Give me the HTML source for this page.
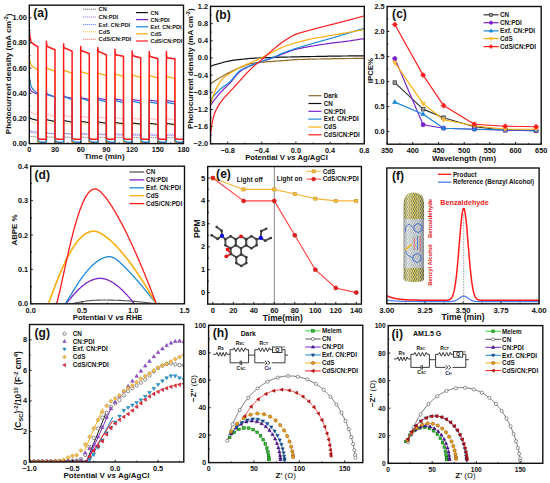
<!DOCTYPE html>
<html><head><meta charset="utf-8"><style>
html,body{margin:0;padding:0;background:#fff;}
svg{display:block;}
text{font-family:"Liberation Sans", sans-serif;}
</style></head><body>
<svg width="550" height="483" viewBox="0 0 550 483">
<rect width="550" height="483" fill="#fff"/>
<clipPath id="cd"><rect x="30.7" y="166.2" width="153.8" height="137.6"/></clipPath>
<g clip-path="url(#cd)">
<polyline points="71.7,303.8 72.2,303.7 72.8,303.5 73.3,303.4 73.8,303.3 74.4,303.2 74.9,303.1 75.4,302.9 75.9,302.8 76.5,302.7 77,302.6 77.5,302.5 78.1,302.4 78.6,302.3 79.1,302.2 79.6,302.1 80.2,302 80.7,301.9 81.2,301.8 81.8,301.7 82.3,301.6 82.8,301.6 83.3,301.5 83.9,301.4 84.4,301.3 84.9,301.2 85.5,301.2 86,301.1 86.5,301 87,301 87.6,300.9 88.1,300.8 88.6,300.8 89.2,300.7 89.7,300.7 90.2,300.6 90.7,300.6 91.3,300.5 91.8,300.5 92.3,300.4 92.9,300.4 93.4,300.3 93.9,300.3 94.5,300.3 95,300.2 95.5,300.2 96,300.2 96.6,300.2 97.1,300.1 97.6,300.1 98.2,300.1 98.7,300.1 99.2,300.1 99.7,300.1 100.3,300 100.8,300 101.3,300 101.9,300 102.4,300 102.9,300 103.4,300 104,300 104.5,300 105,300 105.6,300 106.1,300 106.6,300 107.1,300 107.7,300 108.2,300 108.7,300.1 109.3,300.1 109.8,300.1 110.3,300.1 110.8,300.1 111.4,300.1 111.9,300.1 112.4,300.1 113,300.1 113.5,300.2 114,300.2 114.5,300.2 115.1,300.2 115.6,300.2 116.1,300.2 116.7,300.3 117.2,300.3 117.7,300.3 118.2,300.3 118.8,300.4 119.3,300.4 119.8,300.4 120.4,300.4 120.9,300.5 121.4,300.5 121.9,300.5 122.5,300.5 123,300.6 123.5,300.6 124.1,300.6 124.6,300.7 125.1,300.7 125.6,300.7 126.2,300.7 126.7,300.8 127.2,300.8 127.8,300.9 128.3,300.9 128.8,300.9 129.4,301 129.9,301 130.4,301 130.9,301.1 131.5,301.1 132,301.2 132.5,301.2 133.1,301.2 133.6,301.3 134.1,301.3 134.6,301.4 135.2,301.4 135.7,301.5 136.2,301.5 136.8,301.6 137.3,301.6 137.8,301.7 138.3,301.7 138.9,301.8 139.4,301.8 139.9,301.9 140.5,301.9 141,302 141.5,302 142,302.1 142.6,302.1 143.1,302.2 143.6,302.3 144.2,302.3 144.7,302.4 145.2,302.4 145.7,302.5 146.3,302.6 146.8,302.6 147.3,302.7 147.9,302.8 148.4,302.8 148.9,302.9 149.4,302.9 150,303 150.5,303.1 151,303.2 151.6,303.2 152.1,303.3 152.6,303.4 153.1,303.4 153.7,303.5 154.2,303.6 154.7,303.7 155.3,303.7 155.8,303.8" fill="none" stroke="#555555" stroke-width="1.1" stroke-linejoin="round"/>
<polyline points="65.6,303.8 66,303.4 66.4,303 66.9,302.6 67.3,302.1 67.7,301.6 68.2,301.1 68.6,300.6 69,300.1 69.4,299.6 69.9,299.1 70.3,298.6 70.7,298 71.2,297.5 71.6,297 72,296.5 72.5,296 72.9,295.5 73.3,295 73.8,294.6 74.2,294.1 74.6,293.6 75.1,293.1 75.5,292.7 75.9,292.2 76.4,291.7 76.8,291.3 77.2,290.8 77.7,290.4 78.1,290 78.5,289.5 79,289.1 79.4,288.7 79.8,288.3 80.3,287.9 80.7,287.5 81.1,287.1 81.5,286.7 82,286.4 82.4,286 82.8,285.6 83.3,285.3 83.7,285 84.1,284.6 84.6,284.3 85,284 85.4,283.7 85.9,283.4 86.3,283.1 86.7,282.8 87.2,282.5 87.6,282.3 88,282 88.5,281.8 88.9,281.5 89.3,281.3 89.8,281.1 90.2,280.9 90.6,280.7 91.1,280.5 91.5,280.3 91.9,280.1 92.3,279.9 92.8,279.8 93.2,279.6 93.6,279.5 94.1,279.3 94.5,279.2 94.9,279.1 95.4,279 95.8,278.9 96.2,278.8 96.7,278.7 97.1,278.6 97.5,278.5 98,278.5 98.4,278.4 98.8,278.4 99.3,278.4 99.7,278.4 100.1,278.3 100.6,278.3 101,278.4 101.4,278.4 101.9,278.4 102.3,278.5 102.7,278.5 103.2,278.6 103.6,278.7 104,278.8 104.4,278.9 104.9,279 105.3,279.1 105.7,279.2 106.2,279.4 106.6,279.5 107,279.7 107.5,279.8 107.9,280 108.3,280.2 108.8,280.4 109.2,280.6 109.6,280.8 110.1,281 110.5,281.2 110.9,281.5 111.4,281.7 111.8,282 112.2,282.2 112.7,282.5 113.1,282.7 113.5,283 114,283.3 114.4,283.6 114.8,283.9 115.2,284.2 115.7,284.5 116.1,284.8 116.5,285.2 117,285.5 117.4,285.8 117.8,286.2 118.3,286.5 118.7,286.9 119.1,287.3 119.6,287.6 120,288 120.4,288.4 120.9,288.8 121.3,289.2 121.7,289.6 122.2,290 122.6,290.4 123,290.9 123.5,291.3 123.9,291.7 124.3,292.2 124.8,292.6 125.2,293.1 125.6,293.5 126,294 126.5,294.4 126.9,294.9 127.3,295.4 127.8,295.9 128.2,296.4 128.6,296.9 129.1,297.4 129.5,297.9 129.9,298.4 130.4,298.9 130.8,299.4 131.2,300 131.7,300.5 132.1,301 132.5,301.6 133,302.1 133.4,302.7 133.8,303.2 134.3,303.8" fill="none" stroke="#7a22c8" stroke-width="1.3" stroke-linejoin="round"/>
<polyline points="65,303.8 65.6,303.1 66.2,302.3 66.8,301.5 67.3,300.6 67.9,299.7 68.5,298.7 69.1,297.8 69.6,296.9 70.2,295.9 70.8,295 71.4,294 71.9,293.1 72.5,292.1 73.1,291.2 73.7,290.2 74.2,289.3 74.8,288.4 75.4,287.5 76,286.6 76.5,285.7 77.1,284.8 77.7,283.9 78.2,283 78.8,282.1 79.4,281.3 80,280.4 80.5,279.6 81.1,278.8 81.7,278 82.3,277.2 82.8,276.4 83.4,275.6 84,274.9 84.6,274.1 85.1,273.4 85.7,272.7 86.3,272 86.9,271.3 87.4,270.6 88,270 88.6,269.3 89.2,268.7 89.7,268.1 90.3,267.5 90.9,266.9 91.4,266.3 92,265.7 92.6,265.2 93.2,264.7 93.7,264.2 94.3,263.7 94.9,263.2 95.5,262.7 96,262.3 96.6,261.8 97.2,261.4 97.8,261 98.3,260.6 98.9,260.3 99.5,259.9 100.1,259.6 100.6,259.3 101.2,259 101.8,258.7 102.4,258.4 102.9,258.2 103.5,257.9 104.1,257.7 104.6,257.5 105.2,257.3 105.8,257.2 106.4,257 106.9,256.9 107.5,256.8 108.1,256.7 108.7,256.7 109.2,256.7 109.8,256.7 110.4,256.7 111,256.8 111.5,257 112.1,257.1 112.7,257.3 113.3,257.6 113.8,257.9 114.4,258.2 115,258.5 115.6,258.9 116.1,259.3 116.7,259.7 117.3,260.2 117.9,260.7 118.4,261.1 119,261.6 119.6,262.1 120.1,262.6 120.7,263.2 121.3,263.7 121.9,264.2 122.4,264.8 123,265.3 123.6,265.9 124.2,266.5 124.7,267 125.3,267.6 125.9,268.2 126.5,268.8 127,269.4 127.6,270 128.2,270.6 128.8,271.2 129.3,271.8 129.9,272.4 130.5,273 131.1,273.6 131.6,274.2 132.2,274.9 132.8,275.5 133.3,276.1 133.9,276.8 134.5,277.4 135.1,278.1 135.6,278.7 136.2,279.4 136.8,280 137.4,280.7 137.9,281.3 138.5,282 139.1,282.7 139.7,283.3 140.2,284 140.8,284.7 141.4,285.4 142,286 142.5,286.7 143.1,287.4 143.7,288.1 144.3,288.8 144.8,289.5 145.4,290.2 146,290.9 146.5,291.6 147.1,292.3 147.7,293 148.3,293.7 148.8,294.4 149.4,295.1 150,295.8 150.6,296.5 151.1,297.3 151.7,298 152.3,298.7 152.9,299.4 153.4,300.1 154,300.9 154.6,301.6 155.2,302.3 155.7,303.1 156.3,303.8" fill="none" stroke="#1a86d8" stroke-width="1.3" stroke-linejoin="round"/>
<polyline points="48.1,303.8 48.8,302.3 49.5,300.6 50.2,298.8 50.9,297.1 51.5,295.3 52.2,293.5 52.9,291.6 53.6,289.8 54.3,288 54.9,286.3 55.6,284.5 56.3,282.7 57,281 57.7,279.3 58.3,277.6 59,275.9 59.7,274.3 60.4,272.7 61.1,271.1 61.7,269.5 62.4,267.9 63.1,266.4 63.8,264.9 64.5,263.5 65.1,262 65.8,260.6 66.5,259.2 67.2,257.9 67.9,256.6 68.5,255.3 69.2,254 69.9,252.8 70.6,251.6 71.3,250.4 71.9,249.3 72.6,248.2 73.3,247.2 74,246.1 74.7,245.1 75.3,244.2 76,243.2 76.7,242.3 77.4,241.5 78.1,240.6 78.7,239.8 79.4,239.1 80.1,238.3 80.8,237.7 81.5,237 82.1,236.4 82.8,235.8 83.5,235.2 84.2,234.7 84.9,234.2 85.5,233.8 86.2,233.4 86.9,233 87.6,232.7 88.3,232.4 89,232.1 89.6,231.8 90.3,231.6 91,231.5 91.7,231.4 92.4,231.3 93,231.2 93.7,231.2 94.4,231.3 95.1,231.3 95.8,231.4 96.4,231.6 97.1,231.8 97.8,232 98.5,232.3 99.2,232.6 99.8,232.9 100.5,233.2 101.2,233.6 101.9,234 102.6,234.4 103.2,234.8 103.9,235.3 104.6,235.8 105.3,236.3 106,236.8 106.6,237.3 107.3,237.8 108,238.4 108.7,238.9 109.4,239.5 110,240.1 110.7,240.7 111.4,241.3 112.1,242 112.8,242.6 113.4,243.3 114.1,244 114.8,244.6 115.5,245.3 116.2,246 116.8,246.8 117.5,247.5 118.2,248.2 118.9,249 119.6,249.7 120.2,250.5 120.9,251.3 121.6,252.1 122.3,252.9 123,253.7 123.6,254.5 124.3,255.4 125,256.2 125.7,257.1 126.4,257.9 127,258.8 127.7,259.7 128.4,260.6 129.1,261.5 129.8,262.4 130.5,263.3 131.1,264.2 131.8,265.1 132.5,266.1 133.2,267 133.9,268 134.5,268.9 135.2,269.9 135.9,270.9 136.6,271.9 137.3,272.9 137.9,273.9 138.6,274.9 139.3,275.9 140,276.9 140.7,278 141.3,279 142,280.1 142.7,281.1 143.4,282.2 144.1,283.3 144.7,284.3 145.4,285.4 146.1,286.5 146.8,287.6 147.5,288.7 148.1,289.9 148.8,291 149.5,292.1 150.2,293.3 150.9,294.4 151.5,295.5 152.2,296.7 152.9,297.9 153.6,299 154.3,300.2 154.9,301.4 155.6,302.6 156.3,303.8" fill="none" stroke="#f9ad0d" stroke-width="1.6" stroke-linejoin="round"/>
<polyline points="56.3,303.8 57,302.2 57.6,300.1 58.2,297.7 58.8,295.2 59.5,292.5 60.1,289.8 60.7,287 61.4,284.1 62,281.3 62.6,278.4 63.2,275.5 63.9,272.6 64.5,269.7 65.1,266.8 65.8,263.9 66.4,261.1 67,258.2 67.7,255.4 68.3,252.7 68.9,249.9 69.5,247.2 70.2,244.6 70.8,241.9 71.4,239.4 72.1,236.8 72.7,234.4 73.3,232 73.9,229.6 74.6,227.3 75.2,225 75.8,222.8 76.5,220.7 77.1,218.6 77.7,216.6 78.3,214.6 79,212.8 79.6,210.9 80.2,209.2 80.9,207.5 81.5,205.9 82.1,204.4 82.7,202.9 83.4,201.5 84,200.2 84.6,198.9 85.3,197.7 85.9,196.6 86.5,195.6 87.1,194.6 87.8,193.7 88.4,192.9 89,192.2 89.7,191.5 90.3,190.9 90.9,190.4 91.5,189.9 92.2,189.6 92.8,189.3 93.4,189.1 94.1,189 94.7,188.9 95.3,188.9 95.9,189 96.6,189.2 97.2,189.5 97.8,189.8 98.5,190.2 99.1,190.6 99.7,191.1 100.3,191.6 101,192.2 101.6,192.9 102.2,193.5 102.9,194.2 103.5,194.9 104.1,195.6 104.7,196.4 105.4,197.2 106,198 106.6,198.8 107.3,199.7 107.9,200.6 108.5,201.4 109.1,202.4 109.8,203.3 110.4,204.2 111,205.2 111.7,206.2 112.3,207.2 112.9,208.2 113.5,209.2 114.2,210.2 114.8,211.3 115.4,212.3 116.1,213.4 116.7,214.5 117.3,215.6 118,216.7 118.6,217.9 119.2,219 119.8,220.2 120.5,221.3 121.1,222.5 121.7,223.7 122.4,224.9 123,226.1 123.6,227.4 124.2,228.6 124.9,229.8 125.5,231.1 126.1,232.4 126.8,233.7 127.4,234.9 128,236.2 128.6,237.6 129.3,238.9 129.9,240.2 130.5,241.5 131.2,242.9 131.8,244.2 132.4,245.6 133,247 133.7,248.4 134.3,249.8 134.9,251.2 135.6,252.6 136.2,254 136.8,255.4 137.4,256.9 138.1,258.3 138.7,259.8 139.3,261.3 140,262.7 140.6,264.2 141.2,265.7 141.8,267.2 142.5,268.7 143.1,270.2 143.7,271.8 144.4,273.3 145,274.8 145.6,276.4 146.2,277.9 146.9,279.5 147.5,281.1 148.1,282.6 148.8,284.2 149.4,285.8 150,287.4 150.6,289 151.3,290.6 151.9,292.2 152.5,293.9 153.2,295.5 153.8,297.2 154.4,298.8 155,300.5 155.7,302.1 156.3,303.8" fill="none" stroke="#ff1b1b" stroke-width="1.3" stroke-linejoin="round"/>
</g>
<rect x="30.7" y="166.2" width="153.8" height="137.6" fill="none" stroke="#111111" stroke-width="1.4"/>
<line x1="30.7" y1="303.8" x2="30.7" y2="301.6" stroke="#111111" stroke-width="0.9"/>
<text x="30.7" y="312.6" font-size="7.3" text-anchor="middle" font-weight="bold" fill="#111111">0.0</text>
<line x1="82" y1="303.8" x2="82" y2="301.6" stroke="#111111" stroke-width="0.9"/>
<text x="82" y="312.6" font-size="7.3" text-anchor="middle" font-weight="bold" fill="#111111">0.5</text>
<line x1="133.2" y1="303.8" x2="133.2" y2="301.6" stroke="#111111" stroke-width="0.9"/>
<text x="133.2" y="312.6" font-size="7.3" text-anchor="middle" font-weight="bold" fill="#111111">1.0</text>
<line x1="184.5" y1="303.8" x2="184.5" y2="301.6" stroke="#111111" stroke-width="0.9"/>
<text x="184.5" y="312.6" font-size="7.3" text-anchor="middle" font-weight="bold" fill="#111111">1.5</text>
<line x1="56.3" y1="303.8" x2="56.3" y2="302.5" stroke="#111111" stroke-width="0.8"/>
<line x1="107.6" y1="303.8" x2="107.6" y2="302.5" stroke="#111111" stroke-width="0.8"/>
<line x1="158.9" y1="303.8" x2="158.9" y2="302.5" stroke="#111111" stroke-width="0.8"/>
<line x1="30.7" y1="303.8" x2="32.9" y2="303.8" stroke="#111111" stroke-width="0.9"/>
<text x="28.2" y="306.3" font-size="7.3" text-anchor="end" font-weight="bold" fill="#111111">0.0</text>
<line x1="30.7" y1="269.4" x2="32.9" y2="269.4" stroke="#111111" stroke-width="0.9"/>
<text x="28.2" y="271.9" font-size="7.3" text-anchor="end" font-weight="bold" fill="#111111">0.1</text>
<line x1="30.7" y1="235" x2="32.9" y2="235" stroke="#111111" stroke-width="0.9"/>
<text x="28.2" y="237.5" font-size="7.3" text-anchor="end" font-weight="bold" fill="#111111">0.2</text>
<line x1="30.7" y1="200.6" x2="32.9" y2="200.6" stroke="#111111" stroke-width="0.9"/>
<text x="28.2" y="203.1" font-size="7.3" text-anchor="end" font-weight="bold" fill="#111111">0.3</text>
<line x1="30.7" y1="166.2" x2="32.9" y2="166.2" stroke="#111111" stroke-width="0.9"/>
<text x="28.2" y="168.7" font-size="7.3" text-anchor="end" font-weight="bold" fill="#111111">0.4</text>
<line x1="30.7" y1="286.6" x2="32" y2="286.6" stroke="#111111" stroke-width="0.8"/>
<line x1="30.7" y1="252.2" x2="32" y2="252.2" stroke="#111111" stroke-width="0.8"/>
<line x1="30.7" y1="217.8" x2="32" y2="217.8" stroke="#111111" stroke-width="0.8"/>
<line x1="30.7" y1="183.4" x2="32" y2="183.4" stroke="#111111" stroke-width="0.8"/>
<text x="107.6" y="320" font-size="7.8" text-anchor="middle" font-weight="bold" fill="#111111">Potential V <tspan font-style="italic">vs</tspan> RHE</text>
<text x="17.4" y="230" font-size="7.9" text-anchor="middle" font-weight="bold" fill="#111111" transform="rotate(-90 17.4 230)">ABPE %</text>
<text x="42.3" y="178.7" font-size="12.1" text-anchor="middle" font-weight="bold" fill="#111111">(d)</text>
<line x1="129.5" y1="172" x2="144.2" y2="172" stroke="#555555" stroke-width="1.3"/>
<text x="146.1" y="174.2" font-size="6.3" text-anchor="start" font-weight="bold" fill="#111111">CN</text>
<line x1="129.5" y1="179.9" x2="144.2" y2="179.9" stroke="#7a22c8" stroke-width="1.3"/>
<text x="146.1" y="182.1" font-size="6.3" text-anchor="start" font-weight="bold" fill="#111111">CN:PDI</text>
<line x1="129.5" y1="187.8" x2="144.2" y2="187.8" stroke="#1a86d8" stroke-width="1.3"/>
<text x="146.1" y="190" font-size="6.3" text-anchor="start" font-weight="bold" fill="#111111">Exf. CN:PDI</text>
<line x1="129.5" y1="195.7" x2="144.2" y2="195.7" stroke="#f9ad0d" stroke-width="1.3"/>
<text x="146.1" y="197.9" font-size="6.3" text-anchor="start" font-weight="bold" fill="#111111">CdS</text>
<line x1="129.5" y1="203.6" x2="144.2" y2="203.6" stroke="#ff1b1b" stroke-width="1.3"/>
<text x="146.1" y="205.8" font-size="6.3" text-anchor="start" font-weight="bold" fill="#111111">CdS/CN:PDI</text>
<line x1="274.3" y1="166.5" x2="274.3" y2="304.1" stroke="#333" stroke-width="0.6"/>
<polyline points="212.8,178 243.6,189.4 274.3,189.4 294.8,194 315.3,198.6 335.8,200.9 356.3,200.9" fill="none" stroke="#f7b53a" stroke-width="1.1" stroke-linejoin="round"/>
<polyline points="212.8,178 243.6,200.9 274.3,200.9 294.8,235.3 315.3,269.7 335.8,288 356.3,292.6" fill="none" stroke="#ff4040" stroke-width="1.1" stroke-linejoin="round"/>
<rect x="211.2" y="176.4" width="3.2" height="3.2" fill="#f2c040" stroke="#c89020" stroke-width="0.6"/>
<rect x="241.9" y="187.8" width="3.2" height="3.2" fill="#f2c040" stroke="#c89020" stroke-width="0.6"/>
<rect x="272.7" y="187.8" width="3.2" height="3.2" fill="#f2c040" stroke="#c89020" stroke-width="0.6"/>
<rect x="293.2" y="192.4" width="3.2" height="3.2" fill="#f2c040" stroke="#c89020" stroke-width="0.6"/>
<rect x="313.7" y="197" width="3.2" height="3.2" fill="#f2c040" stroke="#c89020" stroke-width="0.6"/>
<rect x="334.2" y="199.3" width="3.2" height="3.2" fill="#f2c040" stroke="#c89020" stroke-width="0.6"/>
<rect x="354.7" y="199.3" width="3.2" height="3.2" fill="#f2c040" stroke="#c89020" stroke-width="0.6"/>
<circle cx="212.8" cy="178" r="2" fill="#e82020" stroke="#c01010" stroke-width="0.6"/>
<circle cx="243.6" cy="200.9" r="2" fill="#e82020" stroke="#c01010" stroke-width="0.6"/>
<circle cx="274.3" cy="200.9" r="2" fill="#e82020" stroke="#c01010" stroke-width="0.6"/>
<circle cx="294.8" cy="235.3" r="2" fill="#e82020" stroke="#c01010" stroke-width="0.6"/>
<circle cx="315.3" cy="269.7" r="2" fill="#e82020" stroke="#c01010" stroke-width="0.6"/>
<circle cx="335.8" cy="288" r="2" fill="#e82020" stroke="#c01010" stroke-width="0.6"/>
<circle cx="356.3" cy="292.6" r="2" fill="#e82020" stroke="#c01010" stroke-width="0.6"/>
<g><line x1="235.8" y1="245.3" x2="230.6" y2="248.3" stroke="#4f4f4f" stroke-width="1.9" stroke-linecap="round"/><line x1="230.6" y1="248.3" x2="225.4" y2="245.3" stroke="#4f4f4f" stroke-width="1.9" stroke-linecap="round"/><line x1="225.4" y1="245.3" x2="225.4" y2="239.3" stroke="#4f4f4f" stroke-width="1.9" stroke-linecap="round"/><line x1="225.4" y1="239.3" x2="230.6" y2="236.3" stroke="#4f4f4f" stroke-width="1.9" stroke-linecap="round"/><line x1="230.6" y1="236.3" x2="235.8" y2="239.3" stroke="#4f4f4f" stroke-width="1.9" stroke-linecap="round"/><line x1="235.8" y1="239.3" x2="235.8" y2="245.3" stroke="#4f4f4f" stroke-width="1.9" stroke-linecap="round"/><line x1="246.2" y1="245.3" x2="241" y2="248.3" stroke="#4f4f4f" stroke-width="1.9" stroke-linecap="round"/><line x1="241" y1="248.3" x2="235.8" y2="245.3" stroke="#4f4f4f" stroke-width="1.9" stroke-linecap="round"/><line x1="235.8" y1="245.3" x2="235.8" y2="239.3" stroke="#4f4f4f" stroke-width="1.9" stroke-linecap="round"/><line x1="235.8" y1="239.3" x2="241" y2="236.3" stroke="#4f4f4f" stroke-width="1.9" stroke-linecap="round"/><line x1="241" y1="236.3" x2="246.2" y2="239.3" stroke="#4f4f4f" stroke-width="1.9" stroke-linecap="round"/><line x1="246.2" y1="239.3" x2="246.2" y2="245.3" stroke="#4f4f4f" stroke-width="1.9" stroke-linecap="round"/><line x1="256.6" y1="245.3" x2="251.4" y2="248.3" stroke="#4f4f4f" stroke-width="1.9" stroke-linecap="round"/><line x1="251.4" y1="248.3" x2="246.2" y2="245.3" stroke="#4f4f4f" stroke-width="1.9" stroke-linecap="round"/><line x1="246.2" y1="245.3" x2="246.2" y2="239.3" stroke="#4f4f4f" stroke-width="1.9" stroke-linecap="round"/><line x1="246.2" y1="239.3" x2="251.4" y2="236.3" stroke="#4f4f4f" stroke-width="1.9" stroke-linecap="round"/><line x1="251.4" y1="236.3" x2="256.6" y2="239.3" stroke="#4f4f4f" stroke-width="1.9" stroke-linecap="round"/><line x1="256.6" y1="239.3" x2="256.6" y2="245.3" stroke="#4f4f4f" stroke-width="1.9" stroke-linecap="round"/><line x1="246.3" y1="263.1" x2="241.3" y2="266" stroke="#4f4f4f" stroke-width="1.9" stroke-linecap="round"/><line x1="241.3" y1="266" x2="236.3" y2="263.1" stroke="#4f4f4f" stroke-width="1.9" stroke-linecap="round"/><line x1="236.3" y1="263.1" x2="236.3" y2="257.3" stroke="#4f4f4f" stroke-width="1.9" stroke-linecap="round"/><line x1="236.3" y1="257.3" x2="241.3" y2="254.4" stroke="#4f4f4f" stroke-width="1.9" stroke-linecap="round"/><line x1="241.3" y1="254.4" x2="246.3" y2="257.3" stroke="#4f4f4f" stroke-width="1.9" stroke-linecap="round"/><line x1="246.3" y1="257.3" x2="246.3" y2="263.1" stroke="#4f4f4f" stroke-width="1.9" stroke-linecap="round"/><line x1="241" y1="248.3" x2="241.3" y2="254.4" stroke="#4f4f4f" stroke-width="1.9" stroke-linecap="round"/><line x1="230.6" y1="248.3" x2="231" y2="254" stroke="#4f4f4f" stroke-width="1.9" stroke-linecap="round"/><line x1="231" y1="254" x2="236.3" y2="257.3" stroke="#4f4f4f" stroke-width="1.9" stroke-linecap="round"/><line x1="231" y1="254" x2="227.6" y2="249.4" stroke="#c03030" stroke-width="1.9" stroke-linecap="round"/><line x1="231" y1="254" x2="226.3" y2="256.3" stroke="#c03030" stroke-width="1.9" stroke-linecap="round"/><line x1="225.4" y1="239.3" x2="222" y2="235.8" stroke="#4f4f4f" stroke-width="1.9" stroke-linecap="round"/><line x1="256.6" y1="239.3" x2="260.8" y2="237.9" stroke="#4f4f4f" stroke-width="1.9" stroke-linecap="round"/><line x1="222" y1="235.8" x2="221.7" y2="230.7" stroke="#4f4f4f" stroke-width="1.9" stroke-linecap="round"/><line x1="221.7" y1="230.7" x2="216.7" y2="227" stroke="#4f4f4f" stroke-width="1.9" stroke-linecap="round"/><line x1="222" y1="235.8" x2="217.6" y2="238.9" stroke="#4f4f4f" stroke-width="1.9" stroke-linecap="round"/><line x1="217.6" y1="238.9" x2="211.6" y2="235.2" stroke="#4f4f4f" stroke-width="1.9" stroke-linecap="round"/><line x1="260.8" y1="237.9" x2="261.2" y2="231.1" stroke="#4f4f4f" stroke-width="1.9" stroke-linecap="round"/><line x1="261.2" y1="231.1" x2="266.2" y2="228.8" stroke="#4f4f4f" stroke-width="1.9" stroke-linecap="round"/><line x1="260.8" y1="237.9" x2="265.3" y2="240.7" stroke="#4f4f4f" stroke-width="1.9" stroke-linecap="round"/><line x1="265.3" y1="240.7" x2="270.8" y2="237.9" stroke="#4f4f4f" stroke-width="1.9" stroke-linecap="round"/></g>
<circle cx="235.8" cy="245.3" r="1.25" fill="#3a3a3a"/>
<circle cx="230.6" cy="248.3" r="1.25" fill="#3a3a3a"/>
<circle cx="225.4" cy="245.3" r="1.25" fill="#3a3a3a"/>
<circle cx="225.4" cy="239.3" r="1.25" fill="#3a3a3a"/>
<circle cx="230.6" cy="236.3" r="1.25" fill="#3a3a3a"/>
<circle cx="235.8" cy="239.3" r="1.25" fill="#3a3a3a"/>
<circle cx="246.2" cy="245.3" r="1.25" fill="#3a3a3a"/>
<circle cx="241" cy="248.3" r="1.25" fill="#3a3a3a"/>
<circle cx="235.8" cy="245.3" r="1.25" fill="#3a3a3a"/>
<circle cx="235.8" cy="239.3" r="1.25" fill="#3a3a3a"/>
<circle cx="241" cy="236.3" r="1.25" fill="#3a3a3a"/>
<circle cx="246.2" cy="239.3" r="1.25" fill="#3a3a3a"/>
<circle cx="256.6" cy="245.3" r="1.25" fill="#3a3a3a"/>
<circle cx="251.4" cy="248.3" r="1.25" fill="#3a3a3a"/>
<circle cx="246.2" cy="245.3" r="1.25" fill="#3a3a3a"/>
<circle cx="246.2" cy="239.3" r="1.25" fill="#3a3a3a"/>
<circle cx="251.4" cy="236.3" r="1.25" fill="#3a3a3a"/>
<circle cx="256.6" cy="239.3" r="1.25" fill="#3a3a3a"/>
<circle cx="246.3" cy="263.1" r="1.25" fill="#3a3a3a"/>
<circle cx="241.3" cy="266" r="1.25" fill="#3a3a3a"/>
<circle cx="236.3" cy="263.1" r="1.25" fill="#3a3a3a"/>
<circle cx="236.3" cy="257.3" r="1.25" fill="#3a3a3a"/>
<circle cx="241.3" cy="254.4" r="1.25" fill="#3a3a3a"/>
<circle cx="246.3" cy="257.3" r="1.25" fill="#3a3a3a"/>
<circle cx="231" cy="254" r="1.25" fill="#3a3a3a"/>
<circle cx="221.7" cy="230.7" r="1.25" fill="#3a3a3a"/>
<circle cx="216.7" cy="227" r="1.25" fill="#3a3a3a"/>
<circle cx="217.6" cy="238.9" r="1.25" fill="#3a3a3a"/>
<circle cx="211.6" cy="235.2" r="1.25" fill="#3a3a3a"/>
<circle cx="261.2" cy="231.1" r="1.25" fill="#3a3a3a"/>
<circle cx="266.2" cy="228.8" r="1.25" fill="#3a3a3a"/>
<circle cx="265.3" cy="240.7" r="1.25" fill="#3a3a3a"/>
<circle cx="270.8" cy="237.9" r="1.25" fill="#3a3a3a"/>
<circle cx="222" cy="235.8" r="2.1" fill="#0a0ae0"/>
<circle cx="260.8" cy="237.9" r="2.1" fill="#0a0ae0"/>
<circle cx="241" cy="236.3" r="1.9" fill="#f01010"/>
<circle cx="227.6" cy="249.4" r="1.9" fill="#f01010"/>
<circle cx="226.3" cy="256.3" r="1.9" fill="#f01010"/>
<rect x="207.7" y="166.5" width="153.7" height="137.6" fill="none" stroke="#111111" stroke-width="1.4"/>
<line x1="212.8" y1="304.1" x2="212.8" y2="301.9" stroke="#111111" stroke-width="0.9"/>
<text x="212.8" y="312.5" font-size="7.5" text-anchor="middle" font-weight="bold" fill="#111111">0</text>
<line x1="233.3" y1="304.1" x2="233.3" y2="301.9" stroke="#111111" stroke-width="0.9"/>
<text x="233.3" y="312.5" font-size="7.5" text-anchor="middle" font-weight="bold" fill="#111111">20</text>
<line x1="253.8" y1="304.1" x2="253.8" y2="301.9" stroke="#111111" stroke-width="0.9"/>
<text x="253.8" y="312.5" font-size="7.5" text-anchor="middle" font-weight="bold" fill="#111111">40</text>
<line x1="274.3" y1="304.1" x2="274.3" y2="301.9" stroke="#111111" stroke-width="0.9"/>
<text x="274.3" y="312.5" font-size="7.5" text-anchor="middle" font-weight="bold" fill="#111111">60</text>
<line x1="294.8" y1="304.1" x2="294.8" y2="301.9" stroke="#111111" stroke-width="0.9"/>
<text x="294.8" y="312.5" font-size="7.5" text-anchor="middle" font-weight="bold" fill="#111111">80</text>
<line x1="315.3" y1="304.1" x2="315.3" y2="301.9" stroke="#111111" stroke-width="0.9"/>
<text x="315.3" y="312.5" font-size="7.5" text-anchor="middle" font-weight="bold" fill="#111111">100</text>
<line x1="335.8" y1="304.1" x2="335.8" y2="301.9" stroke="#111111" stroke-width="0.9"/>
<text x="335.8" y="312.5" font-size="7.5" text-anchor="middle" font-weight="bold" fill="#111111">120</text>
<line x1="356.3" y1="304.1" x2="356.3" y2="301.9" stroke="#111111" stroke-width="0.9"/>
<text x="356.3" y="312.5" font-size="7.5" text-anchor="middle" font-weight="bold" fill="#111111">140</text>
<line x1="223.1" y1="304.1" x2="223.1" y2="302.8" stroke="#111111" stroke-width="0.8"/>
<line x1="243.6" y1="304.1" x2="243.6" y2="302.8" stroke="#111111" stroke-width="0.8"/>
<line x1="264.1" y1="304.1" x2="264.1" y2="302.8" stroke="#111111" stroke-width="0.8"/>
<line x1="284.5" y1="304.1" x2="284.5" y2="302.8" stroke="#111111" stroke-width="0.8"/>
<line x1="305" y1="304.1" x2="305" y2="302.8" stroke="#111111" stroke-width="0.8"/>
<line x1="325.5" y1="304.1" x2="325.5" y2="302.8" stroke="#111111" stroke-width="0.8"/>
<line x1="346" y1="304.1" x2="346" y2="302.8" stroke="#111111" stroke-width="0.8"/>
<line x1="207.7" y1="292.6" x2="209.9" y2="292.6" stroke="#111111" stroke-width="0.9"/>
<text x="205.2" y="295.1" font-size="7.5" text-anchor="end" font-weight="bold" fill="#111111">0</text>
<line x1="207.7" y1="269.7" x2="209.9" y2="269.7" stroke="#111111" stroke-width="0.9"/>
<text x="205.2" y="272.2" font-size="7.5" text-anchor="end" font-weight="bold" fill="#111111">1</text>
<line x1="207.7" y1="246.8" x2="209.9" y2="246.8" stroke="#111111" stroke-width="0.9"/>
<text x="205.2" y="249.3" font-size="7.5" text-anchor="end" font-weight="bold" fill="#111111">2</text>
<line x1="207.7" y1="223.8" x2="209.9" y2="223.8" stroke="#111111" stroke-width="0.9"/>
<text x="205.2" y="226.3" font-size="7.5" text-anchor="end" font-weight="bold" fill="#111111">3</text>
<line x1="207.7" y1="200.9" x2="209.9" y2="200.9" stroke="#111111" stroke-width="0.9"/>
<text x="205.2" y="203.4" font-size="7.5" text-anchor="end" font-weight="bold" fill="#111111">4</text>
<line x1="207.7" y1="178" x2="209.9" y2="178" stroke="#111111" stroke-width="0.9"/>
<text x="205.2" y="180.5" font-size="7.5" text-anchor="end" font-weight="bold" fill="#111111">5</text>
<line x1="207.7" y1="281.2" x2="209" y2="281.2" stroke="#111111" stroke-width="0.8"/>
<line x1="207.7" y1="258.2" x2="209" y2="258.2" stroke="#111111" stroke-width="0.8"/>
<line x1="207.7" y1="235.3" x2="209" y2="235.3" stroke="#111111" stroke-width="0.8"/>
<line x1="207.7" y1="212.4" x2="209" y2="212.4" stroke="#111111" stroke-width="0.8"/>
<line x1="207.7" y1="189.4" x2="209" y2="189.4" stroke="#111111" stroke-width="0.8"/>
<text x="282.8" y="321.1" font-size="8.4" text-anchor="middle" font-weight="bold" fill="#111111">Time(min)</text>
<text x="199.9" y="228.6" font-size="8.6" text-anchor="middle" font-weight="bold" fill="#111111" transform="rotate(-90 199.9 228.6)">PPM</text>
<text x="223.5" y="178.2" font-size="12.1" text-anchor="middle" font-weight="bold" fill="#111111">(e)</text>
<text x="236.8" y="181.5" font-size="6.5" text-anchor="start" font-weight="bold" fill="#111111">Light off</text>
<text x="276.8" y="181" font-size="6.5" text-anchor="start" font-weight="bold" fill="#111111">Light on</text>
<line x1="306.4" y1="171.3" x2="320.9" y2="171.3" stroke="#f7b53a" stroke-width="1.0"/>
<rect x="312.1" y="169.8" width="3.1" height="3.1" fill="#f2c040" stroke="#c89020" stroke-width="0.6"/>
<text x="322.7" y="173.5" font-size="6.3" text-anchor="start" font-weight="bold" fill="#111111">CdS</text>
<line x1="306.4" y1="179.1" x2="320.9" y2="179.1" stroke="#ff4040" stroke-width="1.0"/>
<circle cx="313.6" cy="179.1" r="1.9" fill="#e82020" stroke="#c01010" stroke-width="0.6"/>
<text x="322.7" y="181.3" font-size="6.3" text-anchor="start" font-weight="bold" fill="#111111">CdS/CN:PDI</text>
<clipPath id="cf"><rect x="386.8" y="168" width="152.3" height="135.8"/></clipPath>
<g clip-path="url(#cf)">
<polyline points="386.8,300.1 387.2,300.2 387.6,300.2 387.9,300.3 388.3,300.3 388.7,300.4 389.1,300.4 389.5,300.5 389.9,300.5 390.2,300.6 390.6,300.6 391,300.7 391.4,300.7 391.8,300.7 392.1,300.8 392.5,300.8 392.9,300.8 393.3,300.9 393.7,300.9 394.1,300.9 394.4,300.9 394.8,301 395.2,301 395.6,301 396,301 396.3,301.1 396.7,301.1 397.1,301.1 397.5,301.1 397.9,301.2 398.3,301.2 398.6,301.2 399,301.2 399.4,301.2 399.8,301.2 400.2,301.3 400.5,301.3 400.9,301.3 401.3,301.3 401.7,301.3 402.1,301.3 402.4,301.3 402.8,301.3 403.2,301.4 403.6,301.4 404,301.4 404.4,301.4 404.7,301.4 405.1,301.4 405.5,301.4 405.9,301.4 406.3,301.4 406.6,301.4 407,301.4 407.4,301.4 407.8,301.4 408.2,301.5 408.6,301.5 408.9,301.5 409.3,301.5 409.7,301.5 410.1,301.5 410.5,301.5 410.8,301.5 411.2,301.5 411.6,301.5 412,301.5 412.4,301.5 412.8,301.5 413.1,301.5 413.5,301.5 413.9,301.5 414.3,301.5 414.7,301.5 415,301.5 415.4,301.5 415.8,301.5 416.2,301.5 416.6,301.5 417,301.5 417.3,301.5 417.7,301.5 418.1,301.6 418.5,301.6 418.9,301.6 419.2,301.6 419.6,301.6 420,301.6 420.4,301.6 420.8,301.6 421.2,301.6 421.5,301.6 421.9,301.6 422.3,301.6 422.7,301.6 423.1,301.6 423.4,301.6 423.8,301.6 424.2,301.6 424.6,301.6 425,301.6 425.4,301.6 425.7,301.6 426.1,301.6 426.5,301.6 426.9,301.6 427.3,301.6 427.6,301.6 428,301.6 428.4,301.6 428.8,301.6 429.2,301.6 429.6,301.6 429.9,301.6 430.3,301.6 430.7,301.6 431.1,301.6 431.5,301.6 431.8,301.6 432.2,301.6 432.6,301.6 433,301.6 433.4,301.6 433.7,301.6 434.1,301.6 434.5,301.6 434.9,301.6 435.3,301.6 435.7,301.6 436,301.6 436.4,301.6 436.8,301.6 437.2,301.6 437.6,301.6 437.9,301.6 438.3,301.6 438.7,301.6 439.1,301.6 439.5,301.6 439.9,301.6 440.2,301.6 440.6,301.6 441,301.6 441.4,301.6 441.8,301.6 442.1,301.6 442.5,301.6 442.9,301.6 443.3,301.6 443.7,301.6 444.1,301.6 444.4,301.6 444.8,301.6 445.2,301.6 445.6,301.6 446,301.6 446.3,301.6 446.7,301.6 447.1,301.6 447.5,301.6 447.9,301.6 448.3,301.6 448.6,301.6 449,301.6 449.4,301.6 449.8,301.6 450.2,301.5 450.5,301.5 450.9,301.5 451.3,301.5 451.7,301.4 452.1,301.4 452.5,301.4 452.8,301.3 453.2,301.2 453.6,301.2 454,301.1 454.4,301 454.7,300.8 455.1,300.7 455.5,300.6 455.9,300.4 456.3,300.2 456.7,300 457,299.8 457.4,299.5 457.8,299.3 458.2,299 458.6,298.7 458.9,298.5 459.3,298.2 459.7,297.9 460.1,297.6 460.5,297.4 460.9,297.1 461.2,296.9 461.6,296.7 462,296.5 462.4,296.3 462.8,296.2 463.1,296.1 463.5,296.1 463.9,296.1 464.3,296.1 464.7,296.2 465,296.3 465.4,296.5 465.8,296.7 466.2,296.9 466.6,297.1 467,297.4 467.3,297.6 467.7,297.9 468.1,298.2 468.5,298.5 468.9,298.7 469.2,299 469.6,299.3 470,299.5 470.4,299.8 470.8,300 471.2,300.2 471.5,300.4 471.9,300.6 472.3,300.7 472.7,300.8 473.1,301 473.4,301.1 473.8,301.2 474.2,301.2 474.6,301.3 475,301.4 475.4,301.4 475.7,301.4 476.1,301.5 476.5,301.5 476.9,301.5 477.3,301.5 477.6,301.6 478,301.6 478.4,301.6 478.8,301.6 479.2,301.6 479.6,301.6 479.9,301.6 480.3,301.6 480.7,301.6 481.1,301.6 481.5,301.6 481.8,301.6 482.2,301.6 482.6,301.6 483,301.6 483.4,301.6 483.8,301.6 484.1,301.6 484.5,301.6 484.9,301.6 485.3,301.6 485.7,301.6 486,301.6 486.4,301.6 486.8,301.6 487.2,301.6 487.6,301.6 488,301.6 488.3,301.6 488.7,301.6 489.1,301.6 489.5,301.6 489.9,301.6 490.2,301.6 490.6,301.6 491,301.6 491.4,301.6 491.8,301.6 492.2,301.6 492.5,301.6 492.9,301.6 493.3,301.6 493.7,301.6 494.1,301.6 494.4,301.6 494.8,301.6 495.2,301.6 495.6,301.6 496,301.6 496.3,301.6 496.7,301.6 497.1,301.6 497.5,301.6 497.9,301.6 498.3,301.6 498.6,301.6 499,301.6 499.4,301.6 499.8,301.6 500.2,301.6 500.5,301.6 500.9,301.6 501.3,301.6 501.7,301.6 502.1,301.6 502.5,301.6 502.8,301.6 503.2,301.6 503.6,301.6 504,301.6 504.4,301.6 504.7,301.6 505.1,301.6 505.5,301.6 505.9,301.6 506.3,301.6 506.7,301.6 507,301.6 507.4,301.6 507.8,301.6 508.2,301.6 508.6,301.6 508.9,301.6 509.3,301.6 509.7,301.6 510.1,301.6 510.5,301.6 510.9,301.6 511.2,301.6 511.6,301.6 512,301.6 512.4,301.6 512.8,301.6 513.1,301.6 513.5,301.6 513.9,301.6 514.3,301.6 514.7,301.6 515.1,301.6 515.4,301.6 515.8,301.6 516.2,301.6 516.6,301.6 517,301.6 517.3,301.6 517.7,301.6 518.1,301.6 518.5,301.6 518.9,301.6 519.3,301.6 519.6,301.6 520,301.6 520.4,301.6 520.8,301.6 521.2,301.6 521.5,301.6 521.9,301.6 522.3,301.6 522.7,301.6 523.1,301.6 523.5,301.6 523.8,301.6 524.2,301.6 524.6,301.6 525,301.6 525.4,301.6 525.7,301.6 526.1,301.6 526.5,301.6 526.9,301.6 527.3,301.6 527.6,301.6 528,301.6 528.4,301.6 528.8,301.6 529.2,301.6 529.6,301.6 529.9,301.6 530.3,301.6 530.7,301.6 531.1,301.6 531.5,301.6 531.8,301.6 532.2,301.6 532.6,301.6 533,301.6 533.4,301.6 533.8,301.6 534.1,301.6 534.5,301.6 534.9,301.6 535.3,301.6 535.7,301.6 536,301.6 536.4,301.6 536.8,301.6 537.2,301.6 537.6,301.6 538,301.6 538.3,301.6 538.7,301.6 539.1,301.6" fill="none" stroke="#4a7cf0" stroke-width="1.2" stroke-linejoin="round"/>
<polyline points="386.8,295.7 387.2,295.9 387.6,296.1 387.9,296.2 388.3,296.4 388.7,296.6 389.1,296.7 389.5,296.9 389.9,297 390.2,297.1 390.6,297.3 391,297.4 391.4,297.5 391.8,297.6 392.1,297.7 392.5,297.8 392.9,297.9 393.3,298 393.7,298.1 394.1,298.2 394.4,298.3 394.8,298.4 395.2,298.5 395.6,298.5 396,298.6 396.3,298.7 396.7,298.7 397.1,298.8 397.5,298.9 397.9,298.9 398.3,299 398.6,299 399,299.1 399.4,299.1 399.8,299.2 400.2,299.2 400.5,299.3 400.9,299.3 401.3,299.4 401.7,299.4 402.1,299.4 402.4,299.5 402.8,299.5 403.2,299.5 403.6,299.6 404,299.6 404.4,299.6 404.7,299.7 405.1,299.7 405.5,299.7 405.9,299.7 406.3,299.8 406.6,299.8 407,299.8 407.4,299.8 407.8,299.8 408.2,299.9 408.6,299.9 408.9,299.9 409.3,299.9 409.7,299.9 410.1,299.9 410.5,300 410.8,300 411.2,300 411.6,300 412,300 412.4,300 412.8,300 413.1,300 413.5,300.1 413.9,300.1 414.3,300.1 414.7,300.1 415,300.1 415.4,300.1 415.8,300.1 416.2,300.1 416.6,300.1 417,300.1 417.3,300.1 417.7,300.1 418.1,300.2 418.5,300.2 418.9,300.2 419.2,300.2 419.6,300.2 420,300.2 420.4,300.2 420.8,300.2 421.2,300.2 421.5,300.2 421.9,300.2 422.3,300.2 422.7,300.2 423.1,300.2 423.4,300.2 423.8,300.2 424.2,300.2 424.6,300.2 425,300.2 425.4,300.2 425.7,300.2 426.1,300.2 426.5,300.2 426.9,300.2 427.3,300.2 427.6,300.2 428,300.2 428.4,300.3 428.8,300.3 429.2,300.3 429.6,300.3 429.9,300.3 430.3,300.3 430.7,300.3 431.1,300.3 431.5,300.3 431.8,300.3 432.2,300.3 432.6,300.3 433,300.3 433.4,300.3 433.7,300.3 434.1,300.3 434.5,300.3 434.9,300.3 435.3,300.3 435.7,300.3 436,300.3 436.4,300.3 436.8,300.3 437.2,300.3 437.6,300.3 437.9,300.3 438.3,300.3 438.7,300.3 439.1,300.3 439.5,300.3 439.9,300.3 440.2,300.3 440.6,300.3 441,300.3 441.4,300.3 441.8,300.3 442.1,300.3 442.5,300.3 442.9,300.3 443.3,300.3 443.7,300.3 444.1,300.3 444.4,300.3 444.8,300.3 445.2,300.3 445.6,300.3 446,300.3 446.3,300.2 446.7,300.2 447.1,300.2 447.5,300.2 447.9,300.1 448.3,300 448.6,300 449,299.8 449.4,299.7 449.8,299.5 450.2,299.3 450.5,299 450.9,298.7 451.3,298.2 451.7,297.7 452.1,297.1 452.5,296.3 452.8,295.3 453.2,294.2 453.6,292.9 454,291.4 454.4,289.7 454.7,287.7 455.1,285.4 455.5,282.8 455.9,280 456.3,276.9 456.7,273.4 457,269.7 457.4,265.7 457.8,261.5 458.2,257.1 458.6,252.5 458.9,247.8 459.3,243.1 459.7,238.4 460.1,233.8 460.5,229.3 460.9,225.1 461.2,221.3 461.6,217.8 462,214.7 462.4,212.3 462.8,210.3 463.1,209 463.5,208.4 463.9,208.4 464.3,209 464.7,210.4 465,212.3 465.4,214.8 465.8,217.8 466.2,221.3 466.6,225.2 467,229.4 467.3,233.8 467.7,238.4 468.1,243.2 468.5,247.9 468.9,252.6 469.2,257.1 469.6,261.6 470,265.8 470.4,269.7 470.8,273.5 471.2,276.9 471.5,280 471.9,282.9 472.3,285.4 472.7,287.7 473.1,289.7 473.4,291.4 473.8,293 474.2,294.2 474.6,295.4 475,296.3 475.4,297.1 475.7,297.7 476.1,298.2 476.5,298.7 476.9,299 477.3,299.3 477.6,299.5 478,299.7 478.4,299.9 478.8,300 479.2,300 479.6,300.1 479.9,300.2 480.3,300.2 480.7,300.2 481.1,300.2 481.5,300.3 481.8,300.3 482.2,300.3 482.6,300.3 483,300.3 483.4,300.3 483.8,300.3 484.1,300.3 484.5,300.3 484.9,300.3 485.3,300.3 485.7,300.3 486,300.3 486.4,300.3 486.8,300.3 487.2,300.3 487.6,300.3 488,300.3 488.3,300.3 488.7,300.3 489.1,300.3 489.5,300.3 489.9,300.3 490.2,300.3 490.6,300.3 491,300.3 491.4,300.3 491.8,300.3 492.2,300.3 492.5,300.3 492.9,300.3 493.3,300.3 493.7,300.3 494.1,300.3 494.4,300.3 494.8,300.3 495.2,300.3 495.6,300.3 496,300.3 496.3,300.3 496.7,300.3 497.1,300.3 497.5,300.3 497.9,300.3 498.3,300.3 498.6,300.3 499,300.3 499.4,300.3 499.8,300.3 500.2,300.3 500.5,300.3 500.9,300.3 501.3,300.3 501.7,300.3 502.1,300.3 502.5,300.3 502.8,300.3 503.2,300.3 503.6,300.3 504,300.3 504.4,300.3 504.7,300.3 505.1,300.3 505.5,300.3 505.9,300.3 506.3,300.3 506.7,300.3 507,300.3 507.4,300.3 507.8,300.3 508.2,300.3 508.6,300.3 508.9,300.3 509.3,300.3 509.7,300.3 510.1,300.3 510.5,300.3 510.9,300.3 511.2,300.3 511.6,300.3 512,300.3 512.4,300.3 512.8,300.3 513.1,300.3 513.5,300.3 513.9,300.3 514.3,300.3 514.7,300.3 515.1,300.3 515.4,300.3 515.8,300.3 516.2,300.3 516.6,300.3 517,300.3 517.3,300.3 517.7,300.3 518.1,300.3 518.5,300.3 518.9,300.3 519.3,300.3 519.6,300.3 520,300.3 520.4,300.3 520.8,300.3 521.2,300.3 521.5,300.3 521.9,300.3 522.3,300.3 522.7,300.3 523.1,300.3 523.5,300.3 523.8,300.3 524.2,300.3 524.6,300.3 525,300.3 525.4,300.3 525.7,300.3 526.1,300.3 526.5,300.3 526.9,300.3 527.3,300.3 527.6,300.3 528,300.3 528.4,300.3 528.8,300.3 529.2,300.3 529.6,300.3 529.9,300.3 530.3,300.3 530.7,300.3 531.1,300.3 531.5,300.3 531.8,300.3 532.2,300.3 532.6,300.3 533,300.3 533.4,300.3 533.8,300.3 534.1,300.3 534.5,300.3 534.9,300.3 535.3,300.3 535.7,300.3 536,300.3 536.4,300.3 536.8,300.3 537.2,300.3 537.6,300.3 538,300.3 538.3,300.3 538.7,300.3 539.1,300.3" fill="none" stroke="#ff1b1b" stroke-width="1.5" stroke-linejoin="round"/>
</g>
<line x1="463.7" y1="214" x2="463.7" y2="303.8" stroke="#555" stroke-width="0.6" stroke-dasharray="1.5,1.2"/>
<defs><pattern id="hexp" width="2.3" height="4.0" patternUnits="userSpaceOnUse"><rect width="2.3" height="4.0" fill="#666a52"/><circle cx="0.575" cy="1.0" r="0.9" fill="#f0e058"/><circle cx="1.725" cy="3.0" r="0.9" fill="#f0e058"/></pattern><pattern id="hexq" width="2.3" height="4.0" patternUnits="userSpaceOnUse"><rect width="2.3" height="4.0" fill="#a3acb5"/><circle cx="0.575" cy="1.0" r="0.82" fill="#eceee6"/><circle cx="1.725" cy="3.0" r="0.82" fill="#eceee6"/></pattern><linearGradient id="tg" x1="0" x2="1" y1="0" y2="0"><stop offset="0" stop-color="#223" stop-opacity="0.35"/><stop offset="0.22" stop-color="#fff" stop-opacity="0.35"/><stop offset="0.55" stop-color="#fff" stop-opacity="0.0"/><stop offset="1" stop-color="#112" stop-opacity="0.55"/></linearGradient><clipPath id="tubec"><path d="M403.6 203 Q403.6 192.4 413.8 192.4 Q424 192.4 424 203 L424 279 Q424 282 414 282 Q403.6 282 403.6 279 Z"/></clipPath></defs>
<g clip-path="url(#tubec)">
<rect x="402" y="190" width="24" height="95" fill="url(#hexp)"/>
<rect x="402" y="219" width="24" height="49" fill="url(#hexq)"/>
<rect x="402" y="190" width="24" height="95" fill="url(#tg)"/>
</g>
<polygon points="422,230.3 418,232.6 414,230.3 414,225.7 418,223.4 422,225.7" fill="none" stroke="#3a64c8" stroke-width="0.9"/>
<polygon points="421,260.3 417,262.6 413,260.3 413,255.7 417,253.4 421,255.7" fill="none" stroke="#3a64c8" stroke-width="0.9"/>
<polyline points="413.4,228 409,224 405.5,227 405.5,232" fill="none" stroke="#3a64c8" stroke-width="0.8"/>
<polyline points="412.4,258 407.5,255 405.5,251" fill="none" stroke="#3a64c8" stroke-width="0.8"/>
<line x1="417.5" y1="236" x2="417.5" y2="250" stroke="#3a64c8" stroke-width="0.7"/>
<path d="M405 250 L411.5 244.5" stroke="#f2b800" stroke-width="1.5"/>
<line x1="414.2" y1="238" x2="414.2" y2="250" stroke="#e04040" stroke-width="1.0" stroke-dasharray="1,0.6"/>
<line x1="420.2" y1="236" x2="420.2" y2="252" stroke="#e04040" stroke-width="1.0" stroke-dasharray="1,0.6"/>
<text x="431.6" y="218.5" font-size="5.8" text-anchor="middle" font-weight="bold" fill="#e02020" transform="rotate(-90 431.6 218.5)">Benzaldehyde</text>
<text x="431.6" y="265" font-size="5.8" text-anchor="middle" font-weight="bold" fill="#e02020" transform="rotate(-90 431.6 265)">Benzyl Alcohol</text>
<rect x="386.8" y="168" width="152.3" height="135.8" fill="none" stroke="#111111" stroke-width="1.4"/>
<line x1="386.8" y1="303.8" x2="386.8" y2="301.6" stroke="#111111" stroke-width="0.9"/>
<text x="386.8" y="312.5" font-size="7.8" text-anchor="middle" font-weight="bold" fill="#111111">3.00</text>
<line x1="424.9" y1="303.8" x2="424.9" y2="301.6" stroke="#111111" stroke-width="0.9"/>
<text x="424.9" y="312.5" font-size="7.8" text-anchor="middle" font-weight="bold" fill="#111111">3.25</text>
<line x1="463" y1="303.8" x2="463" y2="301.6" stroke="#111111" stroke-width="0.9"/>
<text x="463" y="312.5" font-size="7.8" text-anchor="middle" font-weight="bold" fill="#111111">3.50</text>
<line x1="501" y1="303.8" x2="501" y2="301.6" stroke="#111111" stroke-width="0.9"/>
<text x="501" y="312.5" font-size="7.8" text-anchor="middle" font-weight="bold" fill="#111111">3.75</text>
<line x1="539.1" y1="303.8" x2="539.1" y2="301.6" stroke="#111111" stroke-width="0.9"/>
<text x="539.1" y="312.5" font-size="7.8" text-anchor="middle" font-weight="bold" fill="#111111">4.00</text>
<line x1="405.8" y1="303.8" x2="405.8" y2="302.5" stroke="#111111" stroke-width="0.8"/>
<line x1="443.9" y1="303.8" x2="443.9" y2="302.5" stroke="#111111" stroke-width="0.8"/>
<line x1="482" y1="303.8" x2="482" y2="302.5" stroke="#111111" stroke-width="0.8"/>
<line x1="520.1" y1="303.8" x2="520.1" y2="302.5" stroke="#111111" stroke-width="0.8"/>
<text x="463.1" y="320" font-size="8.6" text-anchor="middle" font-weight="bold" fill="#111111">Time (min)</text>
<text x="398" y="180.3" font-size="12.1" text-anchor="middle" font-weight="bold" fill="#111111">(f)</text>
<text x="464.5" y="205" font-size="7.2" text-anchor="middle" font-weight="bold" fill="#e82020">Benzaldehyde</text>
<line x1="438" y1="174.3" x2="451.2" y2="174.3" stroke="#ff1b1b" stroke-width="1.3"/>
<text x="452.9" y="176.5" font-size="6.3" text-anchor="start" font-weight="bold" fill="#111111">Product</text>
<line x1="438" y1="182.2" x2="451.2" y2="182.2" stroke="#4a7cf0" stroke-width="1.3"/>
<text x="452.9" y="184.4" font-size="6.3" text-anchor="start" font-weight="bold" fill="#111111">Reference (Benzyl Alcohol)</text>
<clipPath id="cg"><rect x="29.5" y="324.5" width="154.3" height="137.5"/></clipPath>
<g clip-path="url(#cg)">
<line x1="84.5" y1="450.4" x2="103" y2="408.4" stroke="#f9ad0d" stroke-width="1.0"/>
<line x1="86.3" y1="462" x2="106.7" y2="411.1" stroke="#222" stroke-width="1.0"/>
<line x1="86.9" y1="462" x2="111.8" y2="406.7" stroke="#7a22c8" stroke-width="1.0"/>
<line x1="88.9" y1="462" x2="112.7" y2="417.1" stroke="#1a86d8" stroke-width="1.0"/>
<line x1="86.3" y1="461.2" x2="112.7" y2="420.8" stroke="#ff1b1b" stroke-width="1.0"/>
<circle cx="29.5" cy="461.2" r="1.7" fill="#fff" stroke="#222" stroke-width="0.5"/>
<circle cx="33.8" cy="461.2" r="1.7" fill="#fff" stroke="#222" stroke-width="0.5"/>
<circle cx="38.1" cy="461.2" r="1.7" fill="#fff" stroke="#222" stroke-width="0.5"/>
<circle cx="42.4" cy="461.2" r="1.7" fill="#fff" stroke="#222" stroke-width="0.5"/>
<circle cx="46.6" cy="461.2" r="1.7" fill="#fff" stroke="#222" stroke-width="0.5"/>
<circle cx="50.9" cy="461.2" r="1.7" fill="#fff" stroke="#222" stroke-width="0.5"/>
<circle cx="55.2" cy="461.2" r="1.7" fill="#fff" stroke="#222" stroke-width="0.5"/>
<circle cx="59.5" cy="461.1" r="1.7" fill="#fff" stroke="#222" stroke-width="0.5"/>
<circle cx="63.8" cy="461.1" r="1.7" fill="#fff" stroke="#222" stroke-width="0.5"/>
<circle cx="68.1" cy="461" r="1.7" fill="#fff" stroke="#222" stroke-width="0.5"/>
<circle cx="72.4" cy="460.8" r="1.7" fill="#fff" stroke="#222" stroke-width="0.5"/>
<circle cx="76.6" cy="460.5" r="1.7" fill="#fff" stroke="#222" stroke-width="0.5"/>
<circle cx="80.9" cy="459.2" r="1.7" fill="#fff" stroke="#222" stroke-width="0.5"/>
<circle cx="85.2" cy="454.9" r="1.7" fill="#fff" stroke="#222" stroke-width="0.5"/>
<circle cx="89.5" cy="446.9" r="1.7" fill="#fff" stroke="#222" stroke-width="0.5"/>
<circle cx="93.8" cy="438" r="1.7" fill="#fff" stroke="#222" stroke-width="0.5"/>
<circle cx="98.1" cy="428.4" r="1.7" fill="#fff" stroke="#222" stroke-width="0.5"/>
<circle cx="102.4" cy="417.6" r="1.7" fill="#fff" stroke="#222" stroke-width="0.5"/>
<circle cx="106.7" cy="412.7" r="1.7" fill="#fff" stroke="#222" stroke-width="0.5"/>
<circle cx="110.9" cy="406.7" r="1.7" fill="#fff" stroke="#222" stroke-width="0.5"/>
<circle cx="115.2" cy="403.3" r="1.7" fill="#fff" stroke="#222" stroke-width="0.5"/>
<circle cx="119.5" cy="400.1" r="1.7" fill="#fff" stroke="#222" stroke-width="0.5"/>
<circle cx="123.8" cy="395.4" r="1.7" fill="#fff" stroke="#222" stroke-width="0.5"/>
<circle cx="128.1" cy="391" r="1.7" fill="#fff" stroke="#222" stroke-width="0.5"/>
<circle cx="132.4" cy="388.2" r="1.7" fill="#fff" stroke="#222" stroke-width="0.5"/>
<circle cx="136.7" cy="385.4" r="1.7" fill="#fff" stroke="#222" stroke-width="0.5"/>
<circle cx="140.9" cy="382.6" r="1.7" fill="#fff" stroke="#222" stroke-width="0.5"/>
<circle cx="145.2" cy="379.5" r="1.7" fill="#fff" stroke="#222" stroke-width="0.5"/>
<circle cx="149.5" cy="375.6" r="1.7" fill="#fff" stroke="#222" stroke-width="0.5"/>
<circle cx="153.8" cy="371.4" r="1.7" fill="#fff" stroke="#222" stroke-width="0.5"/>
<circle cx="158.1" cy="368" r="1.7" fill="#fff" stroke="#222" stroke-width="0.5"/>
<circle cx="162.4" cy="365.5" r="1.7" fill="#fff" stroke="#222" stroke-width="0.5"/>
<circle cx="166.7" cy="363.9" r="1.7" fill="#fff" stroke="#222" stroke-width="0.5"/>
<circle cx="170.9" cy="363.5" r="1.7" fill="#fff" stroke="#222" stroke-width="0.5"/>
<circle cx="175.2" cy="364.5" r="1.7" fill="#fff" stroke="#222" stroke-width="0.5"/>
<circle cx="179.5" cy="365.1" r="1.7" fill="#fff" stroke="#222" stroke-width="0.5"/>
<circle cx="183.8" cy="365.3" r="1.7" fill="#fff" stroke="#222" stroke-width="0.5"/>
<polygon points="29.5,459.7 31.3,462.9 27.7,462.9" fill="#9b59d0" stroke="#6a2aa0" stroke-width="0.5"/>
<polygon points="33.8,459.7 35.6,462.9 32,462.9" fill="#9b59d0" stroke="#6a2aa0" stroke-width="0.5"/>
<polygon points="38.1,459.7 39.9,462.9 36.3,462.9" fill="#9b59d0" stroke="#6a2aa0" stroke-width="0.5"/>
<polygon points="42.4,459.7 44.1,462.9 40.6,462.9" fill="#9b59d0" stroke="#6a2aa0" stroke-width="0.5"/>
<polygon points="46.6,459.7 48.4,462.9 44.9,462.9" fill="#9b59d0" stroke="#6a2aa0" stroke-width="0.5"/>
<polygon points="50.9,459.7 52.7,462.8 49.1,462.8" fill="#9b59d0" stroke="#6a2aa0" stroke-width="0.5"/>
<polygon points="55.2,459.7 57,462.8 53.4,462.8" fill="#9b59d0" stroke="#6a2aa0" stroke-width="0.5"/>
<polygon points="59.5,459.6 61.3,462.8 57.7,462.8" fill="#9b59d0" stroke="#6a2aa0" stroke-width="0.5"/>
<polygon points="63.8,459.6 65.6,462.7 62,462.7" fill="#9b59d0" stroke="#6a2aa0" stroke-width="0.5"/>
<polygon points="68.1,459.6 69.9,462.7 66.3,462.7" fill="#9b59d0" stroke="#6a2aa0" stroke-width="0.5"/>
<polygon points="72.4,459.5 74.1,462.6 70.6,462.6" fill="#9b59d0" stroke="#6a2aa0" stroke-width="0.5"/>
<polygon points="76.6,459.4 78.4,462.6 74.9,462.6" fill="#9b59d0" stroke="#6a2aa0" stroke-width="0.5"/>
<polygon points="80.9,458.6 82.7,461.7 79.1,461.7" fill="#9b59d0" stroke="#6a2aa0" stroke-width="0.5"/>
<polygon points="85.2,450.9 87,454 83.4,454" fill="#9b59d0" stroke="#6a2aa0" stroke-width="0.5"/>
<polygon points="89.5,446.7 91.3,449.8 87.7,449.8" fill="#9b59d0" stroke="#6a2aa0" stroke-width="0.5"/>
<polygon points="93.8,442.7 95.6,445.8 92,445.8" fill="#9b59d0" stroke="#6a2aa0" stroke-width="0.5"/>
<polygon points="98.1,434.7 99.9,437.8 96.3,437.8" fill="#9b59d0" stroke="#6a2aa0" stroke-width="0.5"/>
<polygon points="102.4,425.3 104.1,428.4 100.6,428.4" fill="#9b59d0" stroke="#6a2aa0" stroke-width="0.5"/>
<polygon points="106.7,415.3 108.4,418.4 104.9,418.4" fill="#9b59d0" stroke="#6a2aa0" stroke-width="0.5"/>
<polygon points="110.9,406.6 112.7,409.7 109.2,409.7" fill="#9b59d0" stroke="#6a2aa0" stroke-width="0.5"/>
<polygon points="115.2,400.2 117,403.3 113.4,403.3" fill="#9b59d0" stroke="#6a2aa0" stroke-width="0.5"/>
<polygon points="119.5,394.2 121.3,397.3 117.7,397.3" fill="#9b59d0" stroke="#6a2aa0" stroke-width="0.5"/>
<polygon points="123.8,389.2 125.6,392.3 122,392.3" fill="#9b59d0" stroke="#6a2aa0" stroke-width="0.5"/>
<polygon points="128.1,384.3 129.9,387.5 126.3,387.5" fill="#9b59d0" stroke="#6a2aa0" stroke-width="0.5"/>
<polygon points="132.4,379.1 134.2,382.2 130.6,382.2" fill="#9b59d0" stroke="#6a2aa0" stroke-width="0.5"/>
<polygon points="136.7,374.2 138.4,377.3 134.9,377.3" fill="#9b59d0" stroke="#6a2aa0" stroke-width="0.5"/>
<polygon points="140.9,369.1 142.7,372.3 139.2,372.3" fill="#9b59d0" stroke="#6a2aa0" stroke-width="0.5"/>
<polygon points="145.2,363.9 147,367.1 143.4,367.1" fill="#9b59d0" stroke="#6a2aa0" stroke-width="0.5"/>
<polygon points="149.5,359.2 151.3,362.4 147.7,362.4" fill="#9b59d0" stroke="#6a2aa0" stroke-width="0.5"/>
<polygon points="153.8,354.7 155.6,357.8 152,357.8" fill="#9b59d0" stroke="#6a2aa0" stroke-width="0.5"/>
<polygon points="158.1,350.5 159.9,353.6 156.3,353.6" fill="#9b59d0" stroke="#6a2aa0" stroke-width="0.5"/>
<polygon points="162.4,346.7 164.2,349.9 160.6,349.9" fill="#9b59d0" stroke="#6a2aa0" stroke-width="0.5"/>
<polygon points="166.7,343.5 168.4,346.6 164.9,346.6" fill="#9b59d0" stroke="#6a2aa0" stroke-width="0.5"/>
<polygon points="170.9,341 172.7,344.2 169.2,344.2" fill="#9b59d0" stroke="#6a2aa0" stroke-width="0.5"/>
<polygon points="175.2,339.4 177,342.5 173.4,342.5" fill="#9b59d0" stroke="#6a2aa0" stroke-width="0.5"/>
<polygon points="179.5,339 181.3,342.2 177.7,342.2" fill="#9b59d0" stroke="#6a2aa0" stroke-width="0.5"/>
<polygon points="183.8,339.7 185.6,342.8 182,342.8" fill="#9b59d0" stroke="#6a2aa0" stroke-width="0.5"/>
<polygon points="29.5,464 31.3,460.8 27.7,460.8" fill="#2aa0d8" stroke="#1a70a0" stroke-width="0.5"/>
<polygon points="33.8,464 35.6,460.8 32,460.8" fill="#2aa0d8" stroke="#1a70a0" stroke-width="0.5"/>
<polygon points="38.1,464 39.9,460.8 36.3,460.8" fill="#2aa0d8" stroke="#1a70a0" stroke-width="0.5"/>
<polygon points="42.4,464 44.1,460.8 40.6,460.8" fill="#2aa0d8" stroke="#1a70a0" stroke-width="0.5"/>
<polygon points="46.6,464 48.4,460.8 44.9,460.8" fill="#2aa0d8" stroke="#1a70a0" stroke-width="0.5"/>
<polygon points="50.9,464 52.7,460.8 49.1,460.8" fill="#2aa0d8" stroke="#1a70a0" stroke-width="0.5"/>
<polygon points="55.2,464 57,460.8 53.4,460.8" fill="#2aa0d8" stroke="#1a70a0" stroke-width="0.5"/>
<polygon points="59.5,464 61.3,460.8 57.7,460.8" fill="#2aa0d8" stroke="#1a70a0" stroke-width="0.5"/>
<polygon points="63.8,464 65.6,460.8 62,460.8" fill="#2aa0d8" stroke="#1a70a0" stroke-width="0.5"/>
<polygon points="68.1,464 69.9,460.8 66.3,460.8" fill="#2aa0d8" stroke="#1a70a0" stroke-width="0.5"/>
<polygon points="72.4,464 74.1,460.8 70.6,460.8" fill="#2aa0d8" stroke="#1a70a0" stroke-width="0.5"/>
<polygon points="76.6,464 78.4,460.8 74.9,460.8" fill="#2aa0d8" stroke="#1a70a0" stroke-width="0.5"/>
<polygon points="80.9,464 82.7,460.8 79.1,460.8" fill="#2aa0d8" stroke="#1a70a0" stroke-width="0.5"/>
<polygon points="85.2,463.9 87,460.7 83.4,460.7" fill="#2aa0d8" stroke="#1a70a0" stroke-width="0.5"/>
<polygon points="89.5,461.7 91.3,458.5 87.7,458.5" fill="#2aa0d8" stroke="#1a70a0" stroke-width="0.5"/>
<polygon points="93.8,456.5 95.6,453.4 92,453.4" fill="#2aa0d8" stroke="#1a70a0" stroke-width="0.5"/>
<polygon points="98.1,449.4 99.9,446.3 96.3,446.3" fill="#2aa0d8" stroke="#1a70a0" stroke-width="0.5"/>
<polygon points="102.4,442 104.1,438.9 100.6,438.9" fill="#2aa0d8" stroke="#1a70a0" stroke-width="0.5"/>
<polygon points="106.7,434.9 108.4,431.8 104.9,431.8" fill="#2aa0d8" stroke="#1a70a0" stroke-width="0.5"/>
<polygon points="110.9,429.6 112.7,426.4 109.2,426.4" fill="#2aa0d8" stroke="#1a70a0" stroke-width="0.5"/>
<polygon points="115.2,424.2 117,421.1 113.4,421.1" fill="#2aa0d8" stroke="#1a70a0" stroke-width="0.5"/>
<polygon points="119.5,418.1 121.3,415 117.7,415" fill="#2aa0d8" stroke="#1a70a0" stroke-width="0.5"/>
<polygon points="123.8,412.5 125.6,409.3 122,409.3" fill="#2aa0d8" stroke="#1a70a0" stroke-width="0.5"/>
<polygon points="128.1,409.5 129.9,406.4 126.3,406.4" fill="#2aa0d8" stroke="#1a70a0" stroke-width="0.5"/>
<polygon points="132.4,407.1 134.2,404 130.6,404" fill="#2aa0d8" stroke="#1a70a0" stroke-width="0.5"/>
<polygon points="136.7,404.6 138.4,401.5 134.9,401.5" fill="#2aa0d8" stroke="#1a70a0" stroke-width="0.5"/>
<polygon points="140.9,401.9 142.7,398.8 139.2,398.8" fill="#2aa0d8" stroke="#1a70a0" stroke-width="0.5"/>
<polygon points="145.2,398.4 147,395.3 143.4,395.3" fill="#2aa0d8" stroke="#1a70a0" stroke-width="0.5"/>
<polygon points="149.5,394.5 151.3,391.4 147.7,391.4" fill="#2aa0d8" stroke="#1a70a0" stroke-width="0.5"/>
<polygon points="153.8,390.5 155.6,387.3 152,387.3" fill="#2aa0d8" stroke="#1a70a0" stroke-width="0.5"/>
<polygon points="158.1,386.5 159.9,383.4 156.3,383.4" fill="#2aa0d8" stroke="#1a70a0" stroke-width="0.5"/>
<polygon points="162.4,382.9 164.2,379.8 160.6,379.8" fill="#2aa0d8" stroke="#1a70a0" stroke-width="0.5"/>
<polygon points="166.7,379.9 168.4,376.8 164.9,376.8" fill="#2aa0d8" stroke="#1a70a0" stroke-width="0.5"/>
<polygon points="170.9,377.9 172.7,374.8 169.2,374.8" fill="#2aa0d8" stroke="#1a70a0" stroke-width="0.5"/>
<polygon points="175.2,377.9 177,374.8 173.4,374.8" fill="#2aa0d8" stroke="#1a70a0" stroke-width="0.5"/>
<polygon points="179.5,379.9 181.3,376.8 177.7,376.8" fill="#2aa0d8" stroke="#1a70a0" stroke-width="0.5"/>
<polygon points="183.8,381.5 185.6,378.3 182,378.3" fill="#2aa0d8" stroke="#1a70a0" stroke-width="0.5"/>
<polygon points="29.5,459.7 31.5,461.7 29.5,463.7 27.5,461.7" fill="#f0c050" stroke="#c08020" stroke-width="0.5"/>
<polygon points="33.8,459.6 35.8,461.7 33.8,463.7 31.7,461.7" fill="#f0c050" stroke="#c08020" stroke-width="0.5"/>
<polygon points="38.1,459.6 40.1,461.7 38.1,463.7 36,461.7" fill="#f0c050" stroke="#c08020" stroke-width="0.5"/>
<polygon points="42.4,459.6 44.4,461.6 42.4,463.7 40.3,461.6" fill="#f0c050" stroke="#c08020" stroke-width="0.5"/>
<polygon points="46.6,459.5 48.7,461.6 46.6,463.6 44.6,461.6" fill="#f0c050" stroke="#c08020" stroke-width="0.5"/>
<polygon points="50.9,459.4 53,461.5 50.9,463.5 48.9,461.5" fill="#f0c050" stroke="#c08020" stroke-width="0.5"/>
<polygon points="55.2,459.3 57.3,461.4 55.2,463.4 53.2,461.4" fill="#f0c050" stroke="#c08020" stroke-width="0.5"/>
<polygon points="59.5,458.9 61.5,460.9 59.5,462.9 57.5,460.9" fill="#f0c050" stroke="#c08020" stroke-width="0.5"/>
<polygon points="63.8,457.8 65.8,459.9 63.8,461.9 61.7,459.9" fill="#f0c050" stroke="#c08020" stroke-width="0.5"/>
<polygon points="68.1,455.4 70.1,457.4 68.1,459.5 66,457.4" fill="#f0c050" stroke="#c08020" stroke-width="0.5"/>
<polygon points="72.4,453.8 74.4,455.9 72.4,457.9 70.3,455.9" fill="#f0c050" stroke="#c08020" stroke-width="0.5"/>
<polygon points="76.6,453.1 78.7,455.1 76.6,457.2 74.6,455.1" fill="#f0c050" stroke="#c08020" stroke-width="0.5"/>
<polygon points="80.9,448.5 83,450.5 80.9,452.6 78.9,450.5" fill="#f0c050" stroke="#c08020" stroke-width="0.5"/>
<polygon points="85.2,442.4 87.3,444.4 85.2,446.5 83.2,444.4" fill="#f0c050" stroke="#c08020" stroke-width="0.5"/>
<polygon points="89.5,434.8 91.5,436.8 89.5,438.8 87.5,436.8" fill="#f0c050" stroke="#c08020" stroke-width="0.5"/>
<polygon points="93.8,426.3 95.8,428.4 93.8,430.4 91.8,428.4" fill="#f0c050" stroke="#c08020" stroke-width="0.5"/>
<polygon points="98.1,417.8 100.1,419.8 98.1,421.9 96,419.8" fill="#f0c050" stroke="#c08020" stroke-width="0.5"/>
<polygon points="102.4,409.8 104.4,411.9 102.4,413.9 100.3,411.9" fill="#f0c050" stroke="#c08020" stroke-width="0.5"/>
<polygon points="106.7,403.7 108.7,405.8 106.7,407.8 104.6,405.8" fill="#f0c050" stroke="#c08020" stroke-width="0.5"/>
<polygon points="110.9,399.2 113,401.2 110.9,403.2 108.9,401.2" fill="#f0c050" stroke="#c08020" stroke-width="0.5"/>
<polygon points="115.2,396.4 117.3,398.4 115.2,400.5 113.2,398.4" fill="#f0c050" stroke="#c08020" stroke-width="0.5"/>
<polygon points="119.5,393.2 121.5,395.2 119.5,397.3 117.5,395.2" fill="#f0c050" stroke="#c08020" stroke-width="0.5"/>
<polygon points="123.8,388.9 125.8,391 123.8,393 121.8,391" fill="#f0c050" stroke="#c08020" stroke-width="0.5"/>
<polygon points="128.1,386.2 130.1,388.2 128.1,390.2 126,388.2" fill="#f0c050" stroke="#c08020" stroke-width="0.5"/>
<polygon points="132.4,383.6 134.4,385.6 132.4,387.7 130.3,385.6" fill="#f0c050" stroke="#c08020" stroke-width="0.5"/>
<polygon points="136.7,380.2 138.7,382.2 136.7,384.2 134.6,382.2" fill="#f0c050" stroke="#c08020" stroke-width="0.5"/>
<polygon points="140.9,376.7 143,378.7 140.9,380.8 138.9,378.7" fill="#f0c050" stroke="#c08020" stroke-width="0.5"/>
<polygon points="145.2,374 147.3,376 145.2,378 143.2,376" fill="#f0c050" stroke="#c08020" stroke-width="0.5"/>
<polygon points="149.5,371.3 151.6,373.4 149.5,375.4 147.5,373.4" fill="#f0c050" stroke="#c08020" stroke-width="0.5"/>
<polygon points="153.8,368.3 155.8,370.4 153.8,372.4 151.8,370.4" fill="#f0c050" stroke="#c08020" stroke-width="0.5"/>
<polygon points="158.1,365.5 160.1,367.6 158.1,369.6 156,367.6" fill="#f0c050" stroke="#c08020" stroke-width="0.5"/>
<polygon points="162.4,363.7 164.4,365.7 162.4,367.7 160.3,365.7" fill="#f0c050" stroke="#c08020" stroke-width="0.5"/>
<polygon points="166.7,361.9 168.7,363.9 166.7,366 164.6,363.9" fill="#f0c050" stroke="#c08020" stroke-width="0.5"/>
<polygon points="170.9,359.5 173,361.6 170.9,363.6 168.9,361.6" fill="#f0c050" stroke="#c08020" stroke-width="0.5"/>
<polygon points="175.2,357.1 177.3,359.2 175.2,361.2 173.2,359.2" fill="#f0c050" stroke="#c08020" stroke-width="0.5"/>
<polygon points="179.5,355 181.6,357 179.5,359.1 177.5,357" fill="#f0c050" stroke="#c08020" stroke-width="0.5"/>
<polygon points="183.8,353 185.8,355.1 183.8,357.1 181.8,355.1" fill="#f0c050" stroke="#c08020" stroke-width="0.5"/>
<polygon points="27.5,462 30.7,460.2 30.7,463.8" fill="#e83040" stroke="#b01020" stroke-width="0.5"/>
<polygon points="31.8,462 35,460.2 35,463.8" fill="#e83040" stroke="#b01020" stroke-width="0.5"/>
<polygon points="36.1,462 39.3,460.2 39.3,463.8" fill="#e83040" stroke="#b01020" stroke-width="0.5"/>
<polygon points="40.4,462 43.5,460.2 43.5,463.8" fill="#e83040" stroke="#b01020" stroke-width="0.5"/>
<polygon points="44.7,462 47.8,460.2 47.8,463.8" fill="#e83040" stroke="#b01020" stroke-width="0.5"/>
<polygon points="49,462 52.1,460.2 52.1,463.8" fill="#e83040" stroke="#b01020" stroke-width="0.5"/>
<polygon points="53.3,462 56.4,460.2 56.4,463.8" fill="#e83040" stroke="#b01020" stroke-width="0.5"/>
<polygon points="57.5,462 60.7,460.2 60.7,463.8" fill="#e83040" stroke="#b01020" stroke-width="0.5"/>
<polygon points="61.8,462 65,460.2 65,463.8" fill="#e83040" stroke="#b01020" stroke-width="0.5"/>
<polygon points="66.1,462 69.3,460.2 69.3,463.8" fill="#e83040" stroke="#b01020" stroke-width="0.5"/>
<polygon points="70.4,462 73.6,460.2 73.6,463.8" fill="#e83040" stroke="#b01020" stroke-width="0.5"/>
<polygon points="74.7,462 77.8,460.2 77.8,463.8" fill="#e83040" stroke="#b01020" stroke-width="0.5"/>
<polygon points="79,462 82.1,460.2 82.1,463.8" fill="#e83040" stroke="#b01020" stroke-width="0.5"/>
<polygon points="83.3,461.7 86.4,459.9 86.4,463.5" fill="#e83040" stroke="#b01020" stroke-width="0.5"/>
<polygon points="87.6,456.4 90.7,454.6 90.7,458.2" fill="#e83040" stroke="#b01020" stroke-width="0.5"/>
<polygon points="91.8,450.8 95,449 95,452.6" fill="#e83040" stroke="#b01020" stroke-width="0.5"/>
<polygon points="96.1,446.1 99.3,444.4 99.3,447.9" fill="#e83040" stroke="#b01020" stroke-width="0.5"/>
<polygon points="100.4,441.2 103.6,439.4 103.6,443" fill="#e83040" stroke="#b01020" stroke-width="0.5"/>
<polygon points="104.7,434.4 107.8,432.6 107.8,436.2" fill="#e83040" stroke="#b01020" stroke-width="0.5"/>
<polygon points="109,427.9 112.1,426.1 112.1,429.7" fill="#e83040" stroke="#b01020" stroke-width="0.5"/>
<polygon points="113.3,423.4 116.4,421.7 116.4,425.2" fill="#e83040" stroke="#b01020" stroke-width="0.5"/>
<polygon points="117.6,419.8 120.7,418 120.7,421.6" fill="#e83040" stroke="#b01020" stroke-width="0.5"/>
<polygon points="121.8,416.8 125,415 125,418.6" fill="#e83040" stroke="#b01020" stroke-width="0.5"/>
<polygon points="126.1,414 129.3,412.2 129.3,415.8" fill="#e83040" stroke="#b01020" stroke-width="0.5"/>
<polygon points="130.4,410.5 133.6,408.7 133.6,412.3" fill="#e83040" stroke="#b01020" stroke-width="0.5"/>
<polygon points="134.7,406.8 137.8,405.1 137.8,408.6" fill="#e83040" stroke="#b01020" stroke-width="0.5"/>
<polygon points="139,403.2 142.1,401.4 142.1,405" fill="#e83040" stroke="#b01020" stroke-width="0.5"/>
<polygon points="143.3,399.6 146.4,397.9 146.4,401.4" fill="#e83040" stroke="#b01020" stroke-width="0.5"/>
<polygon points="147.6,396.5 150.7,394.7 150.7,398.2" fill="#e83040" stroke="#b01020" stroke-width="0.5"/>
<polygon points="151.8,393.9 155,392.1 155,395.7" fill="#e83040" stroke="#b01020" stroke-width="0.5"/>
<polygon points="156.1,391.7 159.3,389.9 159.3,393.5" fill="#e83040" stroke="#b01020" stroke-width="0.5"/>
<polygon points="160.4,389.8 163.6,388 163.6,391.6" fill="#e83040" stroke="#b01020" stroke-width="0.5"/>
<polygon points="164.7,388.2 167.8,386.4 167.8,390" fill="#e83040" stroke="#b01020" stroke-width="0.5"/>
<polygon points="169,386.8 172.1,385 172.1,388.6" fill="#e83040" stroke="#b01020" stroke-width="0.5"/>
<polygon points="173.3,385.6 176.4,383.8 176.4,387.4" fill="#e83040" stroke="#b01020" stroke-width="0.5"/>
<polygon points="177.6,384.6 180.7,382.8 180.7,386.4" fill="#e83040" stroke="#b01020" stroke-width="0.5"/>
<polygon points="181.8,383.8 185,382 185,385.6" fill="#e83040" stroke="#b01020" stroke-width="0.5"/>
</g>
<rect x="29.5" y="324.5" width="154.3" height="137.5" fill="none" stroke="#111111" stroke-width="1.4"/>
<line x1="29.5" y1="462" x2="29.5" y2="459.8" stroke="#111111" stroke-width="0.9"/>
<text x="29.5" y="470.8" font-size="7.3" text-anchor="middle" font-weight="bold" fill="#111111">−1.0</text>
<line x1="72.4" y1="462" x2="72.4" y2="459.8" stroke="#111111" stroke-width="0.9"/>
<text x="72.4" y="470.8" font-size="7.3" text-anchor="middle" font-weight="bold" fill="#111111">−0.5</text>
<line x1="115.2" y1="462" x2="115.2" y2="459.8" stroke="#111111" stroke-width="0.9"/>
<text x="115.2" y="470.8" font-size="7.3" text-anchor="middle" font-weight="bold" fill="#111111">0.0</text>
<line x1="158.1" y1="462" x2="158.1" y2="459.8" stroke="#111111" stroke-width="0.9"/>
<text x="158.1" y="470.8" font-size="7.3" text-anchor="middle" font-weight="bold" fill="#111111">0.5</text>
<line x1="50.9" y1="462" x2="50.9" y2="460.7" stroke="#111111" stroke-width="0.8"/>
<line x1="93.8" y1="462" x2="93.8" y2="460.7" stroke="#111111" stroke-width="0.8"/>
<line x1="136.7" y1="462" x2="136.7" y2="460.7" stroke="#111111" stroke-width="0.8"/>
<line x1="179.5" y1="462" x2="179.5" y2="460.7" stroke="#111111" stroke-width="0.8"/>
<line x1="29.5" y1="462" x2="31.7" y2="462" stroke="#111111" stroke-width="0.9"/>
<text x="27" y="464.5" font-size="7.3" text-anchor="end" font-weight="bold" fill="#111111">0</text>
<line x1="29.5" y1="431.4" x2="31.7" y2="431.4" stroke="#111111" stroke-width="0.9"/>
<text x="27" y="433.9" font-size="7.3" text-anchor="end" font-weight="bold" fill="#111111">2</text>
<line x1="29.5" y1="400.9" x2="31.7" y2="400.9" stroke="#111111" stroke-width="0.9"/>
<text x="27" y="403.4" font-size="7.3" text-anchor="end" font-weight="bold" fill="#111111">4</text>
<line x1="29.5" y1="370.3" x2="31.7" y2="370.3" stroke="#111111" stroke-width="0.9"/>
<text x="27" y="372.8" font-size="7.3" text-anchor="end" font-weight="bold" fill="#111111">6</text>
<line x1="29.5" y1="339.8" x2="31.7" y2="339.8" stroke="#111111" stroke-width="0.9"/>
<text x="27" y="342.3" font-size="7.3" text-anchor="end" font-weight="bold" fill="#111111">8</text>
<line x1="29.5" y1="446.7" x2="30.8" y2="446.7" stroke="#111111" stroke-width="0.8"/>
<line x1="29.5" y1="416.2" x2="30.8" y2="416.2" stroke="#111111" stroke-width="0.8"/>
<line x1="29.5" y1="385.6" x2="30.8" y2="385.6" stroke="#111111" stroke-width="0.8"/>
<line x1="29.5" y1="355.1" x2="30.8" y2="355.1" stroke="#111111" stroke-width="0.8"/>
<text x="106.5" y="478" font-size="8" text-anchor="middle" font-weight="bold" fill="#111111">Potential V <tspan font-style="italic">vs</tspan> Ag/AgCl</text>
<text x="21" y="390.9" font-size="8.3" text-anchor="middle" font-weight="bold" fill="#111111" transform="rotate(-90 21 390.9)">(C<tspan font-size="6" dy="1.6">SC</tspan><tspan dy="-1.6">)</tspan><tspan font-size="6" dy="-2.8">-2</tspan><tspan dy="2.8">/10</tspan><tspan font-size="6" dy="-2.8">10</tspan><tspan dy="2.8"> (F</tspan><tspan font-size="6" dy="-2.8">-2</tspan><tspan dy="2.8"> cm</tspan><tspan font-size="6" dy="-2.8">4</tspan><tspan dy="2.8">)</tspan></text>
<text x="42.3" y="336.8" font-size="12.1" text-anchor="middle" font-weight="bold" fill="#111111">(g)</text>
<circle cx="64.5" cy="333.7" r="1.6" fill="#fff" stroke="#222" stroke-width="0.5"/>
<text x="72.8" y="335.9" font-size="6.3" text-anchor="start" font-weight="bold" fill="#111111">CN</text>
<polygon points="64.5,339.6 66.2,342.5 62.8,342.5" fill="#9b59d0" stroke="#6a2aa0" stroke-width="0.5"/>
<text x="72.8" y="343.6" font-size="6.3" text-anchor="start" font-weight="bold" fill="#111111">CN:PDI</text>
<polygon points="64.5,351 66.2,348.1 62.8,348.1" fill="#2aa0d8" stroke="#1a70a0" stroke-width="0.5"/>
<text x="72.8" y="351.4" font-size="6.3" text-anchor="start" font-weight="bold" fill="#111111">Exf. CN:PDI</text>
<polygon points="64.5,355.2 66.4,357.1 64.5,359 62.6,357.1" fill="#f0c050" stroke="#c08020" stroke-width="0.5"/>
<text x="72.8" y="359.3" font-size="6.3" text-anchor="start" font-weight="bold" fill="#111111">CdS</text>
<polygon points="62.7,365.1 65.6,363.4 65.6,366.8" fill="#e83040" stroke="#b01020" stroke-width="0.5"/>
<text x="72.8" y="367.3" font-size="6.3" text-anchor="start" font-weight="bold" fill="#111111">CdS/CN:PDI</text>
<clipPath id="ch"><rect x="208.6" y="325.3" width="154.2" height="137.3"/></clipPath>
<g clip-path="url(#ch)">
<polyline points="229.7,437.5 230,437.1 230.2,436.8 230.5,436.4 230.8,436.1 231,435.7 231.3,435.4 231.6,435.1 231.9,434.8 232.2,434.5 232.4,434.2 232.7,433.9 233,433.6 233.3,433.3 233.6,433 233.9,432.7 234.2,432.5 234.5,432.2 234.8,432 235.1,431.7 235.4,431.5 235.8,431.3 236.1,431 236.4,430.8 236.7,430.6 237,430.4 237.4,430.2 237.7,430 238,429.9 238.3,429.7 238.7,429.5 239,429.4 239.3,429.2 239.7,429.1 240,429 240.4,428.8 240.7,428.7 241,428.6 241.4,428.5 241.7,428.4 242.1,428.3 242.4,428.2 242.8,428.2 243.1,428.1 243.4,428 243.8,428 244.1,428 244.5,427.9 244.8,427.9 245.2,427.9 245.5,427.9 245.9,427.9 246.2,427.9 246.6,427.9 246.9,427.9 247.3,428 247.6,428 248,428 248.3,428.1 248.7,428.2 249,428.2 249.4,428.3 249.7,428.4 250,428.5 250.4,428.6 250.7,428.7 251.1,428.8 251.4,428.9 251.7,429.1 252.1,429.2 252.4,429.3 252.7,429.5 253.1,429.7 253.4,429.8 253.7,430 254.1,430.2 254.4,430.4 254.7,430.6 255,430.8 255.3,431 255.7,431.2 256,431.4 256.3,431.7 256.6,431.9 256.9,432.2 257.2,432.4 257.5,432.7 257.8,433 258.1,433.2 258.4,433.5 258.7,433.8 259,434.1 259.3,434.4 259.6,434.7 259.8,435 260.1,435.3 260.4,435.7 260.7,436 260.9,436.3 261.2,436.7 261.4,437 261.7,437.4 262,437.8 262.2,438.1 262.5,438.5 262.7,438.9 262.9,439.3 263.2,439.7 263.4,440.1 263.6,440.5 263.8,440.9 264.1,441.3 264.3,441.7 264.5,442.1 264.7,442.5 264.9,443 265.1,443.4 265.3,443.8 265.5,444.3 265.7,444.7 265.8,445.2 266,445.6 266.2,446.1 266.4,446.6 266.5,447 266.7,447.5 266.8,448 267,448.4 267.1,448.9 267.3,449.4 267.4,449.9 267.5,450.4 267.7,450.9 267.8,451.4 267.9,451.9 268,452.4 268.1,452.9 268.2,453.4 268.3,453.9 268.4,454.4 268.5,454.9 268.6,455.4 268.6,455.9 268.7,456.5 268.8,457 268.8,457.5 268.9,458 268.9,458.5 269,459.1 269,459.6" fill="none" stroke="#33dd33" stroke-width="0.8" stroke-linejoin="round"/>
<rect x="228.4" y="436.2" width="2.6" height="2.6" fill="#2ec02e" stroke="#0a600a" stroke-width="0.5"/>
<rect x="232.8" y="431.2" width="2.6" height="2.6" fill="#2ec02e" stroke="#0a600a" stroke-width="0.5"/>
<rect x="237.6" y="428.1" width="2.6" height="2.6" fill="#2ec02e" stroke="#0a600a" stroke-width="0.5"/>
<rect x="242.6" y="426.7" width="2.6" height="2.6" fill="#2ec02e" stroke="#0a600a" stroke-width="0.5"/>
<rect x="247.4" y="426.8" width="2.6" height="2.6" fill="#2ec02e" stroke="#0a600a" stroke-width="0.5"/>
<rect x="251.8" y="428.4" width="2.6" height="2.6" fill="#2ec02e" stroke="#0a600a" stroke-width="0.5"/>
<rect x="255.8" y="431" width="2.6" height="2.6" fill="#2ec02e" stroke="#0a600a" stroke-width="0.5"/>
<rect x="259.2" y="434.5" width="2.6" height="2.6" fill="#2ec02e" stroke="#0a600a" stroke-width="0.5"/>
<rect x="261.9" y="438.4" width="2.6" height="2.6" fill="#2ec02e" stroke="#0a600a" stroke-width="0.5"/>
<rect x="264" y="442.6" width="2.6" height="2.6" fill="#2ec02e" stroke="#0a600a" stroke-width="0.5"/>
<rect x="265.6" y="446.8" width="2.6" height="2.6" fill="#2ec02e" stroke="#0a600a" stroke-width="0.5"/>
<rect x="266.6" y="450.7" width="2.6" height="2.6" fill="#2ec02e" stroke="#0a600a" stroke-width="0.5"/>
<rect x="267.2" y="454.1" width="2.6" height="2.6" fill="#2ec02e" stroke="#0a600a" stroke-width="0.5"/>
<rect x="267.6" y="456.8" width="2.6" height="2.6" fill="#2ec02e" stroke="#0a600a" stroke-width="0.5"/>
<rect x="267.7" y="458.3" width="2.6" height="2.6" fill="#2ec02e" stroke="#0a600a" stroke-width="0.5"/>
<polyline points="227.3,440.8 227.7,439.1 228.2,437.5 228.6,435.9 229.1,434.3 229.6,432.7 230.1,431.2 230.7,429.6 231.2,428.1 231.8,426.6 232.4,425 233,423.5 233.6,422.1 234.3,420.6 234.9,419.2 235.6,417.7 236.3,416.3 237,414.9 237.7,413.6 238.4,412.2 239.2,410.9 240,409.6 240.7,408.3 241.5,407 242.4,405.7 243.2,404.5 244,403.3 244.9,402.1 245.7,401 246.6,399.8 247.5,398.7 248.4,397.6 249.3,396.5 250.3,395.5 251.2,394.5 252.2,393.5 253.1,392.5 254.1,391.5 255.1,390.6 256.1,389.7 257.1,388.9 258.1,388 259.1,387.2 260.2,386.4 261.2,385.6 262.3,384.9 263.3,384.2 264.4,383.5 265.5,382.9 266.6,382.3 267.6,381.7 268.7,381.1 269.8,380.6 271,380.1 272.1,379.6 273.2,379.1 274.3,378.7 275.4,378.3 276.6,378 277.7,377.6 278.9,377.3 280,377 281.1,376.8 282.3,376.6 283.5,376.4 284.6,376.3 285.8,376.1 286.9,376.1 288.1,376 289.2,376 290.4,376 291.6,376 292.7,376.1 293.9,376.1 295,376.3 296.2,376.4 297.3,376.6 298.5,376.8 299.6,377.1 300.8,377.3 301.9,377.6 303.1,378 304.2,378.3 305.3,378.7 306.4,379.1 307.6,379.6 308.7,380.1 309.8,380.6 310.9,381.1 312,381.7 313.1,382.3 314.2,382.9 315.2,383.6 316.3,384.2 317.4,384.9 318.4,385.7 319.5,386.4 320.5,387.2 321.5,388 322.5,388.9 323.5,389.8 324.5,390.7 325.5,391.6 326.5,392.5 327.5,393.5 328.4,394.5 329.4,395.5 330.3,396.6 331.2,397.6 332.1,398.7 333,399.9 333.9,401 334.7,402.2 335.6,403.3 336.4,404.6 337.3,405.8 338.1,407 338.9,408.3 339.7,409.6 340.4,410.9 341.2,412.3 341.9,413.6 342.6,415 343.3,416.4 344,417.8 344.7,419.2 345.4,420.7 346,422.1 346.6,423.6 347.2,425.1 347.8,426.6 348.4,428.1 348.9,429.7 349.5,431.2 350,432.8 350.5,434.4 351,436 351.4,437.6 351.9,439.2 352.3,440.8 352.7,442.5 353.1,444.1 353.5,445.8 353.8,447.5 354.2,449.1 354.5,450.8 354.8,452.5 355.1,454.2 355.3,455.9 355.5,457.7" fill="none" stroke="#555555" stroke-width="0.8" stroke-linejoin="round"/>
<circle cx="227.3" cy="440.8" r="1.6" fill="#ffffff" stroke="#333333" stroke-width="0.5"/>
<circle cx="232.7" cy="424.3" r="1.6" fill="#ffffff" stroke="#333333" stroke-width="0.5"/>
<circle cx="239.8" cy="409.9" r="1.6" fill="#ffffff" stroke="#333333" stroke-width="0.5"/>
<circle cx="248.2" cy="397.9" r="1.6" fill="#ffffff" stroke="#333333" stroke-width="0.5"/>
<circle cx="257.6" cy="388.5" r="1.6" fill="#ffffff" stroke="#333333" stroke-width="0.5"/>
<circle cx="267.5" cy="381.7" r="1.6" fill="#ffffff" stroke="#333333" stroke-width="0.5"/>
<circle cx="277.8" cy="377.6" r="1.6" fill="#ffffff" stroke="#333333" stroke-width="0.5"/>
<circle cx="288" cy="376" r="1.6" fill="#ffffff" stroke="#333333" stroke-width="0.5"/>
<circle cx="297.8" cy="376.7" r="1.6" fill="#ffffff" stroke="#333333" stroke-width="0.5"/>
<circle cx="307.2" cy="379.4" r="1.6" fill="#ffffff" stroke="#333333" stroke-width="0.5"/>
<circle cx="315.8" cy="383.9" r="1.6" fill="#ffffff" stroke="#333333" stroke-width="0.5"/>
<circle cx="323.6" cy="389.8" r="1.6" fill="#ffffff" stroke="#333333" stroke-width="0.5"/>
<circle cx="330.5" cy="396.8" r="1.6" fill="#ffffff" stroke="#333333" stroke-width="0.5"/>
<circle cx="336.4" cy="404.5" r="1.6" fill="#ffffff" stroke="#333333" stroke-width="0.5"/>
<circle cx="341.4" cy="412.7" r="1.6" fill="#ffffff" stroke="#333333" stroke-width="0.5"/>
<circle cx="345.5" cy="421" r="1.6" fill="#ffffff" stroke="#333333" stroke-width="0.5"/>
<circle cx="348.8" cy="429.2" r="1.6" fill="#ffffff" stroke="#333333" stroke-width="0.5"/>
<circle cx="351.3" cy="437" r="1.6" fill="#ffffff" stroke="#333333" stroke-width="0.5"/>
<circle cx="353.1" cy="444.1" r="1.6" fill="#ffffff" stroke="#333333" stroke-width="0.5"/>
<circle cx="354.4" cy="450.2" r="1.6" fill="#ffffff" stroke="#333333" stroke-width="0.5"/>
<circle cx="355.2" cy="455" r="1.6" fill="#ffffff" stroke="#333333" stroke-width="0.5"/>
<circle cx="355.5" cy="457.7" r="1.6" fill="#ffffff" stroke="#333333" stroke-width="0.5"/>
<polyline points="231.3,433.8 231.6,433.3 231.9,432.9 232.2,432.4 232.5,432 232.9,431.5 233.2,431.1 233.5,430.7 233.9,430.3 234.2,429.9 234.6,429.5 234.9,429.1 235.3,428.8 235.6,428.4 236,428 236.4,427.7 236.7,427.3 237.1,427 237.5,426.7 237.9,426.4 238.3,426 238.6,425.7 239,425.5 239.4,425.2 239.8,424.9 240.2,424.6 240.6,424.4 241,424.1 241.4,423.9 241.8,423.7 242.2,423.4 242.7,423.2 243.1,423 243.5,422.8 243.9,422.7 244.3,422.5 244.7,422.3 245.2,422.2 245.6,422 246,421.9 246.4,421.8 246.9,421.7 247.3,421.6 247.7,421.5 248.2,421.4 248.6,421.3 249,421.2 249.5,421.2 249.9,421.1 250.3,421.1 250.8,421.1 251.2,421.1 251.6,421.1 252.1,421.1 252.5,421.1 252.9,421.1 253.4,421.1 253.8,421.2 254.2,421.2 254.7,421.3 255.1,421.4 255.5,421.4 255.9,421.5 256.4,421.6 256.8,421.7 257.2,421.9 257.7,422 258.1,422.1 258.5,422.3 258.9,422.4 259.3,422.6 259.8,422.8 260.2,423 260.6,423.2 261,423.4 261.4,423.6 261.8,423.8 262.2,424 262.6,424.3 263,424.5 263.4,424.8 263.8,425.1 264.2,425.3 264.6,425.6 265,425.9 265.4,426.2 265.8,426.5 266.1,426.9 266.5,427.2 266.9,427.5 267.3,427.9 267.6,428.2 268,428.6 268.3,429 268.7,429.4 269,429.7 269.4,430.1 269.7,430.5 270.1,431 270.4,431.4 270.7,431.8 271.1,432.2 271.4,432.7 271.7,433.1 272,433.6 272.3,434 272.6,434.5 272.9,435 273.2,435.5 273.5,436 273.8,436.5 274.1,437 274.3,437.5 274.6,438 274.9,438.5 275.1,439 275.4,439.6 275.6,440.1 275.9,440.7 276.1,441.2 276.4,441.8 276.6,442.3 276.8,442.9 277,443.5 277.2,444 277.4,444.6 277.6,445.2 277.8,445.8 278,446.4 278.2,447 278.4,447.6 278.5,448.2 278.7,448.8 278.9,449.4 279,450 279.2,450.6 279.3,451.3 279.4,451.9 279.6,452.5 279.7,453.1 279.8,453.8 279.9,454.4 280,455.1 280.1,455.7 280.2,456.3 280.3,457 280.3,457.6 280.4,458.3 280.5,458.9 280.5,459.6" fill="none" stroke="#7a22c8" stroke-width="0.8" stroke-linejoin="round"/>
<polygon points="231.3,432 232.9,434.9 229.6,434.9" fill="#5a1a9a" stroke="#2a0a5a" stroke-width="0.5"/>
<polygon points="235.9,426.3 237.5,429.2 234.3,429.2" fill="#5a1a9a" stroke="#2a0a5a" stroke-width="0.5"/>
<polygon points="241,422.3 242.7,425.2 239.4,425.2" fill="#5a1a9a" stroke="#2a0a5a" stroke-width="0.5"/>
<polygon points="246.4,420 248,422.9 244.8,422.9" fill="#5a1a9a" stroke="#2a0a5a" stroke-width="0.5"/>
<polygon points="251.7,419.3 253.3,422.1 250.1,422.1" fill="#5a1a9a" stroke="#2a0a5a" stroke-width="0.5"/>
<polygon points="256.8,420 258.5,422.8 255.2,422.8" fill="#5a1a9a" stroke="#2a0a5a" stroke-width="0.5"/>
<polygon points="261.6,421.9 263.2,424.7 259.9,424.7" fill="#5a1a9a" stroke="#2a0a5a" stroke-width="0.5"/>
<polygon points="265.8,424.8 267.4,427.7 264.2,427.7" fill="#5a1a9a" stroke="#2a0a5a" stroke-width="0.5"/>
<polygon points="269.5,428.5 271.1,431.4 267.9,431.4" fill="#5a1a9a" stroke="#2a0a5a" stroke-width="0.5"/>
<polygon points="272.6,432.7 274.2,435.5 271,435.5" fill="#5a1a9a" stroke="#2a0a5a" stroke-width="0.5"/>
<polygon points="275.1,437.1 276.7,440 273.5,440" fill="#5a1a9a" stroke="#2a0a5a" stroke-width="0.5"/>
<polygon points="277,441.7 278.6,444.5 275.4,444.5" fill="#5a1a9a" stroke="#2a0a5a" stroke-width="0.5"/>
<polygon points="278.4,446 280.1,448.9 276.8,448.9" fill="#5a1a9a" stroke="#2a0a5a" stroke-width="0.5"/>
<polygon points="279.4,450 281,452.9 277.8,452.9" fill="#5a1a9a" stroke="#2a0a5a" stroke-width="0.5"/>
<polygon points="280,453.5 281.7,456.4 278.4,456.4" fill="#5a1a9a" stroke="#2a0a5a" stroke-width="0.5"/>
<polygon points="280.4,456.3 282,459.1 278.8,459.1" fill="#5a1a9a" stroke="#2a0a5a" stroke-width="0.5"/>
<polygon points="280.5,457.8 282.2,460.7 278.9,460.7" fill="#5a1a9a" stroke="#2a0a5a" stroke-width="0.5"/>
<polyline points="232.2,432.4 232.5,431.9 232.9,431.4 233.2,431 233.5,430.5 233.9,430 234.3,429.6 234.6,429.1 235,428.7 235.3,428.3 235.7,427.9 236.1,427.5 236.5,427.1 236.9,426.7 237.3,426.3 237.6,425.9 238,425.6 238.4,425.2 238.8,424.9 239.3,424.5 239.7,424.2 240.1,423.9 240.5,423.6 240.9,423.3 241.3,423 241.8,422.7 242.2,422.4 242.6,422.2 243.1,421.9 243.5,421.7 243.9,421.5 244.4,421.2 244.8,421 245.3,420.8 245.7,420.6 246.1,420.5 246.6,420.3 247,420.1 247.5,420 248,419.8 248.4,419.7 248.9,419.6 249.3,419.5 249.8,419.4 250.2,419.3 250.7,419.2 251.2,419.1 251.6,419.1 252.1,419 252.6,419 253,419 253.5,419 253.9,419 254.4,419 254.9,419 255.3,419 255.8,419.1 256.3,419.1 256.7,419.2 257.2,419.2 257.6,419.3 258.1,419.4 258.6,419.5 259,419.6 259.5,419.7 259.9,419.9 260.4,420 260.8,420.2 261.3,420.3 261.7,420.5 262.2,420.7 262.6,420.9 263.1,421.1 263.5,421.3 264,421.5 264.4,421.8 264.8,422 265.3,422.3 265.7,422.5 266.1,422.8 266.5,423.1 267,423.4 267.4,423.7 267.8,424 268.2,424.3 268.6,424.6 269,425 269.4,425.3 269.8,425.7 270.2,426 270.6,426.4 271,426.8 271.4,427.2 271.8,427.6 272.1,428 272.5,428.4 272.9,428.8 273.2,429.3 273.6,429.7 274,430.2 274.3,430.6 274.7,431.1 275,431.6 275.3,432.1 275.7,432.5 276,433 276.3,433.6 276.6,434.1 276.9,434.6 277.2,435.1 277.5,435.6 277.8,436.2 278.1,436.7 278.4,437.3 278.7,437.8 279,438.4 279.2,439 279.5,439.6 279.8,440.1 280,440.7 280.3,441.3 280.5,441.9 280.7,442.5 281,443.1 281.2,443.8 281.4,444.4 281.6,445 281.8,445.6 282,446.3 282.2,446.9 282.4,447.6 282.5,448.2 282.7,448.9 282.9,449.5 283,450.2 283.2,450.8 283.3,451.5 283.5,452.2 283.6,452.8 283.7,453.5 283.9,454.2 284,454.9 284.1,455.6 284.2,456.2 284.3,456.9 284.3,457.6 284.4,458.3 284.5,459 284.6,459.7 284.6,460.4" fill="none" stroke="#1a86d8" stroke-width="0.8" stroke-linejoin="round"/>
<polygon points="232.2,434.2 233.8,431.3 230.6,431.3" fill="#1a5aa0" stroke="#0a2a60" stroke-width="0.5"/>
<polygon points="236.8,428.5 238.5,425.6 235.2,425.6" fill="#1a5aa0" stroke="#0a2a60" stroke-width="0.5"/>
<polygon points="242,424.3 243.6,421.5 240.3,421.5" fill="#1a5aa0" stroke="#0a2a60" stroke-width="0.5"/>
<polygon points="247.3,421.8 249,418.9 245.7,418.9" fill="#1a5aa0" stroke="#0a2a60" stroke-width="0.5"/>
<polygon points="252.7,420.8 254.3,417.9 251.1,417.9" fill="#1a5aa0" stroke="#0a2a60" stroke-width="0.5"/>
<polygon points="257.9,421.2 259.6,418.3 256.3,418.3" fill="#1a5aa0" stroke="#0a2a60" stroke-width="0.5"/>
<polygon points="262.8,422.8 264.5,419.9 261.2,419.9" fill="#1a5aa0" stroke="#0a2a60" stroke-width="0.5"/>
<polygon points="267.3,425.4 268.9,422.5 265.7,422.5" fill="#1a5aa0" stroke="#0a2a60" stroke-width="0.5"/>
<polygon points="271.2,428.8 272.9,425.9 269.6,425.9" fill="#1a5aa0" stroke="#0a2a60" stroke-width="0.5"/>
<polygon points="274.6,432.8 276.2,430 273,430" fill="#1a5aa0" stroke="#0a2a60" stroke-width="0.5"/>
<polygon points="277.4,437.2 279.1,434.4 275.8,434.4" fill="#1a5aa0" stroke="#0a2a60" stroke-width="0.5"/>
<polygon points="279.7,441.8 281.3,438.9 278.1,438.9" fill="#1a5aa0" stroke="#0a2a60" stroke-width="0.5"/>
<polygon points="281.4,446.3 283.1,443.4 279.8,443.4" fill="#1a5aa0" stroke="#0a2a60" stroke-width="0.5"/>
<polygon points="282.7,450.6 284.3,447.8 281.1,447.8" fill="#1a5aa0" stroke="#0a2a60" stroke-width="0.5"/>
<polygon points="283.6,454.6 285.2,451.7 282,451.7" fill="#1a5aa0" stroke="#0a2a60" stroke-width="0.5"/>
<polygon points="284.2,458 285.8,455.2 282.5,455.2" fill="#1a5aa0" stroke="#0a2a60" stroke-width="0.5"/>
<polygon points="284.5,460.7 286.1,457.8 282.9,457.8" fill="#1a5aa0" stroke="#0a2a60" stroke-width="0.5"/>
<polygon points="284.6,462.2 286.2,459.3 283,459.3" fill="#1a5aa0" stroke="#0a2a60" stroke-width="0.5"/>
<polyline points="231.3,431.7 231.6,431.1 232,430.5 232.4,429.9 232.7,429.4 233.1,428.8 233.5,428.2 233.9,427.7 234.3,427.1 234.7,426.6 235.1,426.1 235.5,425.6 235.9,425.1 236.4,424.6 236.8,424.1 237.2,423.6 237.6,423.1 238.1,422.7 238.5,422.2 239,421.8 239.4,421.4 239.9,421 240.4,420.6 240.8,420.2 241.3,419.8 241.8,419.4 242.2,419.1 242.7,418.7 243.2,418.4 243.7,418 244.2,417.7 244.7,417.4 245.2,417.1 245.7,416.8 246.2,416.5 246.7,416.3 247.2,416 247.7,415.8 248.2,415.6 248.7,415.3 249.2,415.1 249.8,414.9 250.3,414.8 250.8,414.6 251.3,414.4 251.8,414.3 252.4,414.2 252.9,414 253.4,413.9 254,413.8 254.5,413.7 255,413.7 255.6,413.6 256.1,413.5 256.6,413.5 257.2,413.5 257.7,413.5 258.2,413.5 258.8,413.5 259.3,413.5 259.8,413.5 260.4,413.6 260.9,413.6 261.4,413.7 262,413.8 262.5,413.9 263,414 263.5,414.1 264.1,414.2 264.6,414.4 265.1,414.5 265.6,414.7 266.2,414.9 266.7,415 267.2,415.2 267.7,415.5 268.2,415.7 268.7,415.9 269.2,416.2 269.7,416.4 270.3,416.7 270.8,417 271.2,417.3 271.7,417.6 272.2,417.9 272.7,418.2 273.2,418.5 273.7,418.9 274.2,419.2 274.6,419.6 275.1,420 275.6,420.4 276,420.8 276.5,421.2 277,421.6 277.4,422 277.9,422.5 278.3,422.9 278.7,423.4 279.2,423.9 279.6,424.3 280,424.8 280.5,425.3 280.9,425.8 281.3,426.4 281.7,426.9 282.1,427.4 282.5,428 282.9,428.5 283.2,429.1 283.6,429.7 284,430.2 284.4,430.8 284.7,431.4 285.1,432 285.4,432.6 285.8,433.3 286.1,433.9 286.4,434.5 286.8,435.2 287.1,435.8 287.4,436.5 287.7,437.1 288,437.8 288.3,438.5 288.6,439.2 288.8,439.9 289.1,440.6 289.4,441.3 289.6,442 289.9,442.7 290.1,443.4 290.4,444.1 290.6,444.8 290.8,445.6 291,446.3 291.2,447.1 291.4,447.8 291.6,448.6 291.8,449.3 292,450.1 292.1,450.9 292.3,451.6 292.5,452.4 292.6,453.2 292.7,454 292.9,454.7 293,455.5 293.1,456.3 293.2,457.1" fill="none" stroke="#f9ad0d" stroke-width="0.8" stroke-linejoin="round"/>
<circle cx="231.3" cy="431.7" r="1.6" fill="#f0a020" stroke="#704000" stroke-width="0.5"/>
<circle cx="237.1" cy="423.8" r="1.6" fill="#f0a020" stroke="#704000" stroke-width="0.5"/>
<circle cx="243.6" cy="418.1" r="1.6" fill="#f0a020" stroke="#704000" stroke-width="0.5"/>
<circle cx="250.5" cy="414.7" r="1.6" fill="#f0a020" stroke="#704000" stroke-width="0.5"/>
<circle cx="257.4" cy="413.5" r="1.6" fill="#f0a020" stroke="#704000" stroke-width="0.5"/>
<circle cx="264" cy="414.2" r="1.6" fill="#f0a020" stroke="#704000" stroke-width="0.5"/>
<circle cx="270.1" cy="416.6" r="1.6" fill="#f0a020" stroke="#704000" stroke-width="0.5"/>
<circle cx="275.6" cy="420.4" r="1.6" fill="#f0a020" stroke="#704000" stroke-width="0.5"/>
<circle cx="280.2" cy="425.1" r="1.6" fill="#f0a020" stroke="#704000" stroke-width="0.5"/>
<circle cx="284.1" cy="430.4" r="1.6" fill="#f0a020" stroke="#704000" stroke-width="0.5"/>
<circle cx="287.2" cy="436" r="1.6" fill="#f0a020" stroke="#704000" stroke-width="0.5"/>
<circle cx="289.5" cy="441.6" r="1.6" fill="#f0a020" stroke="#704000" stroke-width="0.5"/>
<circle cx="291.2" cy="446.8" r="1.6" fill="#f0a020" stroke="#704000" stroke-width="0.5"/>
<circle cx="292.3" cy="451.4" r="1.6" fill="#f0a020" stroke="#704000" stroke-width="0.5"/>
<circle cx="292.9" cy="455.1" r="1.6" fill="#f0a020" stroke="#704000" stroke-width="0.5"/>
<circle cx="293.2" cy="457.1" r="1.6" fill="#f0a020" stroke="#704000" stroke-width="0.5"/>
<polyline points="244.9,416.2 245.4,415.3 245.9,414.4 246.4,413.6 246.9,412.7 247.5,411.9 248,411.1 248.6,410.2 249.1,409.5 249.7,408.7 250.3,407.9 250.8,407.1 251.4,406.4 252,405.7 252.6,404.9 253.2,404.2 253.9,403.6 254.5,402.9 255.1,402.2 255.8,401.6 256.4,401 257.1,400.4 257.7,399.8 258.4,399.2 259.1,398.6 259.7,398.1 260.4,397.5 261.1,397 261.8,396.5 262.5,396.1 263.2,395.6 263.9,395.1 264.6,394.7 265.3,394.3 266.1,393.9 266.8,393.5 267.5,393.2 268.3,392.8 269,392.5 269.7,392.2 270.5,391.9 271.2,391.6 272,391.3 272.7,391.1 273.5,390.9 274.2,390.7 275,390.5 275.8,390.3 276.5,390.2 277.3,390.1 278,389.9 278.8,389.8 279.6,389.8 280.3,389.7 281.1,389.7 281.9,389.6 282.6,389.6 283.4,389.7 284.2,389.7 284.9,389.7 285.7,389.8 286.5,389.9 287.2,390 288,390.1 288.8,390.3 289.5,390.4 290.3,390.6 291,390.8 291.8,391 292.6,391.3 293.3,391.5 294.1,391.8 294.8,392.1 295.5,392.4 296.3,392.7 297,393 297.7,393.4 298.5,393.7 299.2,394.1 299.9,394.5 300.6,395 301.3,395.4 302,395.9 302.7,396.3 303.4,396.8 304.1,397.3 304.8,397.9 305.5,398.4 306.2,399 306.8,399.5 307.5,400.1 308.2,400.7 308.8,401.4 309.5,402 310.1,402.6 310.7,403.3 311.3,404 312,404.7 312.6,405.4 313.2,406.1 313.8,406.9 314.3,407.6 314.9,408.4 315.5,409.1 316.1,409.9 316.6,410.7 317.2,411.6 317.7,412.4 318.2,413.2 318.7,414.1 319.2,415 319.7,415.9 320.2,416.7 320.7,417.7 321.2,418.6 321.7,419.5 322.1,420.4 322.6,421.4 323,422.3 323.4,423.3 323.8,424.3 324.2,425.3 324.6,426.3 325,427.3 325.4,428.3 325.7,429.3 326.1,430.4 326.4,431.4 326.8,432.5 327.1,433.5 327.4,434.6 327.7,435.6 328,436.7 328.2,437.8 328.5,438.9 328.8,440 329,441.1 329.2,442.2 329.4,443.3 329.6,444.5 329.8,445.6 330,446.7 330.2,447.8 330.4,449 330.5,450.1 330.6,451.3 330.8,452.4 330.9,453.6 331,454.7 331.1,455.9" fill="none" stroke="#ff1b1b" stroke-width="0.8" stroke-linejoin="round"/>
<polygon points="243.1,416.2 246,414.6 246,417.8" fill="#d01010" stroke="#800000" stroke-width="0.5"/>
<polygon points="249.4,406.7 252.3,405.1 252.3,408.3" fill="#d01010" stroke="#800000" stroke-width="0.5"/>
<polygon points="256.5,399.2 259.4,397.6 259.4,400.9" fill="#d01010" stroke="#800000" stroke-width="0.5"/>
<polygon points="264.2,394 267.1,392.3 267.1,395.6" fill="#d01010" stroke="#800000" stroke-width="0.5"/>
<polygon points="272.1,390.8 274.9,389.2 274.9,392.4" fill="#d01010" stroke="#800000" stroke-width="0.5"/>
<polygon points="279.9,389.7 282.8,388 282.8,391.3" fill="#d01010" stroke="#800000" stroke-width="0.5"/>
<polygon points="287.5,390.4 290.4,388.8 290.4,392" fill="#d01010" stroke="#800000" stroke-width="0.5"/>
<polygon points="294.7,392.8 297.5,391.1 297.5,394.4" fill="#d01010" stroke="#800000" stroke-width="0.5"/>
<polygon points="301.2,396.5 304.1,394.9 304.1,398.2" fill="#d01010" stroke="#800000" stroke-width="0.5"/>
<polygon points="307.1,401.4 310,399.8 310,403" fill="#d01010" stroke="#800000" stroke-width="0.5"/>
<polygon points="312.2,407.2 315.1,405.5 315.1,408.8" fill="#d01010" stroke="#800000" stroke-width="0.5"/>
<polygon points="316.6,413.5 319.5,411.9 319.5,415.1" fill="#d01010" stroke="#800000" stroke-width="0.5"/>
<polygon points="320.2,420.1 323.1,418.5 323.1,421.8" fill="#d01010" stroke="#800000" stroke-width="0.5"/>
<polygon points="323.1,426.8 325.9,425.2 325.9,428.5" fill="#d01010" stroke="#800000" stroke-width="0.5"/>
<polygon points="325.3,433.4 328.1,431.8 328.1,435" fill="#d01010" stroke="#800000" stroke-width="0.5"/>
<polygon points="326.9,439.6 329.7,437.9 329.7,441.2" fill="#d01010" stroke="#800000" stroke-width="0.5"/>
<polygon points="328,445.2 330.9,443.6 330.9,446.8" fill="#d01010" stroke="#800000" stroke-width="0.5"/>
<polygon points="328.7,450 331.6,448.4 331.6,451.6" fill="#d01010" stroke="#800000" stroke-width="0.5"/>
<polygon points="329.1,453.8 332,452.2 332,455.4" fill="#d01010" stroke="#800000" stroke-width="0.5"/>
<polygon points="329.3,455.9 332.1,454.2 332.1,457.5" fill="#d01010" stroke="#800000" stroke-width="0.5"/>
</g>
<rect x="208.6" y="325.3" width="154.2" height="137.3" fill="none" stroke="#111111" stroke-width="1.4"/>
<line x1="208.6" y1="462.6" x2="208.6" y2="460.4" stroke="#111111" stroke-width="0.9"/>
<text x="208.6" y="471.4" font-size="6.9" text-anchor="middle" font-weight="bold" fill="#111111">0</text>
<line x1="254" y1="462.6" x2="254" y2="460.4" stroke="#111111" stroke-width="0.9"/>
<text x="254" y="471.4" font-size="6.9" text-anchor="middle" font-weight="bold" fill="#111111">50</text>
<line x1="299.3" y1="462.6" x2="299.3" y2="460.4" stroke="#111111" stroke-width="0.9"/>
<text x="299.3" y="471.4" font-size="6.9" text-anchor="middle" font-weight="bold" fill="#111111">100</text>
<line x1="344.7" y1="462.6" x2="344.7" y2="460.4" stroke="#111111" stroke-width="0.9"/>
<text x="344.7" y="471.4" font-size="6.9" text-anchor="middle" font-weight="bold" fill="#111111">150</text>
<line x1="231.3" y1="462.6" x2="231.3" y2="461.3" stroke="#111111" stroke-width="0.8"/>
<line x1="276.6" y1="462.6" x2="276.6" y2="461.3" stroke="#111111" stroke-width="0.8"/>
<line x1="322" y1="462.6" x2="322" y2="461.3" stroke="#111111" stroke-width="0.8"/>
<line x1="208.6" y1="462.6" x2="210.8" y2="462.6" stroke="#111111" stroke-width="0.9"/>
<text x="206.1" y="465.1" font-size="6.9" text-anchor="end" font-weight="bold" fill="#111111">0</text>
<line x1="208.6" y1="435.1" x2="210.8" y2="435.1" stroke="#111111" stroke-width="0.9"/>
<text x="206.1" y="437.6" font-size="6.9" text-anchor="end" font-weight="bold" fill="#111111">20</text>
<line x1="208.6" y1="407.7" x2="210.8" y2="407.7" stroke="#111111" stroke-width="0.9"/>
<text x="206.1" y="410.2" font-size="6.9" text-anchor="end" font-weight="bold" fill="#111111">40</text>
<line x1="208.6" y1="380.2" x2="210.8" y2="380.2" stroke="#111111" stroke-width="0.9"/>
<text x="206.1" y="382.7" font-size="6.9" text-anchor="end" font-weight="bold" fill="#111111">60</text>
<line x1="208.6" y1="352.8" x2="210.8" y2="352.8" stroke="#111111" stroke-width="0.9"/>
<text x="206.1" y="355.3" font-size="6.9" text-anchor="end" font-weight="bold" fill="#111111">80</text>
<line x1="208.6" y1="325.3" x2="210.8" y2="325.3" stroke="#111111" stroke-width="0.9"/>
<text x="206.1" y="327.8" font-size="6.9" text-anchor="end" font-weight="bold" fill="#111111">100</text>
<line x1="208.6" y1="448.9" x2="209.9" y2="448.9" stroke="#111111" stroke-width="0.8"/>
<line x1="208.6" y1="421.4" x2="209.9" y2="421.4" stroke="#111111" stroke-width="0.8"/>
<line x1="208.6" y1="394" x2="209.9" y2="394" stroke="#111111" stroke-width="0.8"/>
<line x1="208.6" y1="366.5" x2="209.9" y2="366.5" stroke="#111111" stroke-width="0.8"/>
<line x1="208.6" y1="339" x2="209.9" y2="339" stroke="#111111" stroke-width="0.8"/>
<text x="285.7" y="478" font-size="8" text-anchor="middle" font-weight="bold" fill="#111111">Z' <tspan font-weight="normal">(Ω)</tspan></text>
<text x="196.3" y="388.5" font-size="8" text-anchor="middle" font-weight="bold" fill="#111111" transform="rotate(-90 196.3 388.5)">−Z'' <tspan font-weight="normal">(Ω)</tspan></text>
<text x="220.5" y="337" font-size="12.1" text-anchor="middle" font-weight="bold" fill="#111111">(h)</text>
<text x="240.7" y="336.2" font-size="6.8" text-anchor="start" font-weight="bold" fill="#111111">Dark</text>
<g transform="translate(0 0)" stroke="#1a1a1a" stroke-width="0.85" fill="none"><line x1="213.1" y1="354.3" x2="216.2" y2="354.3"/><polyline points="216.2,354.3 217,352.4 218.5,356.2 220.1,352.4 221.6,356.2 223.1,352.4 224.7,356.2 226.2,352.4 227,354.3"/><polyline points="227,354.3 230.1,354.3"/><polyline points="233.2,349.7 230.1,349.7 230.1,362.8 240.2,362.8"/><polyline points="233.2,349.7 234.1,347.8 236,351.6 237.9,347.8 239.8,351.6 241.6,347.8 243.5,351.6 245.4,347.8 246.3,349.7"/><polyline points="246.3,349.7 248.6,349.7 248.6,362.8 241.6,362.8"/><line x1="240.2" y1="360.6" x2="240.2" y2="365"/><line x1="241.6" y1="360.6" x2="241.6" y2="365"/><line x1="248.6" y1="355.1" x2="254.8" y2="355.1"/><polyline points="257.9,349.7 254.8,349.7 254.8,362.8 264.8,362.8"/><polyline points="257.9,349.7 258.8,347.8 260.6,351.6 262.3,347.8 264.1,351.6 265.9,347.8 267.6,351.6 269.4,347.8 270.3,349.7"/><line x1="270.3" y1="349.7" x2="272.6" y2="349.7"/><rect x="272.6" y="347.0" width="9.3" height="5.6"/><polyline points="281.9,349.7 285,349.7 285,362.8 271.8,362.8"/><polyline points="264.8,360.8 267.2,362.8 264.8,364.8"/><polyline points="267.6,360.8 270.0,362.8 267.6,364.8"/><line x1="285" y1="355.1" x2="288" y2="355.1"/></g>
<text x="220.8" y="350" font-size="5.0" text-anchor="middle" font-weight="bold" fill="#111111">R<tspan font-size="3.8">S</tspan></text>
<text x="240.1" y="345" font-size="5.0" text-anchor="middle" font-weight="bold" fill="#111111">R<tspan font-size="3.8">SC</tspan></text>
<text x="241" y="369.6" font-size="5.0" text-anchor="middle" font-weight="bold" fill="#111111">C<tspan font-size="3.8">SC</tspan></text>
<text x="263.8" y="345.4" font-size="5.0" text-anchor="middle" font-weight="bold" fill="#111111">R<tspan font-size="3.8">CT</tspan></text>
<text x="277.3" y="351.8" font-size="5.4" text-anchor="middle" font-weight="bold" fill="#111111">Q</text>
<text x="283.8" y="348" font-size="3.8" text-anchor="middle" font-weight="normal" fill="#111111">n</text>
<text x="267.6" y="370.2" font-size="5.0" text-anchor="middle" font-weight="bold" fill="#222266">C<tspan font-size="3.8">H</tspan></text>
<line x1="305.3" y1="330.9" x2="320.7" y2="330.9" stroke="#33dd33" stroke-width="1.0"/>
<rect x="311.6" y="329.5" width="2.7" height="2.7" fill="#2ec02e" stroke="#0a600a" stroke-width="0.5"/>
<text x="321.9" y="333.1" font-size="6.3" text-anchor="start" font-weight="bold" fill="#111111">Melem</text>
<line x1="305.3" y1="339" x2="320.7" y2="339" stroke="#555555" stroke-width="1.0"/>
<circle cx="313" cy="339" r="1.6" fill="#ffffff" stroke="#333333" stroke-width="0.5"/>
<text x="321.9" y="341.2" font-size="6.3" text-anchor="start" font-weight="bold" fill="#111111">CN</text>
<line x1="305.3" y1="347" x2="320.7" y2="347" stroke="#7a22c8" stroke-width="1.0"/>
<polygon points="313,345.2 314.7,348.1 311.3,348.1" fill="#5a1a9a" stroke="#2a0a5a" stroke-width="0.5"/>
<text x="321.9" y="349.2" font-size="6.3" text-anchor="start" font-weight="bold" fill="#111111">CN:PDI</text>
<line x1="305.3" y1="355" x2="320.7" y2="355" stroke="#1a86d8" stroke-width="1.0"/>
<polygon points="313,356.8 314.7,353.9 311.3,353.9" fill="#1a5aa0" stroke="#0a2a60" stroke-width="0.5"/>
<text x="321.9" y="357.2" font-size="6.3" text-anchor="start" font-weight="bold" fill="#111111">Exf. CN:PDI</text>
<line x1="305.3" y1="363" x2="320.7" y2="363" stroke="#f9ad0d" stroke-width="1.0"/>
<circle cx="313" cy="363" r="1.6" fill="#f0a020" stroke="#704000" stroke-width="0.5"/>
<text x="321.9" y="365.2" font-size="6.3" text-anchor="start" font-weight="bold" fill="#111111">CdS</text>
<line x1="305.3" y1="370.9" x2="320.7" y2="370.9" stroke="#ff1b1b" stroke-width="1.0"/>
<polygon points="311.2,370.9 314.1,369.2 314.1,372.6" fill="#d01010" stroke="#800000" stroke-width="0.5"/>
<text x="321.9" y="373.1" font-size="6.3" text-anchor="start" font-weight="bold" fill="#111111">CdS/CN:PDI</text>
<clipPath id="ci"><rect x="388.2" y="325.6" width="154.6" height="137.7"/></clipPath>
<g clip-path="url(#ci)">
<polyline points="405.9,441.5 406.1,441.1 406.4,440.6 406.6,440.2 406.8,439.8 407.1,439.3 407.3,438.9 407.6,438.5 407.8,438.1 408.1,437.7 408.3,437.3 408.6,436.9 408.9,436.5 409.1,436.1 409.4,435.8 409.7,435.4 410,435 410.3,434.7 410.6,434.3 410.9,434 411.2,433.7 411.5,433.4 411.8,433 412.1,432.7 412.4,432.4 412.7,432.2 413,431.9 413.4,431.6 413.7,431.3 414,431.1 414.3,430.8 414.7,430.6 415,430.4 415.3,430.1 415.7,429.9 416,429.7 416.4,429.5 416.7,429.3 417.1,429.2 417.4,429 417.8,428.8 418.1,428.7 418.5,428.5 418.8,428.4 419.2,428.3 419.5,428.1 419.9,428 420.2,427.9 420.6,427.9 421,427.8 421.3,427.7 421.7,427.6 422.1,427.6 422.4,427.5 422.8,427.5 423.2,427.5 423.5,427.5 423.9,427.4 424.3,427.5 424.6,427.5 425,427.5 425.3,427.5 425.7,427.5 426.1,427.6 426.4,427.7 426.8,427.7 427.2,427.8 427.5,427.9 427.9,428 428.2,428.1 428.6,428.2 429,428.3 429.3,428.4 429.7,428.6 430,428.7 430.4,428.9 430.7,429 431.1,429.2 431.4,429.4 431.8,429.6 432.1,429.8 432.5,430 432.8,430.2 433.1,430.4 433.5,430.7 433.8,430.9 434.1,431.2 434.4,431.4 434.8,431.7 435.1,432 435.4,432.2 435.7,432.5 436,432.8 436.3,433.1 436.6,433.5 436.9,433.8 437.2,434.1 437.5,434.4 437.8,434.8 438.1,435.1 438.4,435.5 438.7,435.9 439,436.2 439.2,436.6 439.5,437 439.8,437.4 440,437.8 440.3,438.2 440.5,438.6 440.8,439 441,439.5 441.3,439.9 441.5,440.3 441.7,440.8 442,441.2 442.2,441.7 442.4,442.1 442.6,442.6 442.8,443.1 443,443.6 443.2,444 443.4,444.5 443.6,445 443.8,445.5 444,446 444.1,446.5 444.3,447 444.5,447.5 444.6,448.1 444.8,448.6 444.9,449.1 445.1,449.6 445.2,450.2 445.3,450.7 445.4,451.2 445.6,451.8 445.7,452.3 445.8,452.9 445.9,453.4 446,454 446.1,454.5 446.1,455.1 446.2,455.6 446.3,456.2 446.4,456.8 446.4,457.3 446.5,457.9 446.5,458.4 446.6,459 446.6,459.6" fill="none" stroke="#33dd33" stroke-width="0.8" stroke-linejoin="round"/>
<rect x="404.6" y="440.2" width="2.6" height="2.6" fill="#2ec02e" stroke="#0a600a" stroke-width="0.5"/>
<rect x="408.6" y="433.8" width="2.6" height="2.6" fill="#2ec02e" stroke="#0a600a" stroke-width="0.5"/>
<rect x="413.3" y="429.3" width="2.6" height="2.6" fill="#2ec02e" stroke="#0a600a" stroke-width="0.5"/>
<rect x="418.3" y="426.8" width="2.6" height="2.6" fill="#2ec02e" stroke="#0a600a" stroke-width="0.5"/>
<rect x="423.3" y="426.1" width="2.6" height="2.6" fill="#2ec02e" stroke="#0a600a" stroke-width="0.5"/>
<rect x="428.1" y="427.1" width="2.6" height="2.6" fill="#2ec02e" stroke="#0a600a" stroke-width="0.5"/>
<rect x="432.4" y="429.5" width="2.6" height="2.6" fill="#2ec02e" stroke="#0a600a" stroke-width="0.5"/>
<rect x="436" y="432.9" width="2.6" height="2.6" fill="#2ec02e" stroke="#0a600a" stroke-width="0.5"/>
<rect x="439" y="437" width="2.6" height="2.6" fill="#2ec02e" stroke="#0a600a" stroke-width="0.5"/>
<rect x="441.3" y="441.4" width="2.6" height="2.6" fill="#2ec02e" stroke="#0a600a" stroke-width="0.5"/>
<rect x="443" y="445.8" width="2.6" height="2.6" fill="#2ec02e" stroke="#0a600a" stroke-width="0.5"/>
<rect x="444.1" y="450" width="2.6" height="2.6" fill="#2ec02e" stroke="#0a600a" stroke-width="0.5"/>
<rect x="444.8" y="453.7" width="2.6" height="2.6" fill="#2ec02e" stroke="#0a600a" stroke-width="0.5"/>
<rect x="445.2" y="456.7" width="2.6" height="2.6" fill="#2ec02e" stroke="#0a600a" stroke-width="0.5"/>
<rect x="445.3" y="458.3" width="2.6" height="2.6" fill="#2ec02e" stroke="#0a600a" stroke-width="0.5"/>
<polyline points="408.1,442.2 408.5,440.8 409,439.4 409.4,438 409.9,436.6 410.4,435.3 410.8,433.9 411.4,432.6 411.9,431.2 412.4,429.9 413,428.6 413.5,427.3 414.1,426 414.7,424.8 415.3,423.6 415.9,422.3 416.6,421.1 417.2,419.9 417.9,418.7 418.5,417.6 419.2,416.5 419.9,415.3 420.6,414.2 421.3,413.1 422.1,412.1 422.8,411 423.6,410 424.3,409 425.1,408 425.9,407 426.7,406.1 427.5,405.2 428.3,404.3 429.1,403.4 430,402.5 430.8,401.7 431.7,400.9 432.5,400.1 433.4,399.3 434.3,398.6 435.1,397.8 436,397.1 436.9,396.5 437.8,395.8 438.8,395.2 439.7,394.6 440.6,394 441.5,393.4 442.5,392.9 443.4,392.4 444.4,391.9 445.3,391.5 446.3,391 447.3,390.6 448.2,390.2 449.2,389.9 450.2,389.6 451.2,389.3 452.1,389 453.1,388.7 454.1,388.5 455.1,388.3 456.1,388.1 457.1,388 458.1,387.8 459.1,387.7 460.1,387.7 461.1,387.6 462.1,387.6 463.1,387.6 464.1,387.7 465.1,387.7 466.1,387.8 467.1,387.9 468.1,388.1 469.1,388.2 470,388.4 471,388.6 472,388.9 473,389.2 474,389.4 475,389.8 475.9,390.1 476.9,390.5 477.9,390.9 478.8,391.3 479.8,391.8 480.7,392.2 481.7,392.7 482.6,393.3 483.6,393.8 484.5,394.4 485.4,395 486.3,395.6 487.2,396.2 488.1,396.9 489,397.6 489.9,398.3 490.8,399.1 491.7,399.8 492.5,400.6 493.4,401.4 494.2,402.2 495.1,403.1 495.9,404 496.7,404.9 497.5,405.8 498.3,406.7 499.1,407.7 499.9,408.6 500.7,409.6 501.4,410.7 502.2,411.7 502.9,412.8 503.6,413.8 504.3,414.9 505,416.1 505.7,417.2 506.4,418.3 507.1,419.5 507.7,420.7 508.4,421.9 509,423.1 509.6,424.4 510.2,425.6 510.8,426.9 511.3,428.2 511.9,429.5 512.4,430.8 513,432.1 513.5,433.4 514,434.8 514.5,436.2 514.9,437.5 515.4,438.9 515.8,440.3 516.2,441.7 516.7,443.2 517,444.6 517.4,446 517.8,447.5 518.1,449 518.5,450.4 518.8,451.9 519.1,453.4 519.4,454.9 519.6,456.4 519.9,457.9 520.1,459.4 520.3,461" fill="none" stroke="#555555" stroke-width="0.8" stroke-linejoin="round"/>
<circle cx="408.1" cy="442.2" r="1.6" fill="#ffffff" stroke="#333333" stroke-width="0.5"/>
<circle cx="413.6" cy="427.3" r="1.6" fill="#ffffff" stroke="#333333" stroke-width="0.5"/>
<circle cx="420.5" cy="414.5" r="1.6" fill="#ffffff" stroke="#333333" stroke-width="0.5"/>
<circle cx="428.5" cy="404.1" r="1.6" fill="#ffffff" stroke="#333333" stroke-width="0.5"/>
<circle cx="437.3" cy="396.2" r="1.6" fill="#ffffff" stroke="#333333" stroke-width="0.5"/>
<circle cx="446.5" cy="390.9" r="1.6" fill="#ffffff" stroke="#333333" stroke-width="0.5"/>
<circle cx="455.8" cy="388.2" r="1.6" fill="#ffffff" stroke="#333333" stroke-width="0.5"/>
<circle cx="465" cy="387.7" r="1.6" fill="#ffffff" stroke="#333333" stroke-width="0.5"/>
<circle cx="473.7" cy="389.4" r="1.6" fill="#ffffff" stroke="#333333" stroke-width="0.5"/>
<circle cx="481.9" cy="392.8" r="1.6" fill="#ffffff" stroke="#333333" stroke-width="0.5"/>
<circle cx="489.3" cy="397.8" r="1.6" fill="#ffffff" stroke="#333333" stroke-width="0.5"/>
<circle cx="495.9" cy="404" r="1.6" fill="#ffffff" stroke="#333333" stroke-width="0.5"/>
<circle cx="501.7" cy="411" r="1.6" fill="#ffffff" stroke="#333333" stroke-width="0.5"/>
<circle cx="506.5" cy="418.5" r="1.6" fill="#ffffff" stroke="#333333" stroke-width="0.5"/>
<circle cx="510.5" cy="426.3" r="1.6" fill="#ffffff" stroke="#333333" stroke-width="0.5"/>
<circle cx="513.7" cy="433.9" r="1.6" fill="#ffffff" stroke="#333333" stroke-width="0.5"/>
<circle cx="516.1" cy="441.3" r="1.6" fill="#ffffff" stroke="#333333" stroke-width="0.5"/>
<circle cx="517.9" cy="448" r="1.6" fill="#ffffff" stroke="#333333" stroke-width="0.5"/>
<circle cx="519.2" cy="453.8" r="1.6" fill="#ffffff" stroke="#333333" stroke-width="0.5"/>
<circle cx="520" cy="458.4" r="1.6" fill="#ffffff" stroke="#333333" stroke-width="0.5"/>
<circle cx="520.3" cy="461" r="1.6" fill="#ffffff" stroke="#333333" stroke-width="0.5"/>
<polyline points="407.1,440.6 407.4,440.1 407.6,439.6 407.9,439.2 408.1,438.7 408.4,438.3 408.6,437.9 408.9,437.4 409.1,437 409.4,436.6 409.7,436.2 410,435.8 410.2,435.4 410.5,435 410.8,434.6 411.1,434.2 411.4,433.8 411.7,433.5 412,433.1 412.3,432.8 412.6,432.4 413,432.1 413.3,431.8 413.6,431.5 413.9,431.2 414.3,430.9 414.6,430.6 414.9,430.3 415.3,430 415.6,429.8 415.9,429.5 416.3,429.3 416.6,429 417,428.8 417.3,428.6 417.7,428.4 418.1,428.2 418.4,428 418.8,427.8 419.1,427.6 419.5,427.4 419.9,427.3 420.2,427.1 420.6,427 421,426.9 421.4,426.7 421.7,426.6 422.1,426.5 422.5,426.4 422.9,426.4 423.2,426.3 423.6,426.2 424,426.2 424.4,426.1 424.8,426.1 425.1,426.1 425.5,426 425.9,426 426.3,426 426.7,426.1 427,426.1 427.4,426.1 427.8,426.1 428.2,426.2 428.6,426.3 428.9,426.3 429.3,426.4 429.7,426.5 430.1,426.6 430.4,426.7 430.8,426.8 431.2,427 431.6,427.1 431.9,427.2 432.3,427.4 432.7,427.6 433,427.7 433.4,427.9 433.7,428.1 434.1,428.3 434.5,428.5 434.8,428.7 435.2,429 435.5,429.2 435.9,429.4 436.2,429.7 436.5,430 436.9,430.2 437.2,430.5 437.6,430.8 437.9,431.1 438.2,431.4 438.5,431.7 438.9,432 439.2,432.4 439.5,432.7 439.8,433 440.1,433.4 440.4,433.7 440.7,434.1 441,434.5 441.3,434.9 441.6,435.3 441.9,435.7 442.1,436.1 442.4,436.5 442.7,436.9 443,437.3 443.2,437.7 443.5,438.2 443.7,438.6 444,439.1 444.2,439.5 444.5,440 444.7,440.5 444.9,440.9 445.2,441.4 445.4,441.9 445.6,442.4 445.8,442.9 446,443.4 446.2,443.9 446.4,444.4 446.6,444.9 446.8,445.4 446.9,446 447.1,446.5 447.3,447 447.5,447.6 447.6,448.1 447.8,448.7 447.9,449.2 448,449.8 448.2,450.3 448.3,450.9 448.4,451.4 448.5,452 448.7,452.6 448.8,453.2 448.9,453.7 448.9,454.3 449,454.9 449.1,455.5 449.2,456 449.3,456.6 449.3,457.2 449.4,457.8 449.4,458.4 449.5,459 449.5,459.6" fill="none" stroke="#7a22c8" stroke-width="0.8" stroke-linejoin="round"/>
<polygon points="407.1,438.8 408.8,441.7 405.5,441.7" fill="#5a1a9a" stroke="#2a0a5a" stroke-width="0.5"/>
<polygon points="411,432.6 412.6,435.4 409.4,435.4" fill="#5a1a9a" stroke="#2a0a5a" stroke-width="0.5"/>
<polygon points="415.5,428 417.2,430.9 413.9,430.9" fill="#5a1a9a" stroke="#2a0a5a" stroke-width="0.5"/>
<polygon points="420.4,425.3 422,428.2 418.8,428.2" fill="#5a1a9a" stroke="#2a0a5a" stroke-width="0.5"/>
<polygon points="425.3,424.3 426.9,427.1 423.7,427.1" fill="#5a1a9a" stroke="#2a0a5a" stroke-width="0.5"/>
<polygon points="430,424.8 431.7,427.7 428.4,427.7" fill="#5a1a9a" stroke="#2a0a5a" stroke-width="0.5"/>
<polygon points="434.4,426.7 436,429.5 432.7,429.5" fill="#5a1a9a" stroke="#2a0a5a" stroke-width="0.5"/>
<polygon points="438.2,429.6 439.8,432.5 436.6,432.5" fill="#5a1a9a" stroke="#2a0a5a" stroke-width="0.5"/>
<polygon points="441.4,433.3 443.1,436.1 439.8,436.1" fill="#5a1a9a" stroke="#2a0a5a" stroke-width="0.5"/>
<polygon points="444.1,437.4 445.7,440.3 442.4,440.3" fill="#5a1a9a" stroke="#2a0a5a" stroke-width="0.5"/>
<polygon points="446.1,441.8 447.7,444.6 444.4,444.6" fill="#5a1a9a" stroke="#2a0a5a" stroke-width="0.5"/>
<polygon points="447.5,446.1 449.2,448.9 445.9,448.9" fill="#5a1a9a" stroke="#2a0a5a" stroke-width="0.5"/>
<polygon points="448.5,450 450.1,452.9 446.9,452.9" fill="#5a1a9a" stroke="#2a0a5a" stroke-width="0.5"/>
<polygon points="449.1,453.5 450.7,456.4 447.5,456.4" fill="#5a1a9a" stroke="#2a0a5a" stroke-width="0.5"/>
<polygon points="449.4,456.3 451,459.2 447.8,459.2" fill="#5a1a9a" stroke="#2a0a5a" stroke-width="0.5"/>
<polygon points="449.5,457.8 451.1,460.7 447.9,460.7" fill="#5a1a9a" stroke="#2a0a5a" stroke-width="0.5"/>
<polyline points="407.6,439.9 407.9,439.2 408.2,438.5 408.4,437.8 408.8,437.1 409.1,436.4 409.4,435.8 409.7,435.1 410,434.5 410.4,433.8 410.7,433.2 411.1,432.6 411.4,432 411.8,431.4 412.2,430.8 412.5,430.2 412.9,429.6 413.3,429.1 413.7,428.5 414.1,428 414.5,427.4 414.9,426.9 415.4,426.4 415.8,425.9 416.2,425.4 416.6,424.9 417.1,424.5 417.5,424 418,423.6 418.4,423.1 418.9,422.7 419.4,422.3 419.8,421.9 420.3,421.5 420.8,421.1 421.2,420.8 421.7,420.4 422.2,420.1 422.7,419.8 423.2,419.5 423.7,419.2 424.2,418.9 424.7,418.6 425.2,418.4 425.7,418.1 426.2,417.9 426.7,417.7 427.3,417.5 427.8,417.3 428.3,417.1 428.8,417 429.3,416.8 429.9,416.7 430.4,416.5 430.9,416.4 431.4,416.3 432,416.3 432.5,416.2 433,416.1 433.6,416.1 434.1,416.1 434.6,416.1 435.1,416.1 435.7,416.1 436.2,416.1 436.7,416.1 437.3,416.2 437.8,416.3 438.3,416.4 438.9,416.5 439.4,416.6 439.9,416.7 440.4,416.8 441,417 441.5,417.1 442,417.3 442.5,417.5 443,417.7 443.5,417.9 444,418.2 444.6,418.4 445.1,418.7 445.6,418.9 446.1,419.2 446.6,419.5 447,419.8 447.5,420.2 448,420.5 448.5,420.9 449,421.2 449.5,421.6 449.9,422 450.4,422.4 450.9,422.8 451.3,423.2 451.8,423.6 452.2,424.1 452.7,424.5 453.1,425 453.5,425.5 454,426 454.4,426.5 454.8,427 455.2,427.5 455.6,428.1 456,428.6 456.4,429.2 456.8,429.7 457.2,430.3 457.6,430.9 457.9,431.5 458.3,432.1 458.7,432.7 459,433.3 459.4,433.9 459.7,434.6 460,435.2 460.3,435.9 460.7,436.6 461,437.2 461.3,437.9 461.6,438.6 461.9,439.3 462.1,440 462.4,440.7 462.7,441.4 462.9,442.2 463.2,442.9 463.4,443.6 463.7,444.4 463.9,445.1 464.1,445.9 464.3,446.7 464.5,447.4 464.7,448.2 464.9,449 465.1,449.8 465.2,450.6 465.4,451.3 465.6,452.1 465.7,452.9 465.8,453.7 466,454.5 466.1,455.4 466.2,456.2 466.3,457 466.4,457.8 466.5,458.6 466.5,459.4 466.6,460.3" fill="none" stroke="#1a86d8" stroke-width="0.8" stroke-linejoin="round"/>
<polygon points="407.6,441.7 409.2,438.8 406,438.8" fill="#1a5aa0" stroke="#0a2a60" stroke-width="0.5"/>
<polygon points="411.3,434 412.9,431.1 409.7,431.1" fill="#1a5aa0" stroke="#0a2a60" stroke-width="0.5"/>
<polygon points="415.7,427.7 417.4,424.9 414.1,424.9" fill="#1a5aa0" stroke="#0a2a60" stroke-width="0.5"/>
<polygon points="420.7,423 422.3,420.1 419.1,420.1" fill="#1a5aa0" stroke="#0a2a60" stroke-width="0.5"/>
<polygon points="426,419.8 427.6,416.9 424.3,416.9" fill="#1a5aa0" stroke="#0a2a60" stroke-width="0.5"/>
<polygon points="431.3,418.1 432.9,415.3 429.7,415.3" fill="#1a5aa0" stroke="#0a2a60" stroke-width="0.5"/>
<polygon points="436.6,417.9 438.2,415 434.9,415" fill="#1a5aa0" stroke="#0a2a60" stroke-width="0.5"/>
<polygon points="441.6,419 443.2,416.1 440,416.1" fill="#1a5aa0" stroke="#0a2a60" stroke-width="0.5"/>
<polygon points="446.2,421.1 447.9,418.3 444.6,418.3" fill="#1a5aa0" stroke="#0a2a60" stroke-width="0.5"/>
<polygon points="450.4,424.2 452.1,421.3 448.8,421.3" fill="#1a5aa0" stroke="#0a2a60" stroke-width="0.5"/>
<polygon points="454.1,428 455.8,425.1 452.5,425.1" fill="#1a5aa0" stroke="#0a2a60" stroke-width="0.5"/>
<polygon points="457.3,432.2 458.9,429.4 455.7,429.4" fill="#1a5aa0" stroke="#0a2a60" stroke-width="0.5"/>
<polygon points="459.9,436.8 461.5,433.9 458.3,433.9" fill="#1a5aa0" stroke="#0a2a60" stroke-width="0.5"/>
<polygon points="462,441.5 463.6,438.6 460.4,438.6" fill="#1a5aa0" stroke="#0a2a60" stroke-width="0.5"/>
<polygon points="463.6,446.1 465.3,443.2 462,443.2" fill="#1a5aa0" stroke="#0a2a60" stroke-width="0.5"/>
<polygon points="464.8,450.5 466.5,447.6 463.2,447.6" fill="#1a5aa0" stroke="#0a2a60" stroke-width="0.5"/>
<polygon points="465.6,454.4 467.3,451.6 464,451.6" fill="#1a5aa0" stroke="#0a2a60" stroke-width="0.5"/>
<polygon points="466.2,457.9 467.8,455 464.5,455" fill="#1a5aa0" stroke="#0a2a60" stroke-width="0.5"/>
<polygon points="466.5,460.6 468.1,457.7 464.8,457.7" fill="#1a5aa0" stroke="#0a2a60" stroke-width="0.5"/>
<polygon points="466.6,462.1 468.2,459.2 465,459.2" fill="#1a5aa0" stroke="#0a2a60" stroke-width="0.5"/>
<polyline points="407.4,440.2 407.7,439.6 407.9,439.1 408.2,438.6 408.5,438.1 408.8,437.6 409,437.1 409.3,436.6 409.6,436.1 409.9,435.7 410.2,435.2 410.5,434.7 410.9,434.3 411.2,433.9 411.5,433.4 411.8,433 412.2,432.6 412.5,432.2 412.8,431.8 413.2,431.4 413.5,431 413.9,430.6 414.2,430.2 414.6,429.9 415,429.5 415.3,429.2 415.7,428.9 416.1,428.5 416.4,428.2 416.8,427.9 417.2,427.6 417.6,427.3 418,427 418.4,426.8 418.8,426.5 419.2,426.3 419.6,426 420,425.8 420.4,425.6 420.8,425.4 421.2,425.2 421.6,425 422,424.8 422.4,424.6 422.8,424.5 423.2,424.3 423.6,424.2 424.1,424.1 424.5,423.9 424.9,423.8 425.3,423.7 425.7,423.6 426.2,423.6 426.6,423.5 427,423.4 427.4,423.4 427.9,423.4 428.3,423.3 428.7,423.3 429.1,423.3 429.6,423.3 430,423.3 430.4,423.4 430.9,423.4 431.3,423.4 431.7,423.5 432.1,423.6 432.5,423.6 433,423.7 433.4,423.8 433.8,423.9 434.2,424.1 434.7,424.2 435.1,424.3 435.5,424.5 435.9,424.6 436.3,424.8 436.7,425 437.1,425.2 437.5,425.4 437.9,425.6 438.3,425.8 438.7,426 439.1,426.3 439.5,426.5 439.9,426.8 440.3,427 440.7,427.3 441.1,427.6 441.5,427.9 441.9,428.2 442.2,428.5 442.6,428.8 443,429.2 443.3,429.5 443.7,429.9 444.1,430.2 444.4,430.6 444.8,431 445.1,431.3 445.5,431.7 445.8,432.1 446.1,432.5 446.5,433 446.8,433.4 447.1,433.8 447.4,434.3 447.8,434.7 448.1,435.2 448.4,435.6 448.7,436.1 449,436.6 449.3,437.1 449.5,437.6 449.8,438.1 450.1,438.6 450.4,439.1 450.6,439.6 450.9,440.1 451.2,440.7 451.4,441.2 451.7,441.8 451.9,442.3 452.1,442.9 452.4,443.4 452.6,444 452.8,444.6 453,445.1 453.2,445.7 453.4,446.3 453.6,446.9 453.8,447.5 454,448.1 454.2,448.7 454.3,449.3 454.5,449.9 454.6,450.6 454.8,451.2 454.9,451.8 455.1,452.4 455.2,453.1 455.3,453.7 455.5,454.3 455.6,455 455.7,455.6 455.8,456.3 455.9,456.9 456,457.6 456,458.2 456.1,458.9" fill="none" stroke="#f9ad0d" stroke-width="0.8" stroke-linejoin="round"/>
<circle cx="407.4" cy="440.2" r="1.6" fill="#f0a020" stroke="#704000" stroke-width="0.5"/>
<circle cx="411.7" cy="433.1" r="1.6" fill="#f0a020" stroke="#704000" stroke-width="0.5"/>
<circle cx="416.7" cy="428" r="1.6" fill="#f0a020" stroke="#704000" stroke-width="0.5"/>
<circle cx="422.1" cy="424.7" r="1.6" fill="#f0a020" stroke="#704000" stroke-width="0.5"/>
<circle cx="427.6" cy="423.4" r="1.6" fill="#f0a020" stroke="#704000" stroke-width="0.5"/>
<circle cx="432.9" cy="423.7" r="1.6" fill="#f0a020" stroke="#704000" stroke-width="0.5"/>
<circle cx="437.8" cy="425.5" r="1.6" fill="#f0a020" stroke="#704000" stroke-width="0.5"/>
<circle cx="442.2" cy="428.5" r="1.6" fill="#f0a020" stroke="#704000" stroke-width="0.5"/>
<circle cx="446" cy="432.3" r="1.6" fill="#f0a020" stroke="#704000" stroke-width="0.5"/>
<circle cx="449.1" cy="436.7" r="1.6" fill="#f0a020" stroke="#704000" stroke-width="0.5"/>
<circle cx="451.5" cy="441.4" r="1.6" fill="#f0a020" stroke="#704000" stroke-width="0.5"/>
<circle cx="453.3" cy="446" r="1.6" fill="#f0a020" stroke="#704000" stroke-width="0.5"/>
<circle cx="454.6" cy="450.4" r="1.6" fill="#f0a020" stroke="#704000" stroke-width="0.5"/>
<circle cx="455.4" cy="454.2" r="1.6" fill="#f0a020" stroke="#704000" stroke-width="0.5"/>
<circle cx="455.9" cy="457.2" r="1.6" fill="#f0a020" stroke="#704000" stroke-width="0.5"/>
<circle cx="456.1" cy="458.9" r="1.6" fill="#f0a020" stroke="#704000" stroke-width="0.5"/>
<polyline points="408,439.2 408.3,438.5 408.6,437.8 408.9,437.2 409.2,436.5 409.5,435.8 409.9,435.2 410.2,434.5 410.5,433.9 410.9,433.3 411.2,432.7 411.6,432.1 411.9,431.5 412.3,430.9 412.7,430.3 413.1,429.7 413.4,429.2 413.8,428.6 414.2,428.1 414.6,427.6 415,427 415.5,426.5 415.9,426 416.3,425.6 416.7,425.1 417.2,424.6 417.6,424.2 418,423.7 418.5,423.3 419,422.9 419.4,422.5 419.9,422.1 420.3,421.7 420.8,421.3 421.3,421 421.8,420.6 422.2,420.3 422.7,419.9 423.2,419.6 423.7,419.3 424.2,419.1 424.7,418.8 425.2,418.5 425.7,418.3 426.2,418 426.7,417.8 427.2,417.6 427.7,417.4 428.2,417.2 428.7,417.1 429.3,416.9 429.8,416.8 430.3,416.6 430.8,416.5 431.3,416.4 431.9,416.3 432.4,416.2 432.9,416.2 433.4,416.1 434,416.1 434.5,416.1 435,416.1 435.5,416.1 436.1,416.1 436.6,416.1 437.1,416.2 437.7,416.2 438.2,416.3 438.7,416.4 439.2,416.5 439.7,416.6 440.3,416.7 440.8,416.8 441.3,417 441.8,417.2 442.3,417.3 442.8,417.5 443.4,417.7 443.9,418 444.4,418.2 444.9,418.4 445.4,418.7 445.9,418.9 446.4,419.2 446.9,419.5 447.3,419.8 447.8,420.1 448.3,420.5 448.8,420.8 449.3,421.2 449.7,421.5 450.2,421.9 450.7,422.3 451.1,422.7 451.6,423.1 452,423.6 452.5,424 452.9,424.4 453.4,424.9 453.8,425.4 454.2,425.9 454.6,426.3 455,426.8 455.5,427.4 455.9,427.9 456.3,428.4 456.7,429 457,429.5 457.4,430.1 457.8,430.7 458.2,431.2 458.5,431.8 458.9,432.4 459.3,433.1 459.6,433.7 459.9,434.3 460.3,434.9 460.6,435.6 460.9,436.2 461.2,436.9 461.5,437.6 461.8,438.3 462.1,438.9 462.4,439.6 462.7,440.3 462.9,441 463.2,441.7 463.5,442.5 463.7,443.2 463.9,443.9 464.2,444.7 464.4,445.4 464.6,446.2 464.8,446.9 465,447.7 465.2,448.4 465.4,449.2 465.6,450 465.7,450.8 465.9,451.6 466.1,452.3 466.2,453.1 466.3,453.9 466.5,454.7 466.6,455.5 466.7,456.3 466.8,457.1 466.9,458 467,458.8 467,459.6" fill="none" stroke="#ff1b1b" stroke-width="0.8" stroke-linejoin="round"/>
<polygon points="406.2,439.2 409.1,437.6 409.1,440.8" fill="#d01010" stroke="#800000" stroke-width="0.5"/>
<polygon points="410,431.7 412.9,430.1 412.9,433.3" fill="#d01010" stroke="#800000" stroke-width="0.5"/>
<polygon points="414.5,425.6 417.3,424 417.3,427.2" fill="#d01010" stroke="#800000" stroke-width="0.5"/>
<polygon points="419.4,421 422.3,419.4 422.3,422.6" fill="#d01010" stroke="#800000" stroke-width="0.5"/>
<polygon points="424.7,417.9 427.5,416.3 427.5,419.6" fill="#d01010" stroke="#800000" stroke-width="0.5"/>
<polygon points="430,416.3 432.8,414.7 432.8,418" fill="#d01010" stroke="#800000" stroke-width="0.5"/>
<polygon points="435.2,416.1 438,414.5 438,417.8" fill="#d01010" stroke="#800000" stroke-width="0.5"/>
<polygon points="440.1,417.2 443,415.6 443,418.8" fill="#d01010" stroke="#800000" stroke-width="0.5"/>
<polygon points="444.8,419.3 447.6,417.7 447.6,421" fill="#d01010" stroke="#800000" stroke-width="0.5"/>
<polygon points="448.9,422.4 451.8,420.7 451.8,424" fill="#d01010" stroke="#800000" stroke-width="0.5"/>
<polygon points="452.6,426.1 455.5,424.4 455.5,427.7" fill="#d01010" stroke="#800000" stroke-width="0.5"/>
<polygon points="455.8,430.3 458.6,428.6 458.6,431.9" fill="#d01010" stroke="#800000" stroke-width="0.5"/>
<polygon points="458.4,434.7 461.2,433.1 461.2,436.4" fill="#d01010" stroke="#800000" stroke-width="0.5"/>
<polygon points="460.5,439.3 463.4,437.7 463.4,440.9" fill="#d01010" stroke="#800000" stroke-width="0.5"/>
<polygon points="462.1,443.8 465,442.2 465,445.5" fill="#d01010" stroke="#800000" stroke-width="0.5"/>
<polygon points="463.4,448.1 466.2,446.5 466.2,449.8" fill="#d01010" stroke="#800000" stroke-width="0.5"/>
<polygon points="464.2,452.1 467.1,450.4 467.1,453.7" fill="#d01010" stroke="#800000" stroke-width="0.5"/>
<polygon points="464.8,455.5 467.7,453.8 467.7,457.1" fill="#d01010" stroke="#800000" stroke-width="0.5"/>
<polygon points="465.1,458.1 468,456.5 468,459.7" fill="#d01010" stroke="#800000" stroke-width="0.5"/>
<polygon points="465.3,459.6 468.1,458 468.1,461.2" fill="#d01010" stroke="#800000" stroke-width="0.5"/>
</g>
<rect x="388.2" y="325.6" width="154.6" height="137.7" fill="none" stroke="#111111" stroke-width="1.4"/>
<line x1="388.2" y1="463.3" x2="388.2" y2="461.1" stroke="#111111" stroke-width="0.9"/>
<text x="388.2" y="472.1" font-size="6.6" text-anchor="middle" font-weight="bold" fill="#111111">0</text>
<line x1="432.2" y1="463.3" x2="432.2" y2="461.1" stroke="#111111" stroke-width="0.9"/>
<text x="432.2" y="472.1" font-size="6.6" text-anchor="middle" font-weight="bold" fill="#111111">50</text>
<line x1="476.3" y1="463.3" x2="476.3" y2="461.1" stroke="#111111" stroke-width="0.9"/>
<text x="476.3" y="472.1" font-size="6.6" text-anchor="middle" font-weight="bold" fill="#111111">100</text>
<line x1="520.3" y1="463.3" x2="520.3" y2="461.1" stroke="#111111" stroke-width="0.9"/>
<text x="520.3" y="472.1" font-size="6.6" text-anchor="middle" font-weight="bold" fill="#111111">150</text>
<line x1="410.2" y1="463.3" x2="410.2" y2="462" stroke="#111111" stroke-width="0.8"/>
<line x1="454.3" y1="463.3" x2="454.3" y2="462" stroke="#111111" stroke-width="0.8"/>
<line x1="498.3" y1="463.3" x2="498.3" y2="462" stroke="#111111" stroke-width="0.8"/>
<line x1="388.2" y1="463.3" x2="390.4" y2="463.3" stroke="#111111" stroke-width="0.9"/>
<text x="385.7" y="465.8" font-size="6.6" text-anchor="end" font-weight="bold" fill="#111111">0</text>
<line x1="388.2" y1="435.8" x2="390.4" y2="435.8" stroke="#111111" stroke-width="0.9"/>
<text x="385.7" y="438.3" font-size="6.6" text-anchor="end" font-weight="bold" fill="#111111">20</text>
<line x1="388.2" y1="408.2" x2="390.4" y2="408.2" stroke="#111111" stroke-width="0.9"/>
<text x="385.7" y="410.7" font-size="6.6" text-anchor="end" font-weight="bold" fill="#111111">40</text>
<line x1="388.2" y1="380.7" x2="390.4" y2="380.7" stroke="#111111" stroke-width="0.9"/>
<text x="385.7" y="383.2" font-size="6.6" text-anchor="end" font-weight="bold" fill="#111111">60</text>
<line x1="388.2" y1="353.1" x2="390.4" y2="353.1" stroke="#111111" stroke-width="0.9"/>
<text x="385.7" y="355.6" font-size="6.6" text-anchor="end" font-weight="bold" fill="#111111">80</text>
<line x1="388.2" y1="325.6" x2="390.4" y2="325.6" stroke="#111111" stroke-width="0.9"/>
<text x="385.7" y="328.1" font-size="6.6" text-anchor="end" font-weight="bold" fill="#111111">100</text>
<line x1="388.2" y1="449.5" x2="389.5" y2="449.5" stroke="#111111" stroke-width="0.8"/>
<line x1="388.2" y1="422" x2="389.5" y2="422" stroke="#111111" stroke-width="0.8"/>
<line x1="388.2" y1="394.5" x2="389.5" y2="394.5" stroke="#111111" stroke-width="0.8"/>
<line x1="388.2" y1="366.9" x2="389.5" y2="366.9" stroke="#111111" stroke-width="0.8"/>
<line x1="388.2" y1="339.4" x2="389.5" y2="339.4" stroke="#111111" stroke-width="0.8"/>
<text x="465.5" y="478" font-size="8" text-anchor="middle" font-weight="bold" fill="#111111">Z' <tspan font-weight="normal">(Ω)</tspan></text>
<text x="375.3" y="393.6" font-size="8" text-anchor="middle" font-weight="bold" fill="#111111" transform="rotate(-90 375.3 393.6)">−Z'' <tspan font-weight="normal">(Ω)</tspan></text>
<text x="397.3" y="337.5" font-size="12.1" text-anchor="middle" font-weight="bold" fill="#111111">(i)</text>
<text x="413" y="335.6" font-size="7.1" text-anchor="start" font-weight="bold" fill="#111111">AM1.5 G</text>
<g transform="translate(180.8 4.6)" stroke="#1a1a1a" stroke-width="0.85" fill="none"><line x1="213.1" y1="354.3" x2="216.2" y2="354.3"/><polyline points="216.2,354.3 217,352.4 218.5,356.2 220.1,352.4 221.6,356.2 223.1,352.4 224.7,356.2 226.2,352.4 227,354.3"/><polyline points="227,354.3 230.1,354.3"/><polyline points="233.2,349.7 230.1,349.7 230.1,362.8 240.2,362.8"/><polyline points="233.2,349.7 234.1,347.8 236,351.6 237.9,347.8 239.8,351.6 241.6,347.8 243.5,351.6 245.4,347.8 246.3,349.7"/><polyline points="246.3,349.7 248.6,349.7 248.6,362.8 241.6,362.8"/><line x1="240.2" y1="360.6" x2="240.2" y2="365"/><line x1="241.6" y1="360.6" x2="241.6" y2="365"/><line x1="248.6" y1="355.1" x2="254.8" y2="355.1"/><polyline points="257.9,349.7 254.8,349.7 254.8,362.8 264.8,362.8"/><polyline points="257.9,349.7 258.8,347.8 260.6,351.6 262.3,347.8 264.1,351.6 265.9,347.8 267.6,351.6 269.4,347.8 270.3,349.7"/><line x1="270.3" y1="349.7" x2="272.6" y2="349.7"/><rect x="272.6" y="347.0" width="9.3" height="5.6"/><polyline points="281.9,349.7 285,349.7 285,362.8 271.8,362.8"/><polyline points="264.8,360.8 267.2,362.8 264.8,364.8"/><polyline points="267.6,360.8 270.0,362.8 267.6,364.8"/><line x1="285" y1="355.1" x2="288" y2="355.1"/></g>
<text x="401.6" y="354.6" font-size="5.0" text-anchor="middle" font-weight="bold" fill="#111111">R<tspan font-size="3.8">S</tspan></text>
<text x="420.9" y="349.6" font-size="5.0" text-anchor="middle" font-weight="bold" fill="#111111">R<tspan font-size="3.8">SC</tspan></text>
<text x="421.8" y="374.2" font-size="5.0" text-anchor="middle" font-weight="bold" fill="#111111">C<tspan font-size="3.8">SC</tspan></text>
<text x="444.6" y="350" font-size="5.0" text-anchor="middle" font-weight="bold" fill="#111111">R<tspan font-size="3.8">CT</tspan></text>
<text x="458.1" y="356.4" font-size="5.4" text-anchor="middle" font-weight="bold" fill="#111111">Q</text>
<text x="464.6" y="352.6" font-size="3.8" text-anchor="middle" font-weight="normal" fill="#111111">n</text>
<text x="448.4" y="374.8" font-size="5.0" text-anchor="middle" font-weight="bold" fill="#222266">C<tspan font-size="3.8">H</tspan></text>
<line x1="485.5" y1="331.3" x2="500.9" y2="331.3" stroke="#33dd33" stroke-width="1.0"/>
<rect x="491.8" y="329.9" width="2.7" height="2.7" fill="#2ec02e" stroke="#0a600a" stroke-width="0.5"/>
<text x="502.1" y="333.5" font-size="6.3" text-anchor="start" font-weight="bold" fill="#111111">Melem</text>
<line x1="485.5" y1="339.3" x2="500.9" y2="339.3" stroke="#555555" stroke-width="1.0"/>
<circle cx="493.2" cy="339.3" r="1.6" fill="#ffffff" stroke="#333333" stroke-width="0.5"/>
<text x="502.1" y="341.5" font-size="6.3" text-anchor="start" font-weight="bold" fill="#111111">CN</text>
<line x1="485.5" y1="347.3" x2="500.9" y2="347.3" stroke="#7a22c8" stroke-width="1.0"/>
<polygon points="493.2,345.5 494.9,348.4 491.5,348.4" fill="#5a1a9a" stroke="#2a0a5a" stroke-width="0.5"/>
<text x="502.1" y="349.5" font-size="6.3" text-anchor="start" font-weight="bold" fill="#111111">CN:PDI</text>
<line x1="485.5" y1="355.3" x2="500.9" y2="355.3" stroke="#1a86d8" stroke-width="1.0"/>
<polygon points="493.2,357.1 494.9,354.2 491.5,354.2" fill="#1a5aa0" stroke="#0a2a60" stroke-width="0.5"/>
<text x="502.1" y="357.5" font-size="6.3" text-anchor="start" font-weight="bold" fill="#111111">Exf. CN:PDI</text>
<line x1="485.5" y1="363" x2="500.9" y2="363" stroke="#f9ad0d" stroke-width="1.0"/>
<circle cx="493.2" cy="363" r="1.6" fill="#f0a020" stroke="#704000" stroke-width="0.5"/>
<text x="502.1" y="365.2" font-size="6.3" text-anchor="start" font-weight="bold" fill="#111111">CdS</text>
<line x1="485.5" y1="370.6" x2="500.9" y2="370.6" stroke="#ff1b1b" stroke-width="1.0"/>
<polygon points="491.4,370.6 494.3,368.9 494.3,372.3" fill="#d01010" stroke="#800000" stroke-width="0.5"/>
<text x="502.1" y="372.8" font-size="6.3" text-anchor="start" font-weight="bold" fill="#111111">CdS/CN:PDI</text>
<clipPath id="ca"><rect x="29.3" y="5.2" width="154.2" height="138.4"/></clipPath>
<g clip-path="url(#ca)">
<polyline points="29.3,135.4 29.4,135.5 29.5,135.6 29.6,135.7 29.7,135.8 29.8,135.9 30,135.9 30.1,136 30.2,136.1 30.3,136.1 30.4,136.1 30.5,136.2 30.6,136.2 30.7,136.3 30.8,136.3 30.9,136.3 31,136.3 31.1,136.4 31.3,136.4 31.4,136.4 31.5,136.4 31.6,136.4 31.7,136.5 31.8,136.5 31.9,136.5 32,136.5 32.1,136.5 32.2,136.5 32.3,136.5 32.4,136.6 32.6,136.6 32.7,136.6 32.8,136.6 32.9,136.6 33,136.6 33.1,136.6 33.2,136.6 33.3,136.6 33.4,136.7 33.5,136.7 33.6,136.7 33.7,136.7 33.9,136.7 34,136.7 34.1,136.7 34.2,136.7 34.3,136.7 34.4,136.7 34.5,136.8 34.6,136.8 34.7,136.8 34.8,136.8 34.9,136.8 35,136.8 35.2,136.8 35.3,136.8 35.4,136.8 35.5,136.8 35.6,136.9 35.7,136.9 35.8,136.9 35.9,136.9 36,136.9 36.1,136.9 36.2,136.9 36.3,136.9 36.5,136.9 36.6,136.9 36.7,137 36.8,137 36.9,137 37,137 37.1,137 37.2,137 37.3,137 37.4,137 37.5,137 37.6,137 37.8,137 37.9,137.1 37.9,137.1 37.9,142.3 38.2,142.5 38.5,142.7 38.8,142.8 39,142.9 39.3,142.9 39.6,143 39.9,143 40.2,143 40.5,143 40.8,143.1 41.1,143.1 41.4,143.1 41.7,143.1 42,143.1 42.3,143.1 42.6,143.1 42.9,143.1 43.2,143.1 43.5,143.1 43.8,143.1 44.1,143.1 44.4,143.1 44.7,143.1 45,143.1 45.3,143.1 45.5,143.1 45.8,143.1 46.1,143.1 46.4,143.1 46.4,143.1 46.4,136.6 46.5,136.6 46.7,136.7 46.8,136.7 46.9,136.8 47,136.8 47.1,136.8 47.2,136.8 47.3,136.8 47.4,136.9 47.5,136.9 47.6,136.9 47.7,136.9 47.8,136.9 48,136.9 48.1,136.9 48.2,136.9 48.3,136.9 48.4,136.9 48.5,136.9 48.6,136.9 48.7,136.9 48.8,136.9 48.9,137 49,137 49.1,137 49.3,137 49.4,137 49.5,137 49.6,137 49.7,137 49.8,137 49.9,137 50,137 50.1,137 50.2,137 50.3,137 50.4,137 50.6,137 50.7,137.1 50.8,137.1 50.9,137.1 51,137.1 51.1,137.1 51.2,137.1 51.3,137.1 51.4,137.1 51.5,137.1 51.6,137.1 51.7,137.1 51.9,137.1 52,137.1 52.1,137.1 52.2,137.1 52.3,137.1 52.4,137.2 52.5,137.2 52.6,137.2 52.7,137.2 52.8,137.2 52.9,137.2 53,137.2 53.2,137.2 53.3,137.2 53.4,137.2 53.5,137.2 53.6,137.2 53.7,137.2 53.8,137.2 53.9,137.2 54,137.3 54.1,137.3 54.2,137.3 54.3,137.3 54.5,137.3 54.6,137.3 54.7,137.3 54.8,137.3 54.9,137.3 55,137.3 55,137.3 55,142.3 55.3,142.5 55.6,142.7 55.9,142.8 56.2,142.9 56.5,142.9 56.8,143 57.1,143 57.4,143 57.7,143 58,143.1 58.2,143.1 58.5,143.1 58.8,143.1 59.1,143.1 59.4,143.1 59.7,143.1 60,143.1 60.3,143.1 60.6,143.1 60.9,143.1 61.2,143.1 61.5,143.1 61.8,143.1 62.1,143.1 62.4,143.1 62.7,143.1 63,143.1 63.3,143.1 63.6,143.1 63.6,143.1 63.6,136.7 63.7,136.8 63.8,136.8 63.9,136.9 64,136.9 64.1,136.9 64.2,137 64.3,137 64.4,137 64.5,137 64.7,137 64.8,137 64.9,137 65,137 65.1,137 65.2,137 65.3,137 65.4,137 65.5,137.1 65.6,137.1 65.7,137.1 65.8,137.1 66,137.1 66.1,137.1 66.2,137.1 66.3,137.1 66.4,137.1 66.5,137.1 66.6,137.1 66.7,137.1 66.8,137.1 66.9,137.1 67,137.1 67.1,137.1 67.3,137.1 67.4,137.2 67.5,137.2 67.6,137.2 67.7,137.2 67.8,137.2 67.9,137.2 68,137.2 68.1,137.2 68.2,137.2 68.3,137.2 68.4,137.2 68.6,137.2 68.7,137.2 68.8,137.2 68.9,137.2 69,137.2 69.1,137.3 69.2,137.3 69.3,137.3 69.4,137.3 69.5,137.3 69.6,137.3 69.7,137.3 69.9,137.3 70,137.3 70.1,137.3 70.2,137.3 70.3,137.3 70.4,137.3 70.5,137.3 70.6,137.3 70.7,137.3 70.8,137.3 70.9,137.4 71,137.4 71.2,137.4 71.3,137.4 71.4,137.4 71.5,137.4 71.6,137.4 71.7,137.4 71.8,137.4 71.9,137.4 72,137.4 72.1,137.4 72.1,137.4 72.1,142.3 72.4,142.5 72.7,142.7 73,142.8 73.3,142.9 73.6,142.9 73.9,143 74.2,143 74.5,143 74.8,143 75.1,143.1 75.4,143.1 75.7,143.1 76,143.1 76.3,143.1 76.6,143.1 76.9,143.1 77.2,143.1 77.5,143.1 77.7,143.1 78,143.1 78.3,143.1 78.6,143.1 78.9,143.1 79.2,143.1 79.5,143.1 79.8,143.1 80.1,143.1 80.4,143.1 80.7,143.1 80.7,143.1 80.7,136.9 80.8,136.9 80.9,137 81,137 81.1,137 81.2,137.1 81.4,137.1 81.5,137.1 81.6,137.1 81.7,137.1 81.8,137.1 81.9,137.1 82,137.1 82.1,137.1 82.2,137.1 82.3,137.2 82.4,137.2 82.5,137.2 82.7,137.2 82.8,137.2 82.9,137.2 83,137.2 83.1,137.2 83.2,137.2 83.3,137.2 83.4,137.2 83.5,137.2 83.6,137.2 83.7,137.2 83.8,137.2 84,137.2 84.1,137.2 84.2,137.3 84.3,137.3 84.4,137.3 84.5,137.3 84.6,137.3 84.7,137.3 84.8,137.3 84.9,137.3 85,137.3 85.1,137.3 85.3,137.3 85.4,137.3 85.5,137.3 85.6,137.3 85.7,137.3 85.8,137.3 85.9,137.3 86,137.3 86.1,137.4 86.2,137.4 86.3,137.4 86.4,137.4 86.6,137.4 86.7,137.4 86.8,137.4 86.9,137.4 87,137.4 87.1,137.4 87.2,137.4 87.3,137.4 87.4,137.4 87.5,137.4 87.6,137.4 87.7,137.4 87.9,137.4 88,137.5 88.1,137.5 88.2,137.5 88.3,137.5 88.4,137.5 88.5,137.5 88.6,137.5 88.7,137.5 88.8,137.5 88.9,137.5 89,137.5 89.2,137.5 89.3,137.5 89.3,137.5 89.3,142.3 89.6,142.5 89.9,142.7 90.2,142.8 90.4,142.9 90.7,142.9 91,143 91.3,143 91.6,143 91.9,143 92.2,143.1 92.5,143.1 92.8,143.1 93.1,143.1 93.4,143.1 93.7,143.1 94,143.1 94.3,143.1 94.6,143.1 94.9,143.1 95.2,143.1 95.5,143.1 95.8,143.1 96.1,143.1 96.4,143.1 96.7,143.1 96.9,143.1 97.2,143.1 97.5,143.1 97.8,143.1 97.8,143.1 97.8,137 97.9,137.1 98.1,137.1 98.2,137.1 98.3,137.2 98.4,137.2 98.5,137.2 98.6,137.2 98.7,137.2 98.8,137.2 98.9,137.2 99,137.2 99.1,137.2 99.2,137.2 99.4,137.3 99.5,137.3 99.6,137.3 99.7,137.3 99.8,137.3 99.9,137.3 100,137.3 100.1,137.3 100.2,137.3 100.3,137.3 100.4,137.3 100.5,137.3 100.7,137.3 100.8,137.3 100.9,137.3 101,137.3 101.1,137.3 101.2,137.3 101.3,137.4 101.4,137.4 101.5,137.4 101.6,137.4 101.7,137.4 101.8,137.4 102,137.4 102.1,137.4 102.2,137.4 102.3,137.4 102.4,137.4 102.5,137.4 102.6,137.4 102.7,137.4 102.8,137.4 102.9,137.4 103,137.4 103.1,137.4 103.3,137.4 103.4,137.5 103.5,137.5 103.6,137.5 103.7,137.5 103.8,137.5 103.9,137.5 104,137.5 104.1,137.5 104.2,137.5 104.3,137.5 104.4,137.5 104.6,137.5 104.7,137.5 104.8,137.5 104.9,137.5 105,137.5 105.1,137.5 105.2,137.5 105.3,137.6 105.4,137.6 105.5,137.6 105.6,137.6 105.7,137.6 105.9,137.6 106,137.6 106.1,137.6 106.2,137.6 106.3,137.6 106.4,137.6 106.4,137.6 106.4,142.3 106.7,142.5 107,142.7 107.3,142.8 107.6,142.9 107.9,142.9 108.2,143 108.5,143 108.8,143 109.1,143 109.4,143.1 109.6,143.1 109.9,143.1 110.2,143.1 110.5,143.1 110.8,143.1 111.1,143.1 111.4,143.1 111.7,143.1 112,143.1 112.3,143.1 112.6,143.1 112.9,143.1 113.2,143.1 113.5,143.1 113.8,143.1 114.1,143.1 114.4,143.1 114.7,143.1 115,143.1 115,143.1 115,137.1 115.1,137.2 115.2,137.2 115.3,137.2 115.4,137.3 115.5,137.3 115.6,137.3 115.7,137.3 115.8,137.3 115.9,137.3 116.1,137.3 116.2,137.3 116.3,137.3 116.4,137.3 116.5,137.3 116.6,137.3 116.7,137.4 116.8,137.4 116.9,137.4 117,137.4 117.1,137.4 117.2,137.4 117.4,137.4 117.5,137.4 117.6,137.4 117.7,137.4 117.8,137.4 117.9,137.4 118,137.4 118.1,137.4 118.2,137.4 118.3,137.4 118.4,137.4 118.5,137.4 118.7,137.4 118.8,137.5 118.9,137.5 119,137.5 119.1,137.5 119.2,137.5 119.3,137.5 119.4,137.5 119.5,137.5 119.6,137.5 119.7,137.5 119.8,137.5 120,137.5 120.1,137.5 120.2,137.5 120.3,137.5 120.4,137.5 120.5,137.5 120.6,137.5 120.7,137.5 120.8,137.6 120.9,137.6 121,137.6 121.1,137.6 121.3,137.6 121.4,137.6 121.5,137.6 121.6,137.6 121.7,137.6 121.8,137.6 121.9,137.6 122,137.6 122.1,137.6 122.2,137.6 122.3,137.6 122.4,137.6 122.6,137.6 122.7,137.6 122.8,137.6 122.9,137.7 123,137.7 123.1,137.7 123.2,137.7 123.3,137.7 123.4,137.7 123.5,137.7 123.5,137.7 123.5,142.3 123.8,142.5 124.1,142.7 124.4,142.8 124.7,142.9 125,142.9 125.3,143 125.6,143 125.9,143 126.2,143 126.5,143.1 126.8,143.1 127.1,143.1 127.4,143.1 127.7,143.1 128,143.1 128.3,143.1 128.6,143.1 128.9,143.1 129.1,143.1 129.4,143.1 129.7,143.1 130,143.1 130.3,143.1 130.6,143.1 130.9,143.1 131.2,143.1 131.5,143.1 131.8,143.1 132.1,143.1 132.1,143.1 132.1,137.2 132.2,137.3 132.3,137.3 132.4,137.3 132.5,137.3 132.6,137.4 132.8,137.4 132.9,137.4 133,137.4 133.1,137.4 133.2,137.4 133.3,137.4 133.4,137.4 133.5,137.4 133.6,137.4 133.7,137.4 133.8,137.4 133.9,137.4 134.1,137.4 134.2,137.4 134.3,137.4 134.4,137.5 134.5,137.5 134.6,137.5 134.7,137.5 134.8,137.5 134.9,137.5 135,137.5 135.1,137.5 135.2,137.5 135.4,137.5 135.5,137.5 135.6,137.5 135.7,137.5 135.8,137.5 135.9,137.5 136,137.5 136.1,137.5 136.2,137.5 136.3,137.5 136.4,137.5 136.5,137.6 136.7,137.6 136.8,137.6 136.9,137.6 137,137.6 137.1,137.6 137.2,137.6 137.3,137.6 137.4,137.6 137.5,137.6 137.6,137.6 137.7,137.6 137.8,137.6 138,137.6 138.1,137.6 138.2,137.6 138.3,137.6 138.4,137.6 138.5,137.6 138.6,137.6 138.7,137.7 138.8,137.7 138.9,137.7 139,137.7 139.1,137.7 139.3,137.7 139.4,137.7 139.5,137.7 139.6,137.7 139.7,137.7 139.8,137.7 139.9,137.7 140,137.7 140.1,137.7 140.2,137.7 140.3,137.7 140.4,137.7 140.6,137.7 140.7,137.7 140.7,137.7 140.7,142.3 141,142.5 141.3,142.7 141.6,142.8 141.8,142.9 142.1,142.9 142.4,143 142.7,143 143,143 143.3,143 143.6,143.1 143.9,143.1 144.2,143.1 144.5,143.1 144.8,143.1 145.1,143.1 145.4,143.1 145.7,143.1 146,143.1 146.3,143.1 146.6,143.1 146.9,143.1 147.2,143.1 147.5,143.1 147.8,143.1 148.1,143.1 148.3,143.1 148.6,143.1 148.9,143.1 149.2,143.1 149.2,143.1 149.2,137.3 149.3,137.3 149.5,137.4 149.6,137.4 149.7,137.4 149.8,137.4 149.9,137.4 150,137.4 150.1,137.4 150.2,137.4 150.3,137.5 150.4,137.5 150.5,137.5 150.6,137.5 150.8,137.5 150.9,137.5 151,137.5 151.1,137.5 151.2,137.5 151.3,137.5 151.4,137.5 151.5,137.5 151.6,137.5 151.7,137.5 151.8,137.5 151.9,137.5 152.1,137.5 152.2,137.5 152.3,137.5 152.4,137.5 152.5,137.6 152.6,137.6 152.7,137.6 152.8,137.6 152.9,137.6 153,137.6 153.1,137.6 153.2,137.6 153.4,137.6 153.5,137.6 153.6,137.6 153.7,137.6 153.8,137.6 153.9,137.6 154,137.6 154.1,137.6 154.2,137.6 154.3,137.6 154.4,137.6 154.5,137.6 154.7,137.6 154.8,137.7 154.9,137.7 155,137.7 155.1,137.7 155.2,137.7 155.3,137.7 155.4,137.7 155.5,137.7 155.6,137.7 155.7,137.7 155.8,137.7 156,137.7 156.1,137.7 156.2,137.7 156.3,137.7 156.4,137.7 156.5,137.7 156.6,137.7 156.7,137.7 156.8,137.7 156.9,137.8 157,137.8 157.1,137.8 157.3,137.8 157.4,137.8 157.5,137.8 157.6,137.8 157.7,137.8 157.8,137.8 157.8,137.8 157.8,142.3 158.1,142.5 158.4,142.7 158.7,142.8 159,142.9 159.3,142.9 159.6,143 159.9,143 160.2,143 160.5,143 160.8,143.1 161,143.1 161.3,143.1 161.6,143.1 161.9,143.1 162.2,143.1 162.5,143.1 162.8,143.1 163.1,143.1 163.4,143.1 163.7,143.1 164,143.1 164.3,143.1 164.6,143.1 164.9,143.1 165.2,143.1 165.5,143.1 165.8,143.1 166.1,143.1 166.4,143.1 166.4,143.1 166.4,137.3 166.5,137.4 166.6,137.4 166.7,137.4 166.8,137.4 166.9,137.4 167,137.4 167.1,137.5 167.2,137.5 167.3,137.5 167.5,137.5 167.6,137.5 167.7,137.5 167.8,137.5 167.9,137.5 168,137.5 168.1,137.5 168.2,137.5 168.3,137.5 168.4,137.5 168.5,137.5 168.6,137.5 168.8,137.5 168.9,137.5 169,137.5 169.1,137.6 169.2,137.6 169.3,137.6 169.4,137.6 169.5,137.6 169.6,137.6 169.7,137.6 169.8,137.6 169.9,137.6 170.1,137.6 170.2,137.6 170.3,137.6 170.4,137.6 170.5,137.6 170.6,137.6 170.7,137.6 170.8,137.6 170.9,137.6 171,137.6 171.1,137.6 171.2,137.6 171.4,137.7 171.5,137.7 171.6,137.7 171.7,137.7 171.8,137.7 171.9,137.7 172,137.7 172.1,137.7 172.2,137.7 172.3,137.7 172.4,137.7 172.5,137.7 172.7,137.7 172.8,137.7 172.9,137.7 173,137.7 173.1,137.7 173.2,137.7 173.3,137.7 173.4,137.7 173.5,137.8 173.6,137.8 173.7,137.8 173.8,137.8 174,137.8 174.1,137.8 174.2,137.8 174.3,137.8 174.4,137.8 174.5,137.8 174.6,137.8 174.7,137.8 174.8,137.8 174.9,137.8 174.9,137.8 174.9,142.3 175.2,142.5 175.5,142.7 175.8,142.8 176.1,142.9 176.4,142.9 176.7,143 177,143 177.3,143 177.6,143 177.9,143.1 178.2,143.1 178.5,143.1 178.8,143.1 179.1,143.1 179.4,143.1 179.7,143.1 180,143.1 180.3,143.1 180.5,143.1 180.8,143.1 181.1,143.1 181.4,143.1 181.7,143.1 182,143.1 182.3,143.1 182.6,143.1 182.9,143.1 183.2,143.1 183.5,143.1" fill="none" stroke="#555555" stroke-width="0.8" stroke-linejoin="round" stroke-dasharray="1.3,0.7"/>
<polyline points="29.3,131.6 29.4,131.8 29.5,131.9 29.6,132 29.7,132 29.8,132.1 30,132.2 30.1,132.2 30.2,132.3 30.3,132.3 30.4,132.4 30.5,132.4 30.6,132.4 30.7,132.5 30.8,132.5 30.9,132.5 31,132.6 31.1,132.6 31.3,132.6 31.4,132.6 31.5,132.6 31.6,132.7 31.7,132.7 31.8,132.7 31.9,132.7 32,132.7 32.1,132.7 32.2,132.8 32.3,132.8 32.4,132.8 32.6,132.8 32.7,132.8 32.8,132.8 32.9,132.8 33,132.8 33.1,132.9 33.2,132.9 33.3,132.9 33.4,132.9 33.5,132.9 33.6,132.9 33.7,132.9 33.9,132.9 34,132.9 34.1,132.9 34.2,133 34.3,133 34.4,133 34.5,133 34.6,133 34.7,133 34.8,133 34.9,133 35,133 35.2,133 35.3,133.1 35.4,133.1 35.5,133.1 35.6,133.1 35.7,133.1 35.8,133.1 35.9,133.1 36,133.1 36.1,133.1 36.2,133.1 36.3,133.1 36.5,133.2 36.6,133.2 36.7,133.2 36.8,133.2 36.9,133.2 37,133.2 37.1,133.2 37.2,133.2 37.3,133.2 37.4,133.2 37.5,133.3 37.6,133.3 37.8,133.3 37.9,133.3 37.9,133.3 37.9,142.1 38.2,142.3 38.5,142.5 38.8,142.6 39,142.7 39.3,142.8 39.6,142.8 39.9,142.9 40.2,142.9 40.5,142.9 40.8,142.9 41.1,142.9 41.4,142.9 41.7,142.9 42,143 42.3,143 42.6,143 42.9,143 43.2,143 43.5,143 43.8,143 44.1,143 44.4,143 44.7,143 45,143 45.3,143 45.5,143 45.8,143 46.1,143 46.4,143 46.4,143 46.4,132.9 46.5,133 46.7,133.1 46.8,133.1 46.9,133.1 47,133.2 47.1,133.2 47.2,133.2 47.3,133.2 47.4,133.2 47.5,133.2 47.6,133.2 47.7,133.2 47.8,133.3 48,133.3 48.1,133.3 48.2,133.3 48.3,133.3 48.4,133.3 48.5,133.3 48.6,133.3 48.7,133.3 48.8,133.3 48.9,133.3 49,133.3 49.1,133.4 49.3,133.4 49.4,133.4 49.5,133.4 49.6,133.4 49.7,133.4 49.8,133.4 49.9,133.4 50,133.4 50.1,133.4 50.2,133.4 50.3,133.4 50.4,133.5 50.6,133.5 50.7,133.5 50.8,133.5 50.9,133.5 51,133.5 51.1,133.5 51.2,133.5 51.3,133.5 51.4,133.5 51.5,133.5 51.6,133.5 51.7,133.5 51.9,133.6 52,133.6 52.1,133.6 52.2,133.6 52.3,133.6 52.4,133.6 52.5,133.6 52.6,133.6 52.7,133.6 52.8,133.6 52.9,133.6 53,133.6 53.2,133.7 53.3,133.7 53.4,133.7 53.5,133.7 53.6,133.7 53.7,133.7 53.8,133.7 53.9,133.7 54,133.7 54.1,133.7 54.2,133.7 54.3,133.7 54.5,133.7 54.6,133.8 54.7,133.8 54.8,133.8 54.9,133.8 55,133.8 55,133.8 55,142.1 55.3,142.3 55.6,142.5 55.9,142.6 56.2,142.7 56.5,142.8 56.8,142.8 57.1,142.9 57.4,142.9 57.7,142.9 58,142.9 58.2,142.9 58.5,142.9 58.8,142.9 59.1,143 59.4,143 59.7,143 60,143 60.3,143 60.6,143 60.9,143 61.2,143 61.5,143 61.8,143 62.1,143 62.4,143 62.7,143 63,143 63.3,143 63.6,143 63.6,143 63.6,133.1 63.7,133.2 63.8,133.2 63.9,133.3 64,133.3 64.1,133.3 64.2,133.4 64.3,133.4 64.4,133.4 64.5,133.4 64.7,133.4 64.8,133.4 64.9,133.4 65,133.4 65.1,133.5 65.2,133.5 65.3,133.5 65.4,133.5 65.5,133.5 65.6,133.5 65.7,133.5 65.8,133.5 66,133.5 66.1,133.5 66.2,133.5 66.3,133.5 66.4,133.5 66.5,133.6 66.6,133.6 66.7,133.6 66.8,133.6 66.9,133.6 67,133.6 67.1,133.6 67.3,133.6 67.4,133.6 67.5,133.6 67.6,133.6 67.7,133.6 67.8,133.6 67.9,133.7 68,133.7 68.1,133.7 68.2,133.7 68.3,133.7 68.4,133.7 68.6,133.7 68.7,133.7 68.8,133.7 68.9,133.7 69,133.7 69.1,133.7 69.2,133.7 69.3,133.8 69.4,133.8 69.5,133.8 69.6,133.8 69.7,133.8 69.9,133.8 70,133.8 70.1,133.8 70.2,133.8 70.3,133.8 70.4,133.8 70.5,133.8 70.6,133.8 70.7,133.9 70.8,133.9 70.9,133.9 71,133.9 71.2,133.9 71.3,133.9 71.4,133.9 71.5,133.9 71.6,133.9 71.7,133.9 71.8,133.9 71.9,133.9 72,133.9 72.1,134 72.1,134 72.1,142.1 72.4,142.3 72.7,142.5 73,142.6 73.3,142.7 73.6,142.8 73.9,142.8 74.2,142.9 74.5,142.9 74.8,142.9 75.1,142.9 75.4,142.9 75.7,142.9 76,142.9 76.3,143 76.6,143 76.9,143 77.2,143 77.5,143 77.7,143 78,143 78.3,143 78.6,143 78.9,143 79.2,143 79.5,143 79.8,143 80.1,143 80.4,143 80.7,143 80.7,143 80.7,133.3 80.8,133.4 80.9,133.4 81,133.5 81.1,133.5 81.2,133.5 81.4,133.5 81.5,133.6 81.6,133.6 81.7,133.6 81.8,133.6 81.9,133.6 82,133.6 82.1,133.6 82.2,133.6 82.3,133.6 82.4,133.6 82.5,133.6 82.7,133.7 82.8,133.7 82.9,133.7 83,133.7 83.1,133.7 83.2,133.7 83.3,133.7 83.4,133.7 83.5,133.7 83.6,133.7 83.7,133.7 83.8,133.7 84,133.7 84.1,133.8 84.2,133.8 84.3,133.8 84.4,133.8 84.5,133.8 84.6,133.8 84.7,133.8 84.8,133.8 84.9,133.8 85,133.8 85.1,133.8 85.3,133.8 85.4,133.8 85.5,133.8 85.6,133.9 85.7,133.9 85.8,133.9 85.9,133.9 86,133.9 86.1,133.9 86.2,133.9 86.3,133.9 86.4,133.9 86.6,133.9 86.7,133.9 86.8,133.9 86.9,133.9 87,133.9 87.1,134 87.2,134 87.3,134 87.4,134 87.5,134 87.6,134 87.7,134 87.9,134 88,134 88.1,134 88.2,134 88.3,134 88.4,134 88.5,134 88.6,134.1 88.7,134.1 88.8,134.1 88.9,134.1 89,134.1 89.2,134.1 89.3,134.1 89.3,134.1 89.3,142.1 89.6,142.3 89.9,142.5 90.2,142.6 90.4,142.7 90.7,142.8 91,142.8 91.3,142.9 91.6,142.9 91.9,142.9 92.2,142.9 92.5,142.9 92.8,142.9 93.1,142.9 93.4,143 93.7,143 94,143 94.3,143 94.6,143 94.9,143 95.2,143 95.5,143 95.8,143 96.1,143 96.4,143 96.7,143 96.9,143 97.2,143 97.5,143 97.8,143 97.8,143 97.8,133.4 97.9,133.5 98.1,133.6 98.2,133.6 98.3,133.6 98.4,133.7 98.5,133.7 98.6,133.7 98.7,133.7 98.8,133.7 98.9,133.7 99,133.8 99.1,133.8 99.2,133.8 99.4,133.8 99.5,133.8 99.6,133.8 99.7,133.8 99.8,133.8 99.9,133.8 100,133.8 100.1,133.8 100.2,133.8 100.3,133.8 100.4,133.8 100.5,133.9 100.7,133.9 100.8,133.9 100.9,133.9 101,133.9 101.1,133.9 101.2,133.9 101.3,133.9 101.4,133.9 101.5,133.9 101.6,133.9 101.7,133.9 101.8,133.9 102,133.9 102.1,134 102.2,134 102.3,134 102.4,134 102.5,134 102.6,134 102.7,134 102.8,134 102.9,134 103,134 103.1,134 103.3,134 103.4,134 103.5,134 103.6,134.1 103.7,134.1 103.8,134.1 103.9,134.1 104,134.1 104.1,134.1 104.2,134.1 104.3,134.1 104.4,134.1 104.6,134.1 104.7,134.1 104.8,134.1 104.9,134.1 105,134.1 105.1,134.1 105.2,134.2 105.3,134.2 105.4,134.2 105.5,134.2 105.6,134.2 105.7,134.2 105.9,134.2 106,134.2 106.1,134.2 106.2,134.2 106.3,134.2 106.4,134.2 106.4,134.2 106.4,142.1 106.7,142.3 107,142.5 107.3,142.6 107.6,142.7 107.9,142.8 108.2,142.8 108.5,142.9 108.8,142.9 109.1,142.9 109.4,142.9 109.6,142.9 109.9,142.9 110.2,142.9 110.5,143 110.8,143 111.1,143 111.4,143 111.7,143 112,143 112.3,143 112.6,143 112.9,143 113.2,143 113.5,143 113.8,143 114.1,143 114.4,143 114.7,143 115,143 115,143 115,133.6 115.1,133.6 115.2,133.7 115.3,133.7 115.4,133.8 115.5,133.8 115.6,133.8 115.7,133.8 115.8,133.9 115.9,133.9 116.1,133.9 116.2,133.9 116.3,133.9 116.4,133.9 116.5,133.9 116.6,133.9 116.7,133.9 116.8,133.9 116.9,133.9 117,133.9 117.1,133.9 117.2,134 117.4,134 117.5,134 117.6,134 117.7,134 117.8,134 117.9,134 118,134 118.1,134 118.2,134 118.3,134 118.4,134 118.5,134 118.7,134 118.8,134 118.9,134.1 119,134.1 119.1,134.1 119.2,134.1 119.3,134.1 119.4,134.1 119.5,134.1 119.6,134.1 119.7,134.1 119.8,134.1 120,134.1 120.1,134.1 120.2,134.1 120.3,134.1 120.4,134.1 120.5,134.2 120.6,134.2 120.7,134.2 120.8,134.2 120.9,134.2 121,134.2 121.1,134.2 121.3,134.2 121.4,134.2 121.5,134.2 121.6,134.2 121.7,134.2 121.8,134.2 121.9,134.2 122,134.3 122.1,134.3 122.2,134.3 122.3,134.3 122.4,134.3 122.6,134.3 122.7,134.3 122.8,134.3 122.9,134.3 123,134.3 123.1,134.3 123.2,134.3 123.3,134.3 123.4,134.3 123.5,134.3 123.5,134.3 123.5,142.1 123.8,142.3 124.1,142.5 124.4,142.6 124.7,142.7 125,142.8 125.3,142.8 125.6,142.9 125.9,142.9 126.2,142.9 126.5,142.9 126.8,142.9 127.1,142.9 127.4,142.9 127.7,143 128,143 128.3,143 128.6,143 128.9,143 129.1,143 129.4,143 129.7,143 130,143 130.3,143 130.6,143 130.9,143 131.2,143 131.5,143 131.8,143 132.1,143 132.1,143 132.1,133.7 132.2,133.8 132.3,133.8 132.4,133.9 132.5,133.9 132.6,133.9 132.8,133.9 132.9,133.9 133,134 133.1,134 133.2,134 133.3,134 133.4,134 133.5,134 133.6,134 133.7,134 133.8,134 133.9,134 134.1,134 134.2,134 134.3,134.1 134.4,134.1 134.5,134.1 134.6,134.1 134.7,134.1 134.8,134.1 134.9,134.1 135,134.1 135.1,134.1 135.2,134.1 135.4,134.1 135.5,134.1 135.6,134.1 135.7,134.1 135.8,134.1 135.9,134.1 136,134.2 136.1,134.2 136.2,134.2 136.3,134.2 136.4,134.2 136.5,134.2 136.7,134.2 136.8,134.2 136.9,134.2 137,134.2 137.1,134.2 137.2,134.2 137.3,134.2 137.4,134.2 137.5,134.2 137.6,134.3 137.7,134.3 137.8,134.3 138,134.3 138.1,134.3 138.2,134.3 138.3,134.3 138.4,134.3 138.5,134.3 138.6,134.3 138.7,134.3 138.8,134.3 138.9,134.3 139,134.3 139.1,134.3 139.3,134.4 139.4,134.4 139.5,134.4 139.6,134.4 139.7,134.4 139.8,134.4 139.9,134.4 140,134.4 140.1,134.4 140.2,134.4 140.3,134.4 140.4,134.4 140.6,134.4 140.7,134.4 140.7,134.4 140.7,142.1 141,142.3 141.3,142.5 141.6,142.6 141.8,142.7 142.1,142.8 142.4,142.8 142.7,142.9 143,142.9 143.3,142.9 143.6,142.9 143.9,142.9 144.2,142.9 144.5,142.9 144.8,143 145.1,143 145.4,143 145.7,143 146,143 146.3,143 146.6,143 146.9,143 147.2,143 147.5,143 147.8,143 148.1,143 148.3,143 148.6,143 148.9,143 149.2,143 149.2,143 149.2,133.7 149.3,133.8 149.5,133.9 149.6,133.9 149.7,134 149.8,134 149.9,134 150,134 150.1,134 150.2,134 150.3,134.1 150.4,134.1 150.5,134.1 150.6,134.1 150.8,134.1 150.9,134.1 151,134.1 151.1,134.1 151.2,134.1 151.3,134.1 151.4,134.1 151.5,134.1 151.6,134.1 151.7,134.1 151.8,134.2 151.9,134.2 152.1,134.2 152.2,134.2 152.3,134.2 152.4,134.2 152.5,134.2 152.6,134.2 152.7,134.2 152.8,134.2 152.9,134.2 153,134.2 153.1,134.2 153.2,134.2 153.4,134.2 153.5,134.2 153.6,134.3 153.7,134.3 153.8,134.3 153.9,134.3 154,134.3 154.1,134.3 154.2,134.3 154.3,134.3 154.4,134.3 154.5,134.3 154.7,134.3 154.8,134.3 154.9,134.3 155,134.3 155.1,134.3 155.2,134.4 155.3,134.4 155.4,134.4 155.5,134.4 155.6,134.4 155.7,134.4 155.8,134.4 156,134.4 156.1,134.4 156.2,134.4 156.3,134.4 156.4,134.4 156.5,134.4 156.6,134.4 156.7,134.4 156.8,134.4 156.9,134.5 157,134.5 157.1,134.5 157.3,134.5 157.4,134.5 157.5,134.5 157.6,134.5 157.7,134.5 157.8,134.5 157.8,134.5 157.8,142.1 158.1,142.3 158.4,142.5 158.7,142.6 159,142.7 159.3,142.8 159.6,142.8 159.9,142.9 160.2,142.9 160.5,142.9 160.8,142.9 161,142.9 161.3,142.9 161.6,142.9 161.9,143 162.2,143 162.5,143 162.8,143 163.1,143 163.4,143 163.7,143 164,143 164.3,143 164.6,143 164.9,143 165.2,143 165.5,143 165.8,143 166.1,143 166.4,143 166.4,143 166.4,133.8 166.5,133.9 166.6,133.9 166.7,134 166.8,134 166.9,134 167,134 167.1,134.1 167.2,134.1 167.3,134.1 167.5,134.1 167.6,134.1 167.7,134.1 167.8,134.1 167.9,134.1 168,134.1 168.1,134.1 168.2,134.1 168.3,134.2 168.4,134.2 168.5,134.2 168.6,134.2 168.8,134.2 168.9,134.2 169,134.2 169.1,134.2 169.2,134.2 169.3,134.2 169.4,134.2 169.5,134.2 169.6,134.2 169.7,134.2 169.8,134.2 169.9,134.2 170.1,134.3 170.2,134.3 170.3,134.3 170.4,134.3 170.5,134.3 170.6,134.3 170.7,134.3 170.8,134.3 170.9,134.3 171,134.3 171.1,134.3 171.2,134.3 171.4,134.3 171.5,134.3 171.6,134.3 171.7,134.3 171.8,134.4 171.9,134.4 172,134.4 172.1,134.4 172.2,134.4 172.3,134.4 172.4,134.4 172.5,134.4 172.7,134.4 172.8,134.4 172.9,134.4 173,134.4 173.1,134.4 173.2,134.4 173.3,134.4 173.4,134.5 173.5,134.5 173.6,134.5 173.7,134.5 173.8,134.5 174,134.5 174.1,134.5 174.2,134.5 174.3,134.5 174.4,134.5 174.5,134.5 174.6,134.5 174.7,134.5 174.8,134.5 174.9,134.5 174.9,134.5 174.9,142.1 175.2,142.3 175.5,142.5 175.8,142.6 176.1,142.7 176.4,142.8 176.7,142.8 177,142.9 177.3,142.9 177.6,142.9 177.9,142.9 178.2,142.9 178.5,142.9 178.8,142.9 179.1,143 179.4,143 179.7,143 180,143 180.3,143 180.5,143 180.8,143 181.1,143 181.4,143 181.7,143 182,143 182.3,143 182.6,143 182.9,143 183.2,143 183.5,143" fill="none" stroke="#9b6be0" stroke-width="0.8" stroke-linejoin="round" stroke-dasharray="1.3,0.7"/>
<polyline points="29.3,129.1 29.4,129.4 29.5,129.6 29.6,129.8 29.7,129.9 29.8,130.1 30,130.2 30.1,130.4 30.2,130.5 30.3,130.6 30.4,130.6 30.5,130.7 30.6,130.8 30.7,130.9 30.8,130.9 30.9,131 31,131 31.1,131.1 31.3,131.1 31.4,131.2 31.5,131.2 31.6,131.2 31.7,131.3 31.8,131.3 31.9,131.3 32,131.3 32.1,131.4 32.2,131.4 32.3,131.4 32.4,131.4 32.6,131.5 32.7,131.5 32.8,131.5 32.9,131.5 33,131.5 33.1,131.6 33.2,131.6 33.3,131.6 33.4,131.6 33.5,131.6 33.6,131.6 33.7,131.7 33.9,131.7 34,131.7 34.1,131.7 34.2,131.7 34.3,131.7 34.4,131.8 34.5,131.8 34.6,131.8 34.7,131.8 34.8,131.8 34.9,131.8 35,131.9 35.2,131.9 35.3,131.9 35.4,131.9 35.5,131.9 35.6,131.9 35.7,132 35.8,132 35.9,132 36,132 36.1,132 36.2,132 36.3,132.1 36.5,132.1 36.6,132.1 36.7,132.1 36.8,132.1 36.9,132.1 37,132.1 37.1,132.2 37.2,132.2 37.3,132.2 37.4,132.2 37.5,132.2 37.6,132.2 37.8,132.3 37.9,132.3 37.9,132.3 37.9,142.1 38.2,142.3 38.5,142.5 38.8,142.6 39,142.7 39.3,142.8 39.6,142.8 39.9,142.9 40.2,142.9 40.5,142.9 40.8,142.9 41.1,142.9 41.4,142.9 41.7,142.9 42,143 42.3,143 42.6,143 42.9,143 43.2,143 43.5,143 43.8,143 44.1,143 44.4,143 44.7,143 45,143 45.3,143 45.5,143 45.8,143 46.1,143 46.4,143 46.4,143 46.4,132.5 46.5,132.7 46.7,132.7 46.8,132.8 46.9,132.9 47,132.9 47.1,132.9 47.2,133 47.3,133 47.4,133 47.5,133 47.6,133 47.7,133 47.8,133 48,133.1 48.1,133.1 48.2,133.1 48.3,133.1 48.4,133.1 48.5,133.1 48.6,133.1 48.7,133.1 48.8,133.2 48.9,133.2 49,133.2 49.1,133.2 49.3,133.2 49.4,133.2 49.5,133.2 49.6,133.2 49.7,133.2 49.8,133.3 49.9,133.3 50,133.3 50.1,133.3 50.2,133.3 50.3,133.3 50.4,133.3 50.6,133.3 50.7,133.3 50.8,133.4 50.9,133.4 51,133.4 51.1,133.4 51.2,133.4 51.3,133.4 51.4,133.4 51.5,133.4 51.6,133.4 51.7,133.5 51.9,133.5 52,133.5 52.1,133.5 52.2,133.5 52.3,133.5 52.4,133.5 52.5,133.5 52.6,133.5 52.7,133.6 52.8,133.6 52.9,133.6 53,133.6 53.2,133.6 53.3,133.6 53.4,133.6 53.5,133.6 53.6,133.6 53.7,133.7 53.8,133.7 53.9,133.7 54,133.7 54.1,133.7 54.2,133.7 54.3,133.7 54.5,133.7 54.6,133.7 54.7,133.8 54.8,133.8 54.9,133.8 55,133.8 55,133.8 55,142.1 55.3,142.3 55.6,142.5 55.9,142.6 56.2,142.7 56.5,142.8 56.8,142.8 57.1,142.9 57.4,142.9 57.7,142.9 58,142.9 58.2,142.9 58.5,142.9 58.8,142.9 59.1,143 59.4,143 59.7,143 60,143 60.3,143 60.6,143 60.9,143 61.2,143 61.5,143 61.8,143 62.1,143 62.4,143 62.7,143 63,143 63.3,143 63.6,143 63.6,143 63.6,133.1 63.7,133.2 63.8,133.3 63.9,133.3 64,133.4 64.1,133.4 64.2,133.4 64.3,133.5 64.4,133.5 64.5,133.5 64.7,133.5 64.8,133.5 64.9,133.5 65,133.6 65.1,133.6 65.2,133.6 65.3,133.6 65.4,133.6 65.5,133.6 65.6,133.6 65.7,133.6 65.8,133.6 66,133.7 66.1,133.7 66.2,133.7 66.3,133.7 66.4,133.7 66.5,133.7 66.6,133.7 66.7,133.7 66.8,133.7 66.9,133.7 67,133.8 67.1,133.8 67.3,133.8 67.4,133.8 67.5,133.8 67.6,133.8 67.7,133.8 67.8,133.8 67.9,133.8 68,133.8 68.1,133.9 68.2,133.9 68.3,133.9 68.4,133.9 68.6,133.9 68.7,133.9 68.8,133.9 68.9,133.9 69,133.9 69.1,133.9 69.2,134 69.3,134 69.4,134 69.5,134 69.6,134 69.7,134 69.9,134 70,134 70.1,134 70.2,134 70.3,134.1 70.4,134.1 70.5,134.1 70.6,134.1 70.7,134.1 70.8,134.1 70.9,134.1 71,134.1 71.2,134.1 71.3,134.1 71.4,134.2 71.5,134.2 71.6,134.2 71.7,134.2 71.8,134.2 71.9,134.2 72,134.2 72.1,134.2 72.1,134.2 72.1,142.1 72.4,142.3 72.7,142.5 73,142.6 73.3,142.7 73.6,142.8 73.9,142.8 74.2,142.9 74.5,142.9 74.8,142.9 75.1,142.9 75.4,142.9 75.7,142.9 76,142.9 76.3,143 76.6,143 76.9,143 77.2,143 77.5,143 77.7,143 78,143 78.3,143 78.6,143 78.9,143 79.2,143 79.5,143 79.8,143 80.1,143 80.4,143 80.7,143 80.7,143 80.7,133.6 80.8,133.7 80.9,133.8 81,133.8 81.1,133.9 81.2,133.9 81.4,133.9 81.5,133.9 81.6,134 81.7,134 81.8,134 81.9,134 82,134 82.1,134 82.2,134 82.3,134 82.4,134 82.5,134.1 82.7,134.1 82.8,134.1 82.9,134.1 83,134.1 83.1,134.1 83.2,134.1 83.3,134.1 83.4,134.1 83.5,134.1 83.6,134.1 83.7,134.2 83.8,134.2 84,134.2 84.1,134.2 84.2,134.2 84.3,134.2 84.4,134.2 84.5,134.2 84.6,134.2 84.7,134.2 84.8,134.2 84.9,134.3 85,134.3 85.1,134.3 85.3,134.3 85.4,134.3 85.5,134.3 85.6,134.3 85.7,134.3 85.8,134.3 85.9,134.3 86,134.3 86.1,134.4 86.2,134.4 86.3,134.4 86.4,134.4 86.6,134.4 86.7,134.4 86.8,134.4 86.9,134.4 87,134.4 87.1,134.4 87.2,134.5 87.3,134.5 87.4,134.5 87.5,134.5 87.6,134.5 87.7,134.5 87.9,134.5 88,134.5 88.1,134.5 88.2,134.5 88.3,134.5 88.4,134.6 88.5,134.6 88.6,134.6 88.7,134.6 88.8,134.6 88.9,134.6 89,134.6 89.2,134.6 89.3,134.6 89.3,134.6 89.3,142.1 89.6,142.3 89.9,142.5 90.2,142.6 90.4,142.7 90.7,142.8 91,142.8 91.3,142.9 91.6,142.9 91.9,142.9 92.2,142.9 92.5,142.9 92.8,142.9 93.1,142.9 93.4,143 93.7,143 94,143 94.3,143 94.6,143 94.9,143 95.2,143 95.5,143 95.8,143 96.1,143 96.4,143 96.7,143 96.9,143 97.2,143 97.5,143 97.8,143 97.8,143 97.8,134 97.9,134.1 98.1,134.2 98.2,134.2 98.3,134.3 98.4,134.3 98.5,134.3 98.6,134.4 98.7,134.4 98.8,134.4 98.9,134.4 99,134.4 99.1,134.4 99.2,134.4 99.4,134.4 99.5,134.4 99.6,134.5 99.7,134.5 99.8,134.5 99.9,134.5 100,134.5 100.1,134.5 100.2,134.5 100.3,134.5 100.4,134.5 100.5,134.5 100.7,134.5 100.8,134.5 100.9,134.6 101,134.6 101.1,134.6 101.2,134.6 101.3,134.6 101.4,134.6 101.5,134.6 101.6,134.6 101.7,134.6 101.8,134.6 102,134.6 102.1,134.6 102.2,134.7 102.3,134.7 102.4,134.7 102.5,134.7 102.6,134.7 102.7,134.7 102.8,134.7 102.9,134.7 103,134.7 103.1,134.7 103.3,134.7 103.4,134.7 103.5,134.8 103.6,134.8 103.7,134.8 103.8,134.8 103.9,134.8 104,134.8 104.1,134.8 104.2,134.8 104.3,134.8 104.4,134.8 104.6,134.8 104.7,134.8 104.8,134.9 104.9,134.9 105,134.9 105.1,134.9 105.2,134.9 105.3,134.9 105.4,134.9 105.5,134.9 105.6,134.9 105.7,134.9 105.9,134.9 106,134.9 106.1,135 106.2,135 106.3,135 106.4,135 106.4,135 106.4,142.1 106.7,142.3 107,142.5 107.3,142.6 107.6,142.7 107.9,142.8 108.2,142.8 108.5,142.9 108.8,142.9 109.1,142.9 109.4,142.9 109.6,142.9 109.9,142.9 110.2,142.9 110.5,143 110.8,143 111.1,143 111.4,143 111.7,143 112,143 112.3,143 112.6,143 112.9,143 113.2,143 113.5,143 113.8,143 114.1,143 114.4,143 114.7,143 115,143 115,143 115,134.4 115.1,134.5 115.2,134.6 115.3,134.6 115.4,134.6 115.5,134.7 115.6,134.7 115.7,134.7 115.8,134.7 115.9,134.7 116.1,134.7 116.2,134.8 116.3,134.8 116.4,134.8 116.5,134.8 116.6,134.8 116.7,134.8 116.8,134.8 116.9,134.8 117,134.8 117.1,134.8 117.2,134.8 117.4,134.8 117.5,134.9 117.6,134.9 117.7,134.9 117.8,134.9 117.9,134.9 118,134.9 118.1,134.9 118.2,134.9 118.3,134.9 118.4,134.9 118.5,134.9 118.7,134.9 118.8,134.9 118.9,135 119,135 119.1,135 119.2,135 119.3,135 119.4,135 119.5,135 119.6,135 119.7,135 119.8,135 120,135 120.1,135 120.2,135 120.3,135.1 120.4,135.1 120.5,135.1 120.6,135.1 120.7,135.1 120.8,135.1 120.9,135.1 121,135.1 121.1,135.1 121.3,135.1 121.4,135.1 121.5,135.1 121.6,135.1 121.7,135.2 121.8,135.2 121.9,135.2 122,135.2 122.1,135.2 122.2,135.2 122.3,135.2 122.4,135.2 122.6,135.2 122.7,135.2 122.8,135.2 122.9,135.2 123,135.2 123.1,135.2 123.2,135.3 123.3,135.3 123.4,135.3 123.5,135.3 123.5,135.3 123.5,142.1 123.8,142.3 124.1,142.5 124.4,142.6 124.7,142.7 125,142.8 125.3,142.8 125.6,142.9 125.9,142.9 126.2,142.9 126.5,142.9 126.8,142.9 127.1,142.9 127.4,142.9 127.7,143 128,143 128.3,143 128.6,143 128.9,143 129.1,143 129.4,143 129.7,143 130,143 130.3,143 130.6,143 130.9,143 131.2,143 131.5,143 131.8,143 132.1,143 132.1,143 132.1,134.7 132.2,134.8 132.3,134.9 132.4,134.9 132.5,134.9 132.6,135 132.8,135 132.9,135 133,135 133.1,135 133.2,135 133.3,135 133.4,135.1 133.5,135.1 133.6,135.1 133.7,135.1 133.8,135.1 133.9,135.1 134.1,135.1 134.2,135.1 134.3,135.1 134.4,135.1 134.5,135.1 134.6,135.1 134.7,135.1 134.8,135.1 134.9,135.2 135,135.2 135.1,135.2 135.2,135.2 135.4,135.2 135.5,135.2 135.6,135.2 135.7,135.2 135.8,135.2 135.9,135.2 136,135.2 136.1,135.2 136.2,135.2 136.3,135.2 136.4,135.3 136.5,135.3 136.7,135.3 136.8,135.3 136.9,135.3 137,135.3 137.1,135.3 137.2,135.3 137.3,135.3 137.4,135.3 137.5,135.3 137.6,135.3 137.7,135.3 137.8,135.3 138,135.4 138.1,135.4 138.2,135.4 138.3,135.4 138.4,135.4 138.5,135.4 138.6,135.4 138.7,135.4 138.8,135.4 138.9,135.4 139,135.4 139.1,135.4 139.3,135.4 139.4,135.4 139.5,135.5 139.6,135.5 139.7,135.5 139.8,135.5 139.9,135.5 140,135.5 140.1,135.5 140.2,135.5 140.3,135.5 140.4,135.5 140.6,135.5 140.7,135.5 140.7,135.5 140.7,142.1 141,142.3 141.3,142.5 141.6,142.6 141.8,142.7 142.1,142.8 142.4,142.8 142.7,142.9 143,142.9 143.3,142.9 143.6,142.9 143.9,142.9 144.2,142.9 144.5,142.9 144.8,143 145.1,143 145.4,143 145.7,143 146,143 146.3,143 146.6,143 146.9,143 147.2,143 147.5,143 147.8,143 148.1,143 148.3,143 148.6,143 148.9,143 149.2,143 149.2,143 149.2,134.9 149.3,135 149.5,135.1 149.6,135.1 149.7,135.2 149.8,135.2 149.9,135.2 150,135.2 150.1,135.2 150.2,135.2 150.3,135.2 150.4,135.3 150.5,135.3 150.6,135.3 150.8,135.3 150.9,135.3 151,135.3 151.1,135.3 151.2,135.3 151.3,135.3 151.4,135.3 151.5,135.3 151.6,135.3 151.7,135.3 151.8,135.3 151.9,135.4 152.1,135.4 152.2,135.4 152.3,135.4 152.4,135.4 152.5,135.4 152.6,135.4 152.7,135.4 152.8,135.4 152.9,135.4 153,135.4 153.1,135.4 153.2,135.4 153.4,135.4 153.5,135.4 153.6,135.5 153.7,135.5 153.8,135.5 153.9,135.5 154,135.5 154.1,135.5 154.2,135.5 154.3,135.5 154.4,135.5 154.5,135.5 154.7,135.5 154.8,135.5 154.9,135.5 155,135.5 155.1,135.5 155.2,135.6 155.3,135.6 155.4,135.6 155.5,135.6 155.6,135.6 155.7,135.6 155.8,135.6 156,135.6 156.1,135.6 156.2,135.6 156.3,135.6 156.4,135.6 156.5,135.6 156.6,135.6 156.7,135.6 156.8,135.7 156.9,135.7 157,135.7 157.1,135.7 157.3,135.7 157.4,135.7 157.5,135.7 157.6,135.7 157.7,135.7 157.8,135.7 157.8,135.7 157.8,142.1 158.1,142.3 158.4,142.5 158.7,142.6 159,142.7 159.3,142.8 159.6,142.8 159.9,142.9 160.2,142.9 160.5,142.9 160.8,142.9 161,142.9 161.3,142.9 161.6,142.9 161.9,143 162.2,143 162.5,143 162.8,143 163.1,143 163.4,143 163.7,143 164,143 164.3,143 164.6,143 164.9,143 165.2,143 165.5,143 165.8,143 166.1,143 166.4,143 166.4,143 166.4,135 166.5,135.1 166.6,135.2 166.7,135.2 166.8,135.3 166.9,135.3 167,135.3 167.1,135.3 167.2,135.3 167.3,135.3 167.5,135.4 167.6,135.4 167.7,135.4 167.8,135.4 167.9,135.4 168,135.4 168.1,135.4 168.2,135.4 168.3,135.4 168.4,135.4 168.5,135.4 168.6,135.4 168.8,135.4 168.9,135.4 169,135.4 169.1,135.5 169.2,135.5 169.3,135.5 169.4,135.5 169.5,135.5 169.6,135.5 169.7,135.5 169.8,135.5 169.9,135.5 170.1,135.5 170.2,135.5 170.3,135.5 170.4,135.5 170.5,135.5 170.6,135.5 170.7,135.6 170.8,135.6 170.9,135.6 171,135.6 171.1,135.6 171.2,135.6 171.4,135.6 171.5,135.6 171.6,135.6 171.7,135.6 171.8,135.6 171.9,135.6 172,135.6 172.1,135.6 172.2,135.6 172.3,135.6 172.4,135.7 172.5,135.7 172.7,135.7 172.8,135.7 172.9,135.7 173,135.7 173.1,135.7 173.2,135.7 173.3,135.7 173.4,135.7 173.5,135.7 173.6,135.7 173.7,135.7 173.8,135.7 174,135.7 174.1,135.7 174.2,135.8 174.3,135.8 174.4,135.8 174.5,135.8 174.6,135.8 174.7,135.8 174.8,135.8 174.9,135.8 174.9,135.8 174.9,142.1 175.2,142.3 175.5,142.5 175.8,142.6 176.1,142.7 176.4,142.8 176.7,142.8 177,142.9 177.3,142.9 177.6,142.9 177.9,142.9 178.2,142.9 178.5,142.9 178.8,142.9 179.1,143 179.4,143 179.7,143 180,143 180.3,143 180.5,143 180.8,143 181.1,143 181.4,143 181.7,143 182,143 182.3,143 182.6,143 182.9,143 183.2,143 183.5,143" fill="none" stroke="#4a6ae8" stroke-width="0.8" stroke-linejoin="round" stroke-dasharray="1.3,0.7"/>
<polyline points="29.3,119.7 29.4,119.9 29.5,120.2 29.6,120.3 29.7,120.5 29.8,120.7 30,120.8 30.1,120.9 30.2,121 30.3,121.1 30.4,121.2 30.5,121.3 30.6,121.4 30.7,121.5 30.8,121.5 30.9,121.6 31,121.6 31.1,121.7 31.3,121.7 31.4,121.8 31.5,121.8 31.6,121.9 31.7,121.9 31.8,121.9 31.9,122 32,122 32.1,122 32.2,122 32.3,122.1 32.4,122.1 32.6,122.1 32.7,122.1 32.8,122.2 32.9,122.2 33,122.2 33.1,122.2 33.2,122.3 33.3,122.3 33.4,122.3 33.5,122.3 33.6,122.3 33.7,122.4 33.9,122.4 34,122.4 34.1,122.4 34.2,122.4 34.3,122.5 34.4,122.5 34.5,122.5 34.6,122.5 34.7,122.5 34.8,122.6 34.9,122.6 35,122.6 35.2,122.6 35.3,122.6 35.4,122.7 35.5,122.7 35.6,122.7 35.7,122.7 35.8,122.7 35.9,122.7 36,122.8 36.1,122.8 36.2,122.8 36.3,122.8 36.5,122.8 36.6,122.9 36.7,122.9 36.8,122.9 36.9,122.9 37,122.9 37.1,123 37.2,123 37.3,123 37.4,123 37.5,123 37.6,123.1 37.8,123.1 37.9,123.1 37.9,123.1 37.9,142.1 38.2,142.3 38.5,142.5 38.8,142.6 39,142.7 39.3,142.8 39.6,142.8 39.9,142.9 40.2,142.9 40.5,142.9 40.8,142.9 41.1,142.9 41.4,142.9 41.7,142.9 42,143 42.3,143 42.6,143 42.9,143 43.2,143 43.5,143 43.8,143 44.1,143 44.4,143 44.7,143 45,143 45.3,143 45.5,143 45.8,143 46.1,143 46.4,143 46.4,143 46.4,122.5 46.5,122.6 46.7,122.7 46.8,122.7 46.9,122.8 47,122.8 47.1,122.9 47.2,122.9 47.3,122.9 47.4,122.9 47.5,122.9 47.6,123 47.7,123 47.8,123 48,123 48.1,123 48.2,123 48.3,123 48.4,123 48.5,123.1 48.6,123.1 48.7,123.1 48.8,123.1 48.9,123.1 49,123.1 49.1,123.1 49.3,123.1 49.4,123.1 49.5,123.2 49.6,123.2 49.7,123.2 49.8,123.2 49.9,123.2 50,123.2 50.1,123.2 50.2,123.2 50.3,123.2 50.4,123.3 50.6,123.3 50.7,123.3 50.8,123.3 50.9,123.3 51,123.3 51.1,123.3 51.2,123.3 51.3,123.3 51.4,123.4 51.5,123.4 51.6,123.4 51.7,123.4 51.9,123.4 52,123.4 52.1,123.4 52.2,123.4 52.3,123.4 52.4,123.5 52.5,123.5 52.6,123.5 52.7,123.5 52.8,123.5 52.9,123.5 53,123.5 53.2,123.5 53.3,123.5 53.4,123.6 53.5,123.6 53.6,123.6 53.7,123.6 53.8,123.6 53.9,123.6 54,123.6 54.1,123.6 54.2,123.6 54.3,123.7 54.5,123.7 54.6,123.7 54.7,123.7 54.8,123.7 54.9,123.7 55,123.7 55,123.7 55,142.1 55.3,142.3 55.6,142.5 55.9,142.6 56.2,142.7 56.5,142.8 56.8,142.8 57.1,142.9 57.4,142.9 57.7,142.9 58,142.9 58.2,142.9 58.5,142.9 58.8,142.9 59.1,143 59.4,143 59.7,143 60,143 60.3,143 60.6,143 60.9,143 61.2,143 61.5,143 61.8,143 62.1,143 62.4,143 62.7,143 63,143 63.3,143 63.6,143 63.6,143 63.6,122.9 63.7,123 63.8,123.1 63.9,123.2 64,123.2 64.1,123.2 64.2,123.3 64.3,123.3 64.4,123.3 64.5,123.3 64.7,123.3 64.8,123.4 64.9,123.4 65,123.4 65.1,123.4 65.2,123.4 65.3,123.4 65.4,123.4 65.5,123.4 65.6,123.5 65.7,123.5 65.8,123.5 66,123.5 66.1,123.5 66.2,123.5 66.3,123.5 66.4,123.5 66.5,123.5 66.6,123.5 66.7,123.6 66.8,123.6 66.9,123.6 67,123.6 67.1,123.6 67.3,123.6 67.4,123.6 67.5,123.6 67.6,123.6 67.7,123.6 67.8,123.7 67.9,123.7 68,123.7 68.1,123.7 68.2,123.7 68.3,123.7 68.4,123.7 68.6,123.7 68.7,123.7 68.8,123.8 68.9,123.8 69,123.8 69.1,123.8 69.2,123.8 69.3,123.8 69.4,123.8 69.5,123.8 69.6,123.8 69.7,123.8 69.9,123.9 70,123.9 70.1,123.9 70.2,123.9 70.3,123.9 70.4,123.9 70.5,123.9 70.6,123.9 70.7,123.9 70.8,124 70.9,124 71,124 71.2,124 71.3,124 71.4,124 71.5,124 71.6,124 71.7,124 71.8,124 71.9,124.1 72,124.1 72.1,124.1 72.1,124.1 72.1,142.1 72.4,142.3 72.7,142.5 73,142.6 73.3,142.7 73.6,142.8 73.9,142.8 74.2,142.9 74.5,142.9 74.8,142.9 75.1,142.9 75.4,142.9 75.7,142.9 76,142.9 76.3,143 76.6,143 76.9,143 77.2,143 77.5,143 77.7,143 78,143 78.3,143 78.6,143 78.9,143 79.2,143 79.5,143 79.8,143 80.1,143 80.4,143 80.7,143 80.7,143 80.7,123.3 80.8,123.4 80.9,123.5 81,123.5 81.1,123.6 81.2,123.6 81.4,123.6 81.5,123.7 81.6,123.7 81.7,123.7 81.8,123.7 81.9,123.7 82,123.7 82.1,123.8 82.2,123.8 82.3,123.8 82.4,123.8 82.5,123.8 82.7,123.8 82.8,123.8 82.9,123.8 83,123.8 83.1,123.8 83.2,123.9 83.3,123.9 83.4,123.9 83.5,123.9 83.6,123.9 83.7,123.9 83.8,123.9 84,123.9 84.1,123.9 84.2,123.9 84.3,123.9 84.4,124 84.5,124 84.6,124 84.7,124 84.8,124 84.9,124 85,124 85.1,124 85.3,124 85.4,124 85.5,124.1 85.6,124.1 85.7,124.1 85.8,124.1 85.9,124.1 86,124.1 86.1,124.1 86.2,124.1 86.3,124.1 86.4,124.1 86.6,124.2 86.7,124.2 86.8,124.2 86.9,124.2 87,124.2 87.1,124.2 87.2,124.2 87.3,124.2 87.4,124.2 87.5,124.2 87.6,124.3 87.7,124.3 87.9,124.3 88,124.3 88.1,124.3 88.2,124.3 88.3,124.3 88.4,124.3 88.5,124.3 88.6,124.3 88.7,124.4 88.8,124.4 88.9,124.4 89,124.4 89.2,124.4 89.3,124.4 89.3,124.4 89.3,142.1 89.6,142.3 89.9,142.5 90.2,142.6 90.4,142.7 90.7,142.8 91,142.8 91.3,142.9 91.6,142.9 91.9,142.9 92.2,142.9 92.5,142.9 92.8,142.9 93.1,142.9 93.4,143 93.7,143 94,143 94.3,143 94.6,143 94.9,143 95.2,143 95.5,143 95.8,143 96.1,143 96.4,143 96.7,143 96.9,143 97.2,143 97.5,143 97.8,143 97.8,143 97.8,123.7 97.9,123.8 98.1,123.8 98.2,123.9 98.3,123.9 98.4,124 98.5,124 98.6,124 98.7,124 98.8,124 98.9,124 99,124.1 99.1,124.1 99.2,124.1 99.4,124.1 99.5,124.1 99.6,124.1 99.7,124.1 99.8,124.1 99.9,124.1 100,124.1 100.1,124.2 100.2,124.2 100.3,124.2 100.4,124.2 100.5,124.2 100.7,124.2 100.8,124.2 100.9,124.2 101,124.2 101.1,124.2 101.2,124.2 101.3,124.3 101.4,124.3 101.5,124.3 101.6,124.3 101.7,124.3 101.8,124.3 102,124.3 102.1,124.3 102.2,124.3 102.3,124.3 102.4,124.3 102.5,124.4 102.6,124.4 102.7,124.4 102.8,124.4 102.9,124.4 103,124.4 103.1,124.4 103.3,124.4 103.4,124.4 103.5,124.4 103.6,124.4 103.7,124.5 103.8,124.5 103.9,124.5 104,124.5 104.1,124.5 104.2,124.5 104.3,124.5 104.4,124.5 104.6,124.5 104.7,124.5 104.8,124.5 104.9,124.6 105,124.6 105.1,124.6 105.2,124.6 105.3,124.6 105.4,124.6 105.5,124.6 105.6,124.6 105.7,124.6 105.9,124.6 106,124.7 106.1,124.7 106.2,124.7 106.3,124.7 106.4,124.7 106.4,124.7 106.4,142.1 106.7,142.3 107,142.5 107.3,142.6 107.6,142.7 107.9,142.8 108.2,142.8 108.5,142.9 108.8,142.9 109.1,142.9 109.4,142.9 109.6,142.9 109.9,142.9 110.2,142.9 110.5,143 110.8,143 111.1,143 111.4,143 111.7,143 112,143 112.3,143 112.6,143 112.9,143 113.2,143 113.5,143 113.8,143 114.1,143 114.4,143 114.7,143 115,143 115,143 115,124 115.1,124.1 115.2,124.1 115.3,124.2 115.4,124.2 115.5,124.2 115.6,124.3 115.7,124.3 115.8,124.3 115.9,124.3 116.1,124.3 116.2,124.3 116.3,124.3 116.4,124.4 116.5,124.4 116.6,124.4 116.7,124.4 116.8,124.4 116.9,124.4 117,124.4 117.1,124.4 117.2,124.4 117.4,124.4 117.5,124.4 117.6,124.5 117.7,124.5 117.8,124.5 117.9,124.5 118,124.5 118.1,124.5 118.2,124.5 118.3,124.5 118.4,124.5 118.5,124.5 118.7,124.5 118.8,124.5 118.9,124.6 119,124.6 119.1,124.6 119.2,124.6 119.3,124.6 119.4,124.6 119.5,124.6 119.6,124.6 119.7,124.6 119.8,124.6 120,124.6 120.1,124.7 120.2,124.7 120.3,124.7 120.4,124.7 120.5,124.7 120.6,124.7 120.7,124.7 120.8,124.7 120.9,124.7 121,124.7 121.1,124.7 121.3,124.8 121.4,124.8 121.5,124.8 121.6,124.8 121.7,124.8 121.8,124.8 121.9,124.8 122,124.8 122.1,124.8 122.2,124.8 122.3,124.8 122.4,124.8 122.6,124.9 122.7,124.9 122.8,124.9 122.9,124.9 123,124.9 123.1,124.9 123.2,124.9 123.3,124.9 123.4,124.9 123.5,124.9 123.5,124.9 123.5,142.1 123.8,142.3 124.1,142.5 124.4,142.6 124.7,142.7 125,142.8 125.3,142.8 125.6,142.9 125.9,142.9 126.2,142.9 126.5,142.9 126.8,142.9 127.1,142.9 127.4,142.9 127.7,143 128,143 128.3,143 128.6,143 128.9,143 129.1,143 129.4,143 129.7,143 130,143 130.3,143 130.6,143 130.9,143 131.2,143 131.5,143 131.8,143 132.1,143 132.1,143 132.1,124.2 132.2,124.3 132.3,124.4 132.4,124.4 132.5,124.4 132.6,124.5 132.8,124.5 132.9,124.5 133,124.5 133.1,124.5 133.2,124.5 133.3,124.6 133.4,124.6 133.5,124.6 133.6,124.6 133.7,124.6 133.8,124.6 133.9,124.6 134.1,124.6 134.2,124.6 134.3,124.6 134.4,124.6 134.5,124.7 134.6,124.7 134.7,124.7 134.8,124.7 134.9,124.7 135,124.7 135.1,124.7 135.2,124.7 135.4,124.7 135.5,124.7 135.6,124.7 135.7,124.7 135.8,124.8 135.9,124.8 136,124.8 136.1,124.8 136.2,124.8 136.3,124.8 136.4,124.8 136.5,124.8 136.7,124.8 136.8,124.8 136.9,124.8 137,124.9 137.1,124.9 137.2,124.9 137.3,124.9 137.4,124.9 137.5,124.9 137.6,124.9 137.7,124.9 137.8,124.9 138,124.9 138.1,124.9 138.2,124.9 138.3,125 138.4,125 138.5,125 138.6,125 138.7,125 138.8,125 138.9,125 139,125 139.1,125 139.3,125 139.4,125 139.5,125 139.6,125.1 139.7,125.1 139.8,125.1 139.9,125.1 140,125.1 140.1,125.1 140.2,125.1 140.3,125.1 140.4,125.1 140.6,125.1 140.7,125.1 140.7,125.1 140.7,142.1 141,142.3 141.3,142.5 141.6,142.6 141.8,142.7 142.1,142.8 142.4,142.8 142.7,142.9 143,142.9 143.3,142.9 143.6,142.9 143.9,142.9 144.2,142.9 144.5,142.9 144.8,143 145.1,143 145.4,143 145.7,143 146,143 146.3,143 146.6,143 146.9,143 147.2,143 147.5,143 147.8,143 148.1,143 148.3,143 148.6,143 148.9,143 149.2,143 149.2,143 149.2,124.4 149.3,124.5 149.5,124.5 149.6,124.6 149.7,124.6 149.8,124.6 149.9,124.7 150,124.7 150.1,124.7 150.2,124.7 150.3,124.7 150.4,124.7 150.5,124.7 150.6,124.7 150.8,124.8 150.9,124.8 151,124.8 151.1,124.8 151.2,124.8 151.3,124.8 151.4,124.8 151.5,124.8 151.6,124.8 151.7,124.8 151.8,124.8 151.9,124.8 152.1,124.9 152.2,124.9 152.3,124.9 152.4,124.9 152.5,124.9 152.6,124.9 152.7,124.9 152.8,124.9 152.9,124.9 153,124.9 153.1,124.9 153.2,124.9 153.4,125 153.5,125 153.6,125 153.7,125 153.8,125 153.9,125 154,125 154.1,125 154.2,125 154.3,125 154.4,125 154.5,125 154.7,125 154.8,125.1 154.9,125.1 155,125.1 155.1,125.1 155.2,125.1 155.3,125.1 155.4,125.1 155.5,125.1 155.6,125.1 155.7,125.1 155.8,125.1 156,125.1 156.1,125.2 156.2,125.2 156.3,125.2 156.4,125.2 156.5,125.2 156.6,125.2 156.7,125.2 156.8,125.2 156.9,125.2 157,125.2 157.1,125.2 157.3,125.2 157.4,125.3 157.5,125.3 157.6,125.3 157.7,125.3 157.8,125.3 157.8,125.3 157.8,142.1 158.1,142.3 158.4,142.5 158.7,142.6 159,142.7 159.3,142.8 159.6,142.8 159.9,142.9 160.2,142.9 160.5,142.9 160.8,142.9 161,142.9 161.3,142.9 161.6,142.9 161.9,143 162.2,143 162.5,143 162.8,143 163.1,143 163.4,143 163.7,143 164,143 164.3,143 164.6,143 164.9,143 165.2,143 165.5,143 165.8,143 166.1,143 166.4,143 166.4,143 166.4,124.5 166.5,124.6 166.6,124.6 166.7,124.7 166.8,124.7 166.9,124.7 167,124.7 167.1,124.8 167.2,124.8 167.3,124.8 167.5,124.8 167.6,124.8 167.7,124.8 167.8,124.8 167.9,124.8 168,124.8 168.1,124.9 168.2,124.9 168.3,124.9 168.4,124.9 168.5,124.9 168.6,124.9 168.8,124.9 168.9,124.9 169,124.9 169.1,124.9 169.2,124.9 169.3,124.9 169.4,125 169.5,125 169.6,125 169.7,125 169.8,125 169.9,125 170.1,125 170.2,125 170.3,125 170.4,125 170.5,125 170.6,125 170.7,125 170.8,125.1 170.9,125.1 171,125.1 171.1,125.1 171.2,125.1 171.4,125.1 171.5,125.1 171.6,125.1 171.7,125.1 171.8,125.1 171.9,125.1 172,125.1 172.1,125.1 172.2,125.2 172.3,125.2 172.4,125.2 172.5,125.2 172.7,125.2 172.8,125.2 172.9,125.2 173,125.2 173.1,125.2 173.2,125.2 173.3,125.2 173.4,125.2 173.5,125.3 173.6,125.3 173.7,125.3 173.8,125.3 174,125.3 174.1,125.3 174.2,125.3 174.3,125.3 174.4,125.3 174.5,125.3 174.6,125.3 174.7,125.3 174.8,125.3 174.9,125.4 174.9,125.4 174.9,142.1 175.2,142.3 175.5,142.5 175.8,142.6 176.1,142.7 176.4,142.8 176.7,142.8 177,142.9 177.3,142.9 177.6,142.9 177.9,142.9 178.2,142.9 178.5,142.9 178.8,142.9 179.1,143 179.4,143 179.7,143 180,143 180.3,143 180.5,143 180.8,143 181.1,143 181.4,143 181.7,143 182,143 182.3,143 182.6,143 182.9,143 183.2,143 183.5,143" fill="none" stroke="#f7b93a" stroke-width="0.8" stroke-linejoin="round" stroke-dasharray="1.3,0.7"/>
<polyline points="29.3,108.4 29.4,108.8 29.5,109.3 29.6,109.7 29.7,110 29.8,110.3 30,110.6 30.1,110.8 30.2,111 30.3,111.2 30.4,111.4 30.5,111.5 30.6,111.7 30.7,111.8 30.8,111.9 30.9,112 31,112.1 31.1,112.2 31.3,112.3 31.4,112.4 31.5,112.5 31.6,112.5 31.7,112.6 31.8,112.6 31.9,112.7 32,112.7 32.1,112.8 32.2,112.8 32.3,112.9 32.4,112.9 32.6,113 32.7,113 32.8,113 32.9,113.1 33,113.1 33.1,113.2 33.2,113.2 33.3,113.2 33.4,113.3 33.5,113.3 33.6,113.3 33.7,113.4 33.9,113.4 34,113.4 34.1,113.5 34.2,113.5 34.3,113.5 34.4,113.6 34.5,113.6 34.6,113.6 34.7,113.7 34.8,113.7 34.9,113.7 35,113.7 35.2,113.8 35.3,113.8 35.4,113.8 35.5,113.9 35.6,113.9 35.7,113.9 35.8,114 35.9,114 36,114 36.1,114.1 36.2,114.1 36.3,114.1 36.5,114.1 36.6,114.2 36.7,114.2 36.8,114.2 36.9,114.3 37,114.3 37.1,114.3 37.2,114.4 37.3,114.4 37.4,114.4 37.5,114.4 37.6,114.5 37.8,114.5 37.9,114.5 37.9,114.5 37.9,141.1 38.2,141.5 38.5,141.7 38.8,142 39,142.1 39.3,142.2 39.6,142.3 39.9,142.4 40.2,142.4 40.5,142.5 40.8,142.5 41.1,142.5 41.4,142.5 41.7,142.6 42,142.6 42.3,142.6 42.6,142.6 42.9,142.6 43.2,142.6 43.5,142.6 43.8,142.6 44.1,142.6 44.4,142.6 44.7,142.6 45,142.6 45.3,142.6 45.5,142.6 45.8,142.6 46.1,142.6 46.4,142.6 46.4,142.6 46.4,114 46.5,114.2 46.7,114.3 46.8,114.4 46.9,114.5 47,114.6 47.1,114.6 47.2,114.7 47.3,114.7 47.4,114.7 47.5,114.7 47.6,114.8 47.7,114.8 47.8,114.8 48,114.8 48.1,114.9 48.2,114.9 48.3,114.9 48.4,114.9 48.5,115 48.6,115 48.7,115 48.8,115 48.9,115 49,115.1 49.1,115.1 49.3,115.1 49.4,115.1 49.5,115.2 49.6,115.2 49.7,115.2 49.8,115.2 49.9,115.2 50,115.3 50.1,115.3 50.2,115.3 50.3,115.3 50.4,115.4 50.6,115.4 50.7,115.4 50.8,115.4 50.9,115.5 51,115.5 51.1,115.5 51.2,115.5 51.3,115.5 51.4,115.6 51.5,115.6 51.6,115.6 51.7,115.6 51.9,115.7 52,115.7 52.1,115.7 52.2,115.7 52.3,115.7 52.4,115.8 52.5,115.8 52.6,115.8 52.7,115.8 52.8,115.9 52.9,115.9 53,115.9 53.2,115.9 53.3,115.9 53.4,116 53.5,116 53.6,116 53.7,116 53.8,116.1 53.9,116.1 54,116.1 54.1,116.1 54.2,116.1 54.3,116.2 54.5,116.2 54.6,116.2 54.7,116.2 54.8,116.3 54.9,116.3 55,116.3 55,116.3 55,141.1 55.3,141.5 55.6,141.7 55.9,142 56.2,142.1 56.5,142.2 56.8,142.3 57.1,142.4 57.4,142.4 57.7,142.5 58,142.5 58.2,142.5 58.5,142.5 58.8,142.6 59.1,142.6 59.4,142.6 59.7,142.6 60,142.6 60.3,142.6 60.6,142.6 60.9,142.6 61.2,142.6 61.5,142.6 61.8,142.6 62.1,142.6 62.4,142.6 62.7,142.6 63,142.6 63.3,142.6 63.6,142.6 63.6,142.6 63.6,114.9 63.7,115.1 63.8,115.2 63.9,115.3 64,115.4 64.1,115.5 64.2,115.5 64.3,115.5 64.4,115.6 64.5,115.6 64.7,115.6 64.8,115.7 64.9,115.7 65,115.7 65.1,115.7 65.2,115.7 65.3,115.8 65.4,115.8 65.5,115.8 65.6,115.8 65.7,115.8 65.8,115.9 66,115.9 66.1,115.9 66.2,115.9 66.3,115.9 66.4,116 66.5,116 66.6,116 66.7,116 66.8,116 66.9,116.1 67,116.1 67.1,116.1 67.3,116.1 67.4,116.2 67.5,116.2 67.6,116.2 67.7,116.2 67.8,116.2 67.9,116.3 68,116.3 68.1,116.3 68.2,116.3 68.3,116.3 68.4,116.4 68.6,116.4 68.7,116.4 68.8,116.4 68.9,116.4 69,116.5 69.1,116.5 69.2,116.5 69.3,116.5 69.4,116.5 69.5,116.6 69.6,116.6 69.7,116.6 69.9,116.6 70,116.6 70.1,116.7 70.2,116.7 70.3,116.7 70.4,116.7 70.5,116.7 70.6,116.8 70.7,116.8 70.8,116.8 70.9,116.8 71,116.8 71.2,116.9 71.3,116.9 71.4,116.9 71.5,116.9 71.6,116.9 71.7,117 71.8,117 71.9,117 72,117 72.1,117 72.1,117 72.1,141.1 72.4,141.5 72.7,141.7 73,142 73.3,142.1 73.6,142.2 73.9,142.3 74.2,142.4 74.5,142.4 74.8,142.5 75.1,142.5 75.4,142.5 75.7,142.5 76,142.6 76.3,142.6 76.6,142.6 76.9,142.6 77.2,142.6 77.5,142.6 77.7,142.6 78,142.6 78.3,142.6 78.6,142.6 78.9,142.6 79.2,142.6 79.5,142.6 79.8,142.6 80.1,142.6 80.4,142.6 80.7,142.6 80.7,142.6 80.7,115.8 80.8,115.9 80.9,116.1 81,116.1 81.1,116.2 81.2,116.3 81.4,116.3 81.5,116.4 81.6,116.4 81.7,116.4 81.8,116.4 81.9,116.5 82,116.5 82.1,116.5 82.2,116.5 82.3,116.5 82.4,116.6 82.5,116.6 82.7,116.6 82.8,116.6 82.9,116.6 83,116.6 83.1,116.7 83.2,116.7 83.3,116.7 83.4,116.7 83.5,116.7 83.6,116.8 83.7,116.8 83.8,116.8 84,116.8 84.1,116.8 84.2,116.9 84.3,116.9 84.4,116.9 84.5,116.9 84.6,116.9 84.7,116.9 84.8,117 84.9,117 85,117 85.1,117 85.3,117 85.4,117.1 85.5,117.1 85.6,117.1 85.7,117.1 85.8,117.1 85.9,117.1 86,117.2 86.1,117.2 86.2,117.2 86.3,117.2 86.4,117.2 86.6,117.3 86.7,117.3 86.8,117.3 86.9,117.3 87,117.3 87.1,117.3 87.2,117.4 87.3,117.4 87.4,117.4 87.5,117.4 87.6,117.4 87.7,117.5 87.9,117.5 88,117.5 88.1,117.5 88.2,117.5 88.3,117.5 88.4,117.6 88.5,117.6 88.6,117.6 88.7,117.6 88.8,117.6 88.9,117.7 89,117.7 89.2,117.7 89.3,117.7 89.3,117.7 89.3,141.1 89.6,141.5 89.9,141.7 90.2,142 90.4,142.1 90.7,142.2 91,142.3 91.3,142.4 91.6,142.4 91.9,142.5 92.2,142.5 92.5,142.5 92.8,142.5 93.1,142.6 93.4,142.6 93.7,142.6 94,142.6 94.3,142.6 94.6,142.6 94.9,142.6 95.2,142.6 95.5,142.6 95.8,142.6 96.1,142.6 96.4,142.6 96.7,142.6 96.9,142.6 97.2,142.6 97.5,142.6 97.8,142.6 97.8,142.6 97.8,116.5 97.9,116.7 98.1,116.8 98.2,116.9 98.3,116.9 98.4,117 98.5,117 98.6,117.1 98.7,117.1 98.8,117.1 98.9,117.1 99,117.2 99.1,117.2 99.2,117.2 99.4,117.2 99.5,117.2 99.6,117.3 99.7,117.3 99.8,117.3 99.9,117.3 100,117.3 100.1,117.3 100.2,117.4 100.3,117.4 100.4,117.4 100.5,117.4 100.7,117.4 100.8,117.4 100.9,117.5 101,117.5 101.1,117.5 101.2,117.5 101.3,117.5 101.4,117.5 101.5,117.6 101.6,117.6 101.7,117.6 101.8,117.6 102,117.6 102.1,117.6 102.2,117.7 102.3,117.7 102.4,117.7 102.5,117.7 102.6,117.7 102.7,117.7 102.8,117.8 102.9,117.8 103,117.8 103.1,117.8 103.3,117.8 103.4,117.8 103.5,117.9 103.6,117.9 103.7,117.9 103.8,117.9 103.9,117.9 104,117.9 104.1,118 104.2,118 104.3,118 104.4,118 104.6,118 104.7,118 104.8,118.1 104.9,118.1 105,118.1 105.1,118.1 105.2,118.1 105.3,118.1 105.4,118.2 105.5,118.2 105.6,118.2 105.7,118.2 105.9,118.2 106,118.2 106.1,118.3 106.2,118.3 106.3,118.3 106.4,118.3 106.4,118.3 106.4,141.1 106.7,141.5 107,141.7 107.3,142 107.6,142.1 107.9,142.2 108.2,142.3 108.5,142.4 108.8,142.4 109.1,142.5 109.4,142.5 109.6,142.5 109.9,142.5 110.2,142.6 110.5,142.6 110.8,142.6 111.1,142.6 111.4,142.6 111.7,142.6 112,142.6 112.3,142.6 112.6,142.6 112.9,142.6 113.2,142.6 113.5,142.6 113.8,142.6 114.1,142.6 114.4,142.6 114.7,142.6 115,142.6 115,142.6 115,117.1 115.1,117.3 115.2,117.4 115.3,117.5 115.4,117.6 115.5,117.6 115.6,117.7 115.7,117.7 115.8,117.7 115.9,117.7 116.1,117.8 116.2,117.8 116.3,117.8 116.4,117.8 116.5,117.8 116.6,117.8 116.7,117.9 116.8,117.9 116.9,117.9 117,117.9 117.1,117.9 117.2,117.9 117.4,118 117.5,118 117.6,118 117.7,118 117.8,118 117.9,118 118,118 118.1,118.1 118.2,118.1 118.3,118.1 118.4,118.1 118.5,118.1 118.7,118.1 118.8,118.1 118.9,118.2 119,118.2 119.1,118.2 119.2,118.2 119.3,118.2 119.4,118.2 119.5,118.3 119.6,118.3 119.7,118.3 119.8,118.3 120,118.3 120.1,118.3 120.2,118.3 120.3,118.4 120.4,118.4 120.5,118.4 120.6,118.4 120.7,118.4 120.8,118.4 120.9,118.5 121,118.5 121.1,118.5 121.3,118.5 121.4,118.5 121.5,118.5 121.6,118.5 121.7,118.6 121.8,118.6 121.9,118.6 122,118.6 122.1,118.6 122.2,118.6 122.3,118.7 122.4,118.7 122.6,118.7 122.7,118.7 122.8,118.7 122.9,118.7 123,118.7 123.1,118.8 123.2,118.8 123.3,118.8 123.4,118.8 123.5,118.8 123.5,118.8 123.5,141.1 123.8,141.5 124.1,141.7 124.4,142 124.7,142.1 125,142.2 125.3,142.3 125.6,142.4 125.9,142.4 126.2,142.5 126.5,142.5 126.8,142.5 127.1,142.5 127.4,142.6 127.7,142.6 128,142.6 128.3,142.6 128.6,142.6 128.9,142.6 129.1,142.6 129.4,142.6 129.7,142.6 130,142.6 130.3,142.6 130.6,142.6 130.9,142.6 131.2,142.6 131.5,142.6 131.8,142.6 132.1,142.6 132.1,142.6 132.1,117.6 132.2,117.8 132.3,117.9 132.4,118 132.5,118.1 132.6,118.1 132.8,118.2 132.9,118.2 133,118.2 133.1,118.2 133.2,118.3 133.3,118.3 133.4,118.3 133.5,118.3 133.6,118.3 133.7,118.3 133.8,118.4 133.9,118.4 134.1,118.4 134.2,118.4 134.3,118.4 134.4,118.4 134.5,118.4 134.6,118.5 134.7,118.5 134.8,118.5 134.9,118.5 135,118.5 135.1,118.5 135.2,118.5 135.4,118.5 135.5,118.6 135.6,118.6 135.7,118.6 135.8,118.6 135.9,118.6 136,118.6 136.1,118.6 136.2,118.7 136.3,118.7 136.4,118.7 136.5,118.7 136.7,118.7 136.8,118.7 136.9,118.7 137,118.8 137.1,118.8 137.2,118.8 137.3,118.8 137.4,118.8 137.5,118.8 137.6,118.8 137.7,118.9 137.8,118.9 138,118.9 138.1,118.9 138.2,118.9 138.3,118.9 138.4,118.9 138.5,119 138.6,119 138.7,119 138.8,119 138.9,119 139,119 139.1,119 139.3,119.1 139.4,119.1 139.5,119.1 139.6,119.1 139.7,119.1 139.8,119.1 139.9,119.1 140,119.2 140.1,119.2 140.2,119.2 140.3,119.2 140.4,119.2 140.6,119.2 140.7,119.2 140.7,119.2 140.7,141.1 141,141.5 141.3,141.7 141.6,142 141.8,142.1 142.1,142.2 142.4,142.3 142.7,142.4 143,142.4 143.3,142.5 143.6,142.5 143.9,142.5 144.2,142.5 144.5,142.6 144.8,142.6 145.1,142.6 145.4,142.6 145.7,142.6 146,142.6 146.3,142.6 146.6,142.6 146.9,142.6 147.2,142.6 147.5,142.6 147.8,142.6 148.1,142.6 148.3,142.6 148.6,142.6 148.9,142.6 149.2,142.6 149.2,142.6 149.2,118 149.3,118.2 149.5,118.3 149.6,118.4 149.7,118.4 149.8,118.5 149.9,118.5 150,118.6 150.1,118.6 150.2,118.6 150.3,118.6 150.4,118.6 150.5,118.7 150.6,118.7 150.8,118.7 150.9,118.7 151,118.7 151.1,118.7 151.2,118.7 151.3,118.8 151.4,118.8 151.5,118.8 151.6,118.8 151.7,118.8 151.8,118.8 151.9,118.8 152.1,118.8 152.2,118.9 152.3,118.9 152.4,118.9 152.5,118.9 152.6,118.9 152.7,118.9 152.8,118.9 152.9,119 153,119 153.1,119 153.2,119 153.4,119 153.5,119 153.6,119 153.7,119 153.8,119.1 153.9,119.1 154,119.1 154.1,119.1 154.2,119.1 154.3,119.1 154.4,119.1 154.5,119.1 154.7,119.2 154.8,119.2 154.9,119.2 155,119.2 155.1,119.2 155.2,119.2 155.3,119.2 155.4,119.3 155.5,119.3 155.6,119.3 155.7,119.3 155.8,119.3 156,119.3 156.1,119.3 156.2,119.3 156.3,119.4 156.4,119.4 156.5,119.4 156.6,119.4 156.7,119.4 156.8,119.4 156.9,119.4 157,119.5 157.1,119.5 157.3,119.5 157.4,119.5 157.5,119.5 157.6,119.5 157.7,119.5 157.8,119.5 157.8,119.5 157.8,141.1 158.1,141.5 158.4,141.7 158.7,142 159,142.1 159.3,142.2 159.6,142.3 159.9,142.4 160.2,142.4 160.5,142.5 160.8,142.5 161,142.5 161.3,142.5 161.6,142.6 161.9,142.6 162.2,142.6 162.5,142.6 162.8,142.6 163.1,142.6 163.4,142.6 163.7,142.6 164,142.6 164.3,142.6 164.6,142.6 164.9,142.6 165.2,142.6 165.5,142.6 165.8,142.6 166.1,142.6 166.4,142.6 166.4,142.6 166.4,118.2 166.5,118.4 166.6,118.5 166.7,118.6 166.8,118.6 166.9,118.7 167,118.7 167.1,118.7 167.2,118.8 167.3,118.8 167.5,118.8 167.6,118.8 167.7,118.8 167.8,118.8 167.9,118.9 168,118.9 168.1,118.9 168.2,118.9 168.3,118.9 168.4,118.9 168.5,118.9 168.6,119 168.8,119 168.9,119 169,119 169.1,119 169.2,119 169.3,119 169.4,119 169.5,119.1 169.6,119.1 169.7,119.1 169.8,119.1 169.9,119.1 170.1,119.1 170.2,119.1 170.3,119.1 170.4,119.2 170.5,119.2 170.6,119.2 170.7,119.2 170.8,119.2 170.9,119.2 171,119.2 171.1,119.2 171.2,119.3 171.4,119.3 171.5,119.3 171.6,119.3 171.7,119.3 171.8,119.3 171.9,119.3 172,119.4 172.1,119.4 172.2,119.4 172.3,119.4 172.4,119.4 172.5,119.4 172.7,119.4 172.8,119.4 172.9,119.5 173,119.5 173.1,119.5 173.2,119.5 173.3,119.5 173.4,119.5 173.5,119.5 173.6,119.5 173.7,119.6 173.8,119.6 174,119.6 174.1,119.6 174.2,119.6 174.3,119.6 174.4,119.6 174.5,119.6 174.6,119.7 174.7,119.7 174.8,119.7 174.9,119.7 174.9,119.7 174.9,141.1 175.2,141.5 175.5,141.7 175.8,142 176.1,142.1 176.4,142.2 176.7,142.3 177,142.4 177.3,142.4 177.6,142.5 177.9,142.5 178.2,142.5 178.5,142.5 178.8,142.6 179.1,142.6 179.4,142.6 179.7,142.6 180,142.6 180.3,142.6 180.5,142.6 180.8,142.6 181.1,142.6 181.4,142.6 181.7,142.6 182,142.6 182.3,142.6 182.6,142.6 182.9,142.6 183.2,142.6 183.5,142.6" fill="none" stroke="#ff6a6a" stroke-width="0.8" stroke-linejoin="round" stroke-dasharray="1.3,0.7"/>
<polyline points="29.3,116.5 29.4,116.8 29.5,117 29.6,117.2 29.7,117.4 29.8,117.6 30,117.7 30.1,117.8 30.2,118 30.3,118.1 30.4,118.2 30.5,118.2 30.6,118.3 30.7,118.4 30.8,118.5 30.9,118.5 31,118.6 31.1,118.7 31.3,118.7 31.4,118.8 31.5,118.8 31.6,118.8 31.7,118.9 31.8,118.9 31.9,119 32,119 32.1,119 32.2,119.1 32.3,119.1 32.4,119.1 32.6,119.2 32.7,119.2 32.8,119.2 32.9,119.2 33,119.3 33.1,119.3 33.2,119.3 33.3,119.4 33.4,119.4 33.5,119.4 33.6,119.4 33.7,119.5 33.9,119.5 34,119.5 34.1,119.6 34.2,119.6 34.3,119.6 34.4,119.6 34.5,119.7 34.6,119.7 34.7,119.7 34.8,119.7 34.9,119.8 35,119.8 35.2,119.8 35.3,119.8 35.4,119.9 35.5,119.9 35.6,119.9 35.7,119.9 35.8,120 35.9,120 36,120 36.1,120 36.2,120.1 36.3,120.1 36.5,120.1 36.6,120.1 36.7,120.2 36.8,120.2 36.9,120.2 37,120.2 37.1,120.3 37.2,120.3 37.3,120.3 37.4,120.3 37.5,120.4 37.6,120.4 37.8,120.4 37.9,120.4 37.9,120.4 37.9,141.7 38.2,142 38.5,142.2 38.8,142.4 39,142.5 39.3,142.6 39.6,142.6 39.9,142.7 40.2,142.7 40.5,142.8 40.8,142.8 41.1,142.8 41.4,142.8 41.7,142.8 42,142.8 42.3,142.8 42.6,142.8 42.9,142.8 43.2,142.8 43.5,142.8 43.8,142.8 44.1,142.8 44.4,142.8 44.7,142.8 45,142.8 45.3,142.8 45.5,142.8 45.8,142.8 46.1,142.8 46.4,142.8 46.4,142.8 46.4,119.1 46.5,119.3 46.7,119.4 46.8,119.5 46.9,119.6 47,119.7 47.1,119.8 47.2,119.8 47.3,119.8 47.4,119.9 47.5,119.9 47.6,119.9 47.7,120 47.8,120 48,120 48.1,120 48.2,120 48.3,120.1 48.4,120.1 48.5,120.1 48.6,120.1 48.7,120.2 48.8,120.2 48.9,120.2 49,120.2 49.1,120.3 49.3,120.3 49.4,120.3 49.5,120.3 49.6,120.3 49.7,120.4 49.8,120.4 49.9,120.4 50,120.4 50.1,120.5 50.2,120.5 50.3,120.5 50.4,120.5 50.6,120.5 50.7,120.6 50.8,120.6 50.9,120.6 51,120.6 51.1,120.7 51.2,120.7 51.3,120.7 51.4,120.7 51.5,120.7 51.6,120.8 51.7,120.8 51.9,120.8 52,120.8 52.1,120.9 52.2,120.9 52.3,120.9 52.4,120.9 52.5,120.9 52.6,121 52.7,121 52.8,121 52.9,121 53,121.1 53.2,121.1 53.3,121.1 53.4,121.1 53.5,121.1 53.6,121.2 53.7,121.2 53.8,121.2 53.9,121.2 54,121.3 54.1,121.3 54.2,121.3 54.3,121.3 54.5,121.3 54.6,121.4 54.7,121.4 54.8,121.4 54.9,121.4 55,121.5 55,121.5 55,141.7 55.3,142 55.6,142.2 55.9,142.4 56.2,142.5 56.5,142.6 56.8,142.6 57.1,142.7 57.4,142.7 57.7,142.8 58,142.8 58.2,142.8 58.5,142.8 58.8,142.8 59.1,142.8 59.4,142.8 59.7,142.8 60,142.8 60.3,142.8 60.6,142.8 60.9,142.8 61.2,142.8 61.5,142.8 61.8,142.8 62.1,142.8 62.4,142.8 62.7,142.8 63,142.8 63.3,142.8 63.6,142.8 63.6,142.8 63.6,119.9 63.7,120.1 63.8,120.2 63.9,120.4 64,120.4 64.1,120.5 64.2,120.6 64.3,120.6 64.4,120.6 64.5,120.7 64.7,120.7 64.8,120.7 64.9,120.8 65,120.8 65.1,120.8 65.2,120.8 65.3,120.8 65.4,120.9 65.5,120.9 65.6,120.9 65.7,120.9 65.8,120.9 66,121 66.1,121 66.2,121 66.3,121 66.4,121 66.5,121.1 66.6,121.1 66.7,121.1 66.8,121.1 66.9,121.1 67,121.2 67.1,121.2 67.3,121.2 67.4,121.2 67.5,121.2 67.6,121.3 67.7,121.3 67.8,121.3 67.9,121.3 68,121.3 68.1,121.4 68.2,121.4 68.3,121.4 68.4,121.4 68.6,121.4 68.7,121.5 68.8,121.5 68.9,121.5 69,121.5 69.1,121.6 69.2,121.6 69.3,121.6 69.4,121.6 69.5,121.6 69.6,121.7 69.7,121.7 69.9,121.7 70,121.7 70.1,121.7 70.2,121.8 70.3,121.8 70.4,121.8 70.5,121.8 70.6,121.8 70.7,121.9 70.8,121.9 70.9,121.9 71,121.9 71.2,121.9 71.3,122 71.4,122 71.5,122 71.6,122 71.7,122 71.8,122.1 71.9,122.1 72,122.1 72.1,122.1 72.1,122.1 72.1,141.7 72.4,142 72.7,142.2 73,142.4 73.3,142.5 73.6,142.6 73.9,142.6 74.2,142.7 74.5,142.7 74.8,142.8 75.1,142.8 75.4,142.8 75.7,142.8 76,142.8 76.3,142.8 76.6,142.8 76.9,142.8 77.2,142.8 77.5,142.8 77.7,142.8 78,142.8 78.3,142.8 78.6,142.8 78.9,142.8 79.2,142.8 79.5,142.8 79.8,142.8 80.1,142.8 80.4,142.8 80.7,142.8 80.7,142.8 80.7,120.6 80.8,120.8 80.9,121 81,121.1 81.1,121.2 81.2,121.2 81.4,121.3 81.5,121.3 81.6,121.4 81.7,121.4 81.8,121.4 81.9,121.5 82,121.5 82.1,121.5 82.2,121.5 82.3,121.5 82.4,121.6 82.5,121.6 82.7,121.6 82.8,121.6 82.9,121.6 83,121.7 83.1,121.7 83.2,121.7 83.3,121.7 83.4,121.7 83.5,121.7 83.6,121.8 83.7,121.8 83.8,121.8 84,121.8 84.1,121.8 84.2,121.9 84.3,121.9 84.4,121.9 84.5,121.9 84.6,121.9 84.7,121.9 84.8,122 84.9,122 85,122 85.1,122 85.3,122 85.4,122.1 85.5,122.1 85.6,122.1 85.7,122.1 85.8,122.1 85.9,122.1 86,122.2 86.1,122.2 86.2,122.2 86.3,122.2 86.4,122.2 86.6,122.3 86.7,122.3 86.8,122.3 86.9,122.3 87,122.3 87.1,122.3 87.2,122.4 87.3,122.4 87.4,122.4 87.5,122.4 87.6,122.4 87.7,122.5 87.9,122.5 88,122.5 88.1,122.5 88.2,122.5 88.3,122.5 88.4,122.6 88.5,122.6 88.6,122.6 88.7,122.6 88.8,122.6 88.9,122.7 89,122.7 89.2,122.7 89.3,122.7 89.3,122.7 89.3,141.7 89.6,142 89.9,142.2 90.2,142.4 90.4,142.5 90.7,142.6 91,142.6 91.3,142.7 91.6,142.7 91.9,142.8 92.2,142.8 92.5,142.8 92.8,142.8 93.1,142.8 93.4,142.8 93.7,142.8 94,142.8 94.3,142.8 94.6,142.8 94.9,142.8 95.2,142.8 95.5,142.8 95.8,142.8 96.1,142.8 96.4,142.8 96.7,142.8 96.9,142.8 97.2,142.8 97.5,142.8 97.8,142.8 97.8,142.8 97.8,121.2 97.9,121.5 98.1,121.6 98.2,121.7 98.3,121.8 98.4,121.9 98.5,121.9 98.6,122 98.7,122 98.8,122.1 98.9,122.1 99,122.1 99.1,122.1 99.2,122.1 99.4,122.2 99.5,122.2 99.6,122.2 99.7,122.2 99.8,122.2 99.9,122.2 100,122.3 100.1,122.3 100.2,122.3 100.3,122.3 100.4,122.3 100.5,122.3 100.7,122.4 100.8,122.4 100.9,122.4 101,122.4 101.1,122.4 101.2,122.4 101.3,122.5 101.4,122.5 101.5,122.5 101.6,122.5 101.7,122.5 101.8,122.5 102,122.6 102.1,122.6 102.2,122.6 102.3,122.6 102.4,122.6 102.5,122.6 102.6,122.7 102.7,122.7 102.8,122.7 102.9,122.7 103,122.7 103.1,122.7 103.3,122.8 103.4,122.8 103.5,122.8 103.6,122.8 103.7,122.8 103.8,122.8 103.9,122.9 104,122.9 104.1,122.9 104.2,122.9 104.3,122.9 104.4,122.9 104.6,123 104.7,123 104.8,123 104.9,123 105,123 105.1,123 105.2,123.1 105.3,123.1 105.4,123.1 105.5,123.1 105.6,123.1 105.7,123.1 105.9,123.2 106,123.2 106.1,123.2 106.2,123.2 106.3,123.2 106.4,123.2 106.4,123.2 106.4,141.7 106.7,142 107,142.2 107.3,142.4 107.6,142.5 107.9,142.6 108.2,142.6 108.5,142.7 108.8,142.7 109.1,142.8 109.4,142.8 109.6,142.8 109.9,142.8 110.2,142.8 110.5,142.8 110.8,142.8 111.1,142.8 111.4,142.8 111.7,142.8 112,142.8 112.3,142.8 112.6,142.8 112.9,142.8 113.2,142.8 113.5,142.8 113.8,142.8 114.1,142.8 114.4,142.8 114.7,142.8 115,142.8 115,142.8 115,121.8 115.1,122 115.2,122.2 115.3,122.3 115.4,122.4 115.5,122.5 115.6,122.5 115.7,122.5 115.8,122.6 115.9,122.6 116.1,122.6 116.2,122.6 116.3,122.7 116.4,122.7 116.5,122.7 116.6,122.7 116.7,122.7 116.8,122.8 116.9,122.8 117,122.8 117.1,122.8 117.2,122.8 117.4,122.8 117.5,122.8 117.6,122.9 117.7,122.9 117.8,122.9 117.9,122.9 118,122.9 118.1,122.9 118.2,123 118.3,123 118.4,123 118.5,123 118.7,123 118.8,123 118.9,123 119,123.1 119.1,123.1 119.2,123.1 119.3,123.1 119.4,123.1 119.5,123.1 119.6,123.1 119.7,123.2 119.8,123.2 120,123.2 120.1,123.2 120.2,123.2 120.3,123.2 120.4,123.3 120.5,123.3 120.6,123.3 120.7,123.3 120.8,123.3 120.9,123.3 121,123.3 121.1,123.4 121.3,123.4 121.4,123.4 121.5,123.4 121.6,123.4 121.7,123.4 121.8,123.5 121.9,123.5 122,123.5 122.1,123.5 122.2,123.5 122.3,123.5 122.4,123.5 122.6,123.6 122.7,123.6 122.8,123.6 122.9,123.6 123,123.6 123.1,123.6 123.2,123.7 123.3,123.7 123.4,123.7 123.5,123.7 123.5,123.7 123.5,141.7 123.8,142 124.1,142.2 124.4,142.4 124.7,142.5 125,142.6 125.3,142.6 125.6,142.7 125.9,142.7 126.2,142.8 126.5,142.8 126.8,142.8 127.1,142.8 127.4,142.8 127.7,142.8 128,142.8 128.3,142.8 128.6,142.8 128.9,142.8 129.1,142.8 129.4,142.8 129.7,142.8 130,142.8 130.3,142.8 130.6,142.8 130.9,142.8 131.2,142.8 131.5,142.8 131.8,142.8 132.1,142.8 132.1,142.8 132.1,122.2 132.2,122.5 132.3,122.6 132.4,122.8 132.5,122.8 132.6,122.9 132.8,123 132.9,123 133,123 133.1,123.1 133.2,123.1 133.3,123.1 133.4,123.1 133.5,123.1 133.6,123.2 133.7,123.2 133.8,123.2 133.9,123.2 134.1,123.2 134.2,123.2 134.3,123.2 134.4,123.3 134.5,123.3 134.6,123.3 134.7,123.3 134.8,123.3 134.9,123.3 135,123.3 135.1,123.4 135.2,123.4 135.4,123.4 135.5,123.4 135.6,123.4 135.7,123.4 135.8,123.4 135.9,123.5 136,123.5 136.1,123.5 136.2,123.5 136.3,123.5 136.4,123.5 136.5,123.5 136.7,123.5 136.8,123.6 136.9,123.6 137,123.6 137.1,123.6 137.2,123.6 137.3,123.6 137.4,123.6 137.5,123.7 137.6,123.7 137.7,123.7 137.8,123.7 138,123.7 138.1,123.7 138.2,123.7 138.3,123.8 138.4,123.8 138.5,123.8 138.6,123.8 138.7,123.8 138.8,123.8 138.9,123.8 139,123.9 139.1,123.9 139.3,123.9 139.4,123.9 139.5,123.9 139.6,123.9 139.7,123.9 139.8,124 139.9,124 140,124 140.1,124 140.2,124 140.3,124 140.4,124 140.6,124.1 140.7,124.1 140.7,124.1 140.7,141.7 141,142 141.3,142.2 141.6,142.4 141.8,142.5 142.1,142.6 142.4,142.6 142.7,142.7 143,142.7 143.3,142.8 143.6,142.8 143.9,142.8 144.2,142.8 144.5,142.8 144.8,142.8 145.1,142.8 145.4,142.8 145.7,142.8 146,142.8 146.3,142.8 146.6,142.8 146.9,142.8 147.2,142.8 147.5,142.8 147.8,142.8 148.1,142.8 148.3,142.8 148.6,142.8 148.9,142.8 149.2,142.8 149.2,142.8 149.2,122.6 149.3,122.8 149.5,123 149.6,123.1 149.7,123.2 149.8,123.2 149.9,123.3 150,123.3 150.1,123.4 150.2,123.4 150.3,123.4 150.4,123.4 150.5,123.4 150.6,123.5 150.8,123.5 150.9,123.5 151,123.5 151.1,123.5 151.2,123.5 151.3,123.6 151.4,123.6 151.5,123.6 151.6,123.6 151.7,123.6 151.8,123.6 151.9,123.6 152.1,123.6 152.2,123.7 152.3,123.7 152.4,123.7 152.5,123.7 152.6,123.7 152.7,123.7 152.8,123.7 152.9,123.7 153,123.8 153.1,123.8 153.2,123.8 153.4,123.8 153.5,123.8 153.6,123.8 153.7,123.8 153.8,123.9 153.9,123.9 154,123.9 154.1,123.9 154.2,123.9 154.3,123.9 154.4,123.9 154.5,123.9 154.7,124 154.8,124 154.9,124 155,124 155.1,124 155.2,124 155.3,124 155.4,124.1 155.5,124.1 155.6,124.1 155.7,124.1 155.8,124.1 156,124.1 156.1,124.1 156.2,124.1 156.3,124.2 156.4,124.2 156.5,124.2 156.6,124.2 156.7,124.2 156.8,124.2 156.9,124.2 157,124.2 157.1,124.3 157.3,124.3 157.4,124.3 157.5,124.3 157.6,124.3 157.7,124.3 157.8,124.3 157.8,124.3 157.8,141.7 158.1,142 158.4,142.2 158.7,142.4 159,142.5 159.3,142.6 159.6,142.6 159.9,142.7 160.2,142.7 160.5,142.8 160.8,142.8 161,142.8 161.3,142.8 161.6,142.8 161.9,142.8 162.2,142.8 162.5,142.8 162.8,142.8 163.1,142.8 163.4,142.8 163.7,142.8 164,142.8 164.3,142.8 164.6,142.8 164.9,142.8 165.2,142.8 165.5,142.8 165.8,142.8 166.1,142.8 166.4,142.8 166.4,142.8 166.4,122.7 166.5,123 166.6,123.1 166.7,123.3 166.8,123.3 166.9,123.4 167,123.5 167.1,123.5 167.2,123.5 167.3,123.6 167.5,123.6 167.6,123.6 167.7,123.6 167.8,123.6 167.9,123.6 168,123.7 168.1,123.7 168.2,123.7 168.3,123.7 168.4,123.7 168.5,123.7 168.6,123.7 168.8,123.7 168.9,123.8 169,123.8 169.1,123.8 169.2,123.8 169.3,123.8 169.4,123.8 169.5,123.8 169.6,123.9 169.7,123.9 169.8,123.9 169.9,123.9 170.1,123.9 170.2,123.9 170.3,123.9 170.4,123.9 170.5,124 170.6,124 170.7,124 170.8,124 170.9,124 171,124 171.1,124 171.2,124 171.4,124.1 171.5,124.1 171.6,124.1 171.7,124.1 171.8,124.1 171.9,124.1 172,124.1 172.1,124.1 172.2,124.2 172.3,124.2 172.4,124.2 172.5,124.2 172.7,124.2 172.8,124.2 172.9,124.2 173,124.2 173.1,124.3 173.2,124.3 173.3,124.3 173.4,124.3 173.5,124.3 173.6,124.3 173.7,124.3 173.8,124.3 174,124.4 174.1,124.4 174.2,124.4 174.3,124.4 174.4,124.4 174.5,124.4 174.6,124.4 174.7,124.5 174.8,124.5 174.9,124.5 174.9,124.5 174.9,141.7 175.2,142 175.5,142.2 175.8,142.4 176.1,142.5 176.4,142.6 176.7,142.6 177,142.7 177.3,142.7 177.6,142.8 177.9,142.8 178.2,142.8 178.5,142.8 178.8,142.8 179.1,142.8 179.4,142.8 179.7,142.8 180,142.8 180.3,142.8 180.5,142.8 180.8,142.8 181.1,142.8 181.4,142.8 181.7,142.8 182,142.8 182.3,142.8 182.6,142.8 182.9,142.8 183.2,142.8 183.5,142.8" fill="none" stroke="#111111" stroke-width="1.1" stroke-linejoin="round"/>
<polyline points="29.3,84.5 29.4,85.3 29.5,86 29.6,86.6 29.7,87.1 29.8,87.6 30,88.1 30.1,88.5 30.2,88.8 30.3,89.1 30.4,89.4 30.5,89.7 30.6,89.9 30.7,90.1 30.8,90.3 30.9,90.5 31,90.6 31.1,90.8 31.3,90.9 31.4,91 31.5,91.1 31.6,91.3 31.7,91.3 31.8,91.4 31.9,91.5 32,91.6 32.1,91.7 32.2,91.8 32.3,91.8 32.4,91.9 32.6,92 32.7,92 32.8,92.1 32.9,92.1 33,92.2 33.1,92.2 33.2,92.3 33.3,92.3 33.4,92.4 33.5,92.5 33.6,92.5 33.7,92.5 33.9,92.6 34,92.6 34.1,92.7 34.2,92.7 34.3,92.8 34.4,92.8 34.5,92.9 34.6,92.9 34.7,93 34.8,93 34.9,93.1 35,93.1 35.2,93.2 35.3,93.2 35.4,93.2 35.5,93.3 35.6,93.3 35.7,93.4 35.8,93.4 35.9,93.5 36,93.5 36.1,93.6 36.2,93.6 36.3,93.7 36.5,93.7 36.6,93.7 36.7,93.8 36.8,93.8 36.9,93.9 37,93.9 37.1,94 37.2,94 37.3,94.1 37.4,94.1 37.5,94.1 37.6,94.2 37.8,94.2 37.9,94.3 37.9,94.3 37.9,141.1 38.2,141.5 38.5,141.7 38.8,142 39,142.1 39.3,142.2 39.6,142.3 39.9,142.4 40.2,142.4 40.5,142.5 40.8,142.5 41.1,142.5 41.4,142.5 41.7,142.6 42,142.6 42.3,142.6 42.6,142.6 42.9,142.6 43.2,142.6 43.5,142.6 43.8,142.6 44.1,142.6 44.4,142.6 44.7,142.6 45,142.6 45.3,142.6 45.5,142.6 45.8,142.6 46.1,142.6 46.4,142.6 46.4,142.6 46.4,93.3 46.5,93.7 46.7,94 46.8,94.2 46.9,94.3 47,94.5 47.1,94.6 47.2,94.6 47.3,94.7 47.4,94.7 47.5,94.8 47.6,94.8 47.7,94.9 47.8,94.9 48,94.9 48.1,95 48.2,95 48.3,95 48.4,95 48.5,95.1 48.6,95.1 48.7,95.1 48.8,95.2 48.9,95.2 49,95.2 49.1,95.2 49.3,95.3 49.4,95.3 49.5,95.3 49.6,95.4 49.7,95.4 49.8,95.4 49.9,95.4 50,95.5 50.1,95.5 50.2,95.5 50.3,95.6 50.4,95.6 50.6,95.6 50.7,95.6 50.8,95.7 50.9,95.7 51,95.7 51.1,95.8 51.2,95.8 51.3,95.8 51.4,95.8 51.5,95.9 51.6,95.9 51.7,95.9 51.9,96 52,96 52.1,96 52.2,96.1 52.3,96.1 52.4,96.1 52.5,96.1 52.6,96.2 52.7,96.2 52.8,96.2 52.9,96.3 53,96.3 53.2,96.3 53.3,96.3 53.4,96.4 53.5,96.4 53.6,96.4 53.7,96.5 53.8,96.5 53.9,96.5 54,96.5 54.1,96.6 54.2,96.6 54.3,96.6 54.5,96.7 54.6,96.7 54.7,96.7 54.8,96.7 54.9,96.8 55,96.8 55,96.8 55,141.1 55.3,141.5 55.6,141.7 55.9,142 56.2,142.1 56.5,142.2 56.8,142.3 57.1,142.4 57.4,142.4 57.7,142.5 58,142.5 58.2,142.5 58.5,142.5 58.8,142.6 59.1,142.6 59.4,142.6 59.7,142.6 60,142.6 60.3,142.6 60.6,142.6 60.9,142.6 61.2,142.6 61.5,142.6 61.8,142.6 62.1,142.6 62.4,142.6 62.7,142.6 63,142.6 63.3,142.6 63.6,142.6 63.6,142.6 63.6,95.2 63.7,95.6 63.8,95.9 63.9,96.1 64,96.2 64.1,96.3 64.2,96.4 64.3,96.5 64.4,96.5 64.5,96.6 64.7,96.6 64.8,96.7 64.9,96.7 65,96.7 65.1,96.7 65.2,96.8 65.3,96.8 65.4,96.8 65.5,96.8 65.6,96.9 65.7,96.9 65.8,96.9 66,96.9 66.1,97 66.2,97 66.3,97 66.4,97 66.5,97.1 66.6,97.1 66.7,97.1 66.8,97.1 66.9,97.2 67,97.2 67.1,97.2 67.3,97.2 67.4,97.3 67.5,97.3 67.6,97.3 67.7,97.3 67.8,97.3 67.9,97.4 68,97.4 68.1,97.4 68.2,97.4 68.3,97.5 68.4,97.5 68.6,97.5 68.7,97.5 68.8,97.6 68.9,97.6 69,97.6 69.1,97.6 69.2,97.7 69.3,97.7 69.4,97.7 69.5,97.7 69.6,97.8 69.7,97.8 69.9,97.8 70,97.8 70.1,97.9 70.2,97.9 70.3,97.9 70.4,97.9 70.5,97.9 70.6,98 70.7,98 70.8,98 70.9,98 71,98.1 71.2,98.1 71.3,98.1 71.4,98.1 71.5,98.2 71.6,98.2 71.7,98.2 71.8,98.2 71.9,98.3 72,98.3 72.1,98.3 72.1,98.3 72.1,141.1 72.4,141.5 72.7,141.7 73,142 73.3,142.1 73.6,142.2 73.9,142.3 74.2,142.4 74.5,142.4 74.8,142.5 75.1,142.5 75.4,142.5 75.7,142.5 76,142.6 76.3,142.6 76.6,142.6 76.9,142.6 77.2,142.6 77.5,142.6 77.7,142.6 78,142.6 78.3,142.6 78.6,142.6 78.9,142.6 79.2,142.6 79.5,142.6 79.8,142.6 80.1,142.6 80.4,142.6 80.7,142.6 80.7,142.6 80.7,96.4 80.8,96.8 80.9,97.1 81,97.3 81.1,97.5 81.2,97.6 81.4,97.7 81.5,97.7 81.6,97.8 81.7,97.8 81.8,97.9 81.9,97.9 82,97.9 82.1,98 82.2,98 82.3,98 82.4,98 82.5,98.1 82.7,98.1 82.8,98.1 82.9,98.1 83,98.1 83.1,98.2 83.2,98.2 83.3,98.2 83.4,98.2 83.5,98.3 83.6,98.3 83.7,98.3 83.8,98.3 84,98.3 84.1,98.4 84.2,98.4 84.3,98.4 84.4,98.4 84.5,98.5 84.6,98.5 84.7,98.5 84.8,98.5 84.9,98.5 85,98.6 85.1,98.6 85.3,98.6 85.4,98.6 85.5,98.7 85.6,98.7 85.7,98.7 85.8,98.7 85.9,98.7 86,98.8 86.1,98.8 86.2,98.8 86.3,98.8 86.4,98.9 86.6,98.9 86.7,98.9 86.8,98.9 86.9,98.9 87,99 87.1,99 87.2,99 87.3,99 87.4,99.1 87.5,99.1 87.6,99.1 87.7,99.1 87.9,99.1 88,99.2 88.1,99.2 88.2,99.2 88.3,99.2 88.4,99.3 88.5,99.3 88.6,99.3 88.7,99.3 88.8,99.3 88.9,99.4 89,99.4 89.2,99.4 89.3,99.4 89.3,99.4 89.3,141.1 89.6,141.5 89.9,141.7 90.2,142 90.4,142.1 90.7,142.2 91,142.3 91.3,142.4 91.6,142.4 91.9,142.5 92.2,142.5 92.5,142.5 92.8,142.5 93.1,142.6 93.4,142.6 93.7,142.6 94,142.6 94.3,142.6 94.6,142.6 94.9,142.6 95.2,142.6 95.5,142.6 95.8,142.6 96.1,142.6 96.4,142.6 96.7,142.6 96.9,142.6 97.2,142.6 97.5,142.6 97.8,142.6 97.8,142.6 97.8,97.3 97.9,97.6 98.1,97.9 98.2,98 98.3,98.1 98.4,98.2 98.5,98.3 98.6,98.4 98.7,98.4 98.8,98.4 98.9,98.5 99,98.5 99.1,98.5 99.2,98.5 99.4,98.6 99.5,98.6 99.6,98.6 99.7,98.6 99.8,98.6 99.9,98.7 100,98.7 100.1,98.7 100.2,98.7 100.3,98.7 100.4,98.8 100.5,98.8 100.7,98.8 100.8,98.8 100.9,98.8 101,98.9 101.1,98.9 101.2,98.9 101.3,98.9 101.4,98.9 101.5,99 101.6,99 101.7,99 101.8,99 102,99 102.1,99.1 102.2,99.1 102.3,99.1 102.4,99.1 102.5,99.1 102.6,99.1 102.7,99.2 102.8,99.2 102.9,99.2 103,99.2 103.1,99.2 103.3,99.3 103.4,99.3 103.5,99.3 103.6,99.3 103.7,99.3 103.8,99.4 103.9,99.4 104,99.4 104.1,99.4 104.2,99.4 104.3,99.5 104.4,99.5 104.6,99.5 104.7,99.5 104.8,99.5 104.9,99.5 105,99.6 105.1,99.6 105.2,99.6 105.3,99.6 105.4,99.6 105.5,99.7 105.6,99.7 105.7,99.7 105.9,99.7 106,99.7 106.1,99.8 106.2,99.8 106.3,99.8 106.4,99.8 106.4,99.8 106.4,141.1 106.7,141.5 107,141.7 107.3,142 107.6,142.1 107.9,142.2 108.2,142.3 108.5,142.4 108.8,142.4 109.1,142.5 109.4,142.5 109.6,142.5 109.9,142.5 110.2,142.6 110.5,142.6 110.8,142.6 111.1,142.6 111.4,142.6 111.7,142.6 112,142.6 112.3,142.6 112.6,142.6 112.9,142.6 113.2,142.6 113.5,142.6 113.8,142.6 114.1,142.6 114.4,142.6 114.7,142.6 115,142.6 115,142.6 115,98.1 115.1,98.3 115.2,98.5 115.3,98.7 115.4,98.8 115.5,98.9 115.6,98.9 115.7,99 115.8,99 115.9,99.1 116.1,99.1 116.2,99.1 116.3,99.2 116.4,99.2 116.5,99.2 116.6,99.2 116.7,99.2 116.8,99.3 116.9,99.3 117,99.3 117.1,99.3 117.2,99.3 117.4,99.4 117.5,99.4 117.6,99.4 117.7,99.4 117.8,99.4 117.9,99.5 118,99.5 118.1,99.5 118.2,99.5 118.3,99.5 118.4,99.5 118.5,99.6 118.7,99.6 118.8,99.6 118.9,99.6 119,99.6 119.1,99.7 119.2,99.7 119.3,99.7 119.4,99.7 119.5,99.7 119.6,99.8 119.7,99.8 119.8,99.8 120,99.8 120.1,99.8 120.2,99.9 120.3,99.9 120.4,99.9 120.5,99.9 120.6,99.9 120.7,99.9 120.8,100 120.9,100 121,100 121.1,100 121.3,100 121.4,100.1 121.5,100.1 121.6,100.1 121.7,100.1 121.8,100.1 121.9,100.2 122,100.2 122.1,100.2 122.2,100.2 122.3,100.2 122.4,100.3 122.6,100.3 122.7,100.3 122.8,100.3 122.9,100.3 123,100.3 123.1,100.4 123.2,100.4 123.3,100.4 123.4,100.4 123.5,100.4 123.5,100.4 123.5,141.1 123.8,141.5 124.1,141.7 124.4,142 124.7,142.1 125,142.2 125.3,142.3 125.6,142.4 125.9,142.4 126.2,142.5 126.5,142.5 126.8,142.5 127.1,142.5 127.4,142.6 127.7,142.6 128,142.6 128.3,142.6 128.6,142.6 128.9,142.6 129.1,142.6 129.4,142.6 129.7,142.6 130,142.6 130.3,142.6 130.6,142.6 130.9,142.6 131.2,142.6 131.5,142.6 131.8,142.6 132.1,142.6 132.1,142.6 132.1,98.6 132.2,98.9 132.3,99.1 132.4,99.3 132.5,99.4 132.6,99.5 132.8,99.5 132.9,99.6 133,99.6 133.1,99.7 133.2,99.7 133.3,99.7 133.4,99.7 133.5,99.8 133.6,99.8 133.7,99.8 133.8,99.8 133.9,99.8 134.1,99.8 134.2,99.9 134.3,99.9 134.4,99.9 134.5,99.9 134.6,99.9 134.7,99.9 134.8,100 134.9,100 135,100 135.1,100 135.2,100 135.4,100 135.5,100.1 135.6,100.1 135.7,100.1 135.8,100.1 135.9,100.1 136,100.1 136.1,100.2 136.2,100.2 136.3,100.2 136.4,100.2 136.5,100.2 136.7,100.2 136.8,100.2 136.9,100.3 137,100.3 137.1,100.3 137.2,100.3 137.3,100.3 137.4,100.3 137.5,100.4 137.6,100.4 137.7,100.4 137.8,100.4 138,100.4 138.1,100.4 138.2,100.5 138.3,100.5 138.4,100.5 138.5,100.5 138.6,100.5 138.7,100.5 138.8,100.6 138.9,100.6 139,100.6 139.1,100.6 139.3,100.6 139.4,100.6 139.5,100.6 139.6,100.7 139.7,100.7 139.8,100.7 139.9,100.7 140,100.7 140.1,100.7 140.2,100.8 140.3,100.8 140.4,100.8 140.6,100.8 140.7,100.8 140.7,100.8 140.7,141.1 141,141.5 141.3,141.7 141.6,142 141.8,142.1 142.1,142.2 142.4,142.3 142.7,142.4 143,142.4 143.3,142.5 143.6,142.5 143.9,142.5 144.2,142.5 144.5,142.6 144.8,142.6 145.1,142.6 145.4,142.6 145.7,142.6 146,142.6 146.3,142.6 146.6,142.6 146.9,142.6 147.2,142.6 147.5,142.6 147.8,142.6 148.1,142.6 148.3,142.6 148.6,142.6 148.9,142.6 149.2,142.6 149.2,142.6 149.2,99.1 149.3,99.4 149.5,99.6 149.6,99.8 149.7,99.9 149.8,100 149.9,100 150,100.1 150.1,100.1 150.2,100.2 150.3,100.2 150.4,100.2 150.5,100.2 150.6,100.3 150.8,100.3 150.9,100.3 151,100.3 151.1,100.3 151.2,100.4 151.3,100.4 151.4,100.4 151.5,100.4 151.6,100.4 151.7,100.4 151.8,100.4 151.9,100.5 152.1,100.5 152.2,100.5 152.3,100.5 152.4,100.5 152.5,100.5 152.6,100.6 152.7,100.6 152.8,100.6 152.9,100.6 153,100.6 153.1,100.6 153.2,100.7 153.4,100.7 153.5,100.7 153.6,100.7 153.7,100.7 153.8,100.7 153.9,100.8 154,100.8 154.1,100.8 154.2,100.8 154.3,100.8 154.4,100.8 154.5,100.8 154.7,100.9 154.8,100.9 154.9,100.9 155,100.9 155.1,100.9 155.2,100.9 155.3,101 155.4,101 155.5,101 155.6,101 155.7,101 155.8,101 156,101.1 156.1,101.1 156.2,101.1 156.3,101.1 156.4,101.1 156.5,101.1 156.6,101.1 156.7,101.2 156.8,101.2 156.9,101.2 157,101.2 157.1,101.2 157.3,101.2 157.4,101.3 157.5,101.3 157.6,101.3 157.7,101.3 157.8,101.3 157.8,101.3 157.8,141.1 158.1,141.5 158.4,141.7 158.7,142 159,142.1 159.3,142.2 159.6,142.3 159.9,142.4 160.2,142.4 160.5,142.5 160.8,142.5 161,142.5 161.3,142.5 161.6,142.6 161.9,142.6 162.2,142.6 162.5,142.6 162.8,142.6 163.1,142.6 163.4,142.6 163.7,142.6 164,142.6 164.3,142.6 164.6,142.6 164.9,142.6 165.2,142.6 165.5,142.6 165.8,142.6 166.1,142.6 166.4,142.6 166.4,142.6 166.4,99.6 166.5,99.9 166.6,100.1 166.7,100.3 166.8,100.4 166.9,100.5 167,100.5 167.1,100.6 167.2,100.6 167.3,100.7 167.5,100.7 167.6,100.7 167.7,100.7 167.8,100.7 167.9,100.8 168,100.8 168.1,100.8 168.2,100.8 168.3,100.8 168.4,100.8 168.5,100.9 168.6,100.9 168.8,100.9 168.9,100.9 169,100.9 169.1,100.9 169.2,100.9 169.3,101 169.4,101 169.5,101 169.6,101 169.7,101 169.8,101 169.9,101 170.1,101.1 170.2,101.1 170.3,101.1 170.4,101.1 170.5,101.1 170.6,101.1 170.7,101.1 170.8,101.2 170.9,101.2 171,101.2 171.1,101.2 171.2,101.2 171.4,101.2 171.5,101.2 171.6,101.3 171.7,101.3 171.8,101.3 171.9,101.3 172,101.3 172.1,101.3 172.2,101.3 172.3,101.4 172.4,101.4 172.5,101.4 172.7,101.4 172.8,101.4 172.9,101.4 173,101.4 173.1,101.5 173.2,101.5 173.3,101.5 173.4,101.5 173.5,101.5 173.6,101.5 173.7,101.5 173.8,101.6 174,101.6 174.1,101.6 174.2,101.6 174.3,101.6 174.4,101.6 174.5,101.6 174.6,101.7 174.7,101.7 174.8,101.7 174.9,101.7 174.9,101.7 174.9,141.1 175.2,141.5 175.5,141.7 175.8,142 176.1,142.1 176.4,142.2 176.7,142.3 177,142.4 177.3,142.4 177.6,142.5 177.9,142.5 178.2,142.5 178.5,142.5 178.8,142.6 179.1,142.6 179.4,142.6 179.7,142.6 180,142.6 180.3,142.6 180.5,142.6 180.8,142.6 181.1,142.6 181.4,142.6 181.7,142.6 182,142.6 182.3,142.6 182.6,142.6 182.9,142.6 183.2,142.6 183.5,142.6" fill="none" stroke="#7a22c8" stroke-width="1.1" stroke-linejoin="round"/>
<polyline points="29.3,55.5 29.4,56.7 29.5,57.8 29.6,58.7 29.7,59.5 29.8,60.2 30,60.9 30.1,61.5 30.2,62 30.3,62.5 30.4,62.9 30.5,63.2 30.6,63.6 30.7,63.9 30.8,64.2 30.9,64.4 31,64.6 31.1,64.8 31.3,65 31.4,65.2 31.5,65.4 31.6,65.5 31.7,65.6 31.8,65.8 31.9,65.9 32,66 32.1,66.1 32.2,66.2 32.3,66.3 32.4,66.4 32.6,66.5 32.7,66.6 32.8,66.6 32.9,66.7 33,66.8 33.1,66.9 33.2,66.9 33.3,67 33.4,67.1 33.5,67.1 33.6,67.2 33.7,67.3 33.9,67.3 34,67.4 34.1,67.5 34.2,67.5 34.3,67.6 34.4,67.6 34.5,67.7 34.6,67.8 34.7,67.8 34.8,67.9 34.9,67.9 35,68 35.2,68 35.3,68.1 35.4,68.2 35.5,68.2 35.6,68.3 35.7,68.3 35.8,68.4 35.9,68.5 36,68.5 36.1,68.6 36.2,68.6 36.3,68.7 36.5,68.7 36.6,68.8 36.7,68.9 36.8,68.9 36.9,69 37,69 37.1,69.1 37.2,69.1 37.3,69.2 37.4,69.3 37.5,69.3 37.6,69.4 37.8,69.4 37.9,69.5 37.9,69.5 37.9,141.7 38.2,142.1 38.5,142.3 38.8,142.5 39,142.7 39.3,142.8 39.6,142.8 39.9,142.9 40.2,143 40.5,143 40.8,143 41.1,143 41.4,143.1 41.7,143.1 42,143.1 42.3,143.1 42.6,143.1 42.9,143.1 43.2,143.1 43.5,143.1 43.8,143.1 44.1,143.1 44.4,143.1 44.7,143.1 45,143.1 45.3,143.1 45.5,143.1 45.8,143.1 46.1,143.1 46.4,143.1 46.4,143.1 46.4,66.9 46.5,67.3 46.7,67.6 46.8,67.8 46.9,68 47,68.1 47.1,68.2 47.2,68.3 47.3,68.4 47.4,68.4 47.5,68.5 47.6,68.5 47.7,68.6 47.8,68.6 48,68.7 48.1,68.7 48.2,68.7 48.3,68.8 48.4,68.8 48.5,68.9 48.6,68.9 48.7,68.9 48.8,69 48.9,69 49,69.1 49.1,69.1 49.3,69.1 49.4,69.2 49.5,69.2 49.6,69.3 49.7,69.3 49.8,69.3 49.9,69.4 50,69.4 50.1,69.5 50.2,69.5 50.3,69.5 50.4,69.6 50.6,69.6 50.7,69.7 50.8,69.7 50.9,69.7 51,69.8 51.1,69.8 51.2,69.9 51.3,69.9 51.4,69.9 51.5,70 51.6,70 51.7,70.1 51.9,70.1 52,70.1 52.1,70.2 52.2,70.2 52.3,70.3 52.4,70.3 52.5,70.3 52.6,70.4 52.7,70.4 52.8,70.5 52.9,70.5 53,70.5 53.2,70.6 53.3,70.6 53.4,70.7 53.5,70.7 53.6,70.7 53.7,70.8 53.8,70.8 53.9,70.9 54,70.9 54.1,70.9 54.2,71 54.3,71 54.5,71.1 54.6,71.1 54.7,71.1 54.8,71.2 54.9,71.2 55,71.3 55,71.3 55,141.7 55.3,142.1 55.6,142.3 55.9,142.5 56.2,142.7 56.5,142.8 56.8,142.8 57.1,142.9 57.4,143 57.7,143 58,143 58.2,143 58.5,143.1 58.8,143.1 59.1,143.1 59.4,143.1 59.7,143.1 60,143.1 60.3,143.1 60.6,143.1 60.9,143.1 61.2,143.1 61.5,143.1 61.8,143.1 62.1,143.1 62.4,143.1 62.7,143.1 63,143.1 63.3,143.1 63.6,143.1 63.6,143.1 63.6,69 63.7,69.4 63.8,69.7 63.9,69.9 64,70.1 64.1,70.2 64.2,70.3 64.3,70.4 64.4,70.5 64.5,70.5 64.7,70.6 64.8,70.6 64.9,70.7 65,70.7 65.1,70.8 65.2,70.8 65.3,70.8 65.4,70.9 65.5,70.9 65.6,70.9 65.7,71 65.8,71 66,71.1 66.1,71.1 66.2,71.1 66.3,71.2 66.4,71.2 66.5,71.2 66.6,71.3 66.7,71.3 66.8,71.3 66.9,71.4 67,71.4 67.1,71.5 67.3,71.5 67.4,71.5 67.5,71.6 67.6,71.6 67.7,71.6 67.8,71.7 67.9,71.7 68,71.7 68.1,71.8 68.2,71.8 68.3,71.9 68.4,71.9 68.6,71.9 68.7,72 68.8,72 68.9,72 69,72.1 69.1,72.1 69.2,72.2 69.3,72.2 69.4,72.2 69.5,72.3 69.6,72.3 69.7,72.3 69.9,72.4 70,72.4 70.1,72.4 70.2,72.5 70.3,72.5 70.4,72.6 70.5,72.6 70.6,72.6 70.7,72.7 70.8,72.7 70.9,72.7 71,72.8 71.2,72.8 71.3,72.8 71.4,72.9 71.5,72.9 71.6,73 71.7,73 71.8,73 71.9,73.1 72,73.1 72.1,73.1 72.1,73.1 72.1,141.7 72.4,142.1 72.7,142.3 73,142.5 73.3,142.7 73.6,142.8 73.9,142.8 74.2,142.9 74.5,143 74.8,143 75.1,143 75.4,143 75.7,143.1 76,143.1 76.3,143.1 76.6,143.1 76.9,143.1 77.2,143.1 77.5,143.1 77.7,143.1 78,143.1 78.3,143.1 78.6,143.1 78.9,143.1 79.2,143.1 79.5,143.1 79.8,143.1 80.1,143.1 80.4,143.1 80.7,143.1 80.7,143.1 80.7,70.4 80.8,70.8 80.9,71.1 81,71.3 81.1,71.5 81.2,71.6 81.4,71.7 81.5,71.8 81.6,71.8 81.7,71.9 81.8,71.9 81.9,72 82,72 82.1,72 82.2,72.1 82.3,72.1 82.4,72.1 82.5,72.2 82.7,72.2 82.8,72.2 82.9,72.3 83,72.3 83.1,72.3 83.2,72.4 83.3,72.4 83.4,72.4 83.5,72.5 83.6,72.5 83.7,72.5 83.8,72.6 84,72.6 84.1,72.6 84.2,72.7 84.3,72.7 84.4,72.7 84.5,72.7 84.6,72.8 84.7,72.8 84.8,72.8 84.9,72.9 85,72.9 85.1,72.9 85.3,73 85.4,73 85.5,73 85.6,73.1 85.7,73.1 85.8,73.1 85.9,73.2 86,73.2 86.1,73.2 86.2,73.3 86.3,73.3 86.4,73.3 86.6,73.4 86.7,73.4 86.8,73.4 86.9,73.4 87,73.5 87.1,73.5 87.2,73.5 87.3,73.6 87.4,73.6 87.5,73.6 87.6,73.7 87.7,73.7 87.9,73.7 88,73.8 88.1,73.8 88.2,73.8 88.3,73.9 88.4,73.9 88.5,73.9 88.6,74 88.7,74 88.8,74 88.9,74.1 89,74.1 89.2,74.1 89.3,74.1 89.3,74.1 89.3,141.7 89.6,142.1 89.9,142.3 90.2,142.5 90.4,142.7 90.7,142.8 91,142.8 91.3,142.9 91.6,143 91.9,143 92.2,143 92.5,143 92.8,143.1 93.1,143.1 93.4,143.1 93.7,143.1 94,143.1 94.3,143.1 94.6,143.1 94.9,143.1 95.2,143.1 95.5,143.1 95.8,143.1 96.1,143.1 96.4,143.1 96.7,143.1 96.9,143.1 97.2,143.1 97.5,143.1 97.8,143.1 97.8,143.1 97.8,71.9 97.9,72.3 98.1,72.6 98.2,72.8 98.3,73 98.4,73.1 98.5,73.2 98.6,73.2 98.7,73.3 98.8,73.4 98.9,73.4 99,73.4 99.1,73.5 99.2,73.5 99.4,73.5 99.5,73.6 99.6,73.6 99.7,73.6 99.8,73.7 99.9,73.7 100,73.7 100.1,73.7 100.2,73.8 100.3,73.8 100.4,73.8 100.5,73.9 100.7,73.9 100.8,73.9 100.9,73.9 101,74 101.1,74 101.2,74 101.3,74.1 101.4,74.1 101.5,74.1 101.6,74.1 101.7,74.2 101.8,74.2 102,74.2 102.1,74.3 102.2,74.3 102.3,74.3 102.4,74.3 102.5,74.4 102.6,74.4 102.7,74.4 102.8,74.5 102.9,74.5 103,74.5 103.1,74.5 103.3,74.6 103.4,74.6 103.5,74.6 103.6,74.7 103.7,74.7 103.8,74.7 103.9,74.7 104,74.8 104.1,74.8 104.2,74.8 104.3,74.9 104.4,74.9 104.6,74.9 104.7,74.9 104.8,75 104.9,75 105,75 105.1,75.1 105.2,75.1 105.3,75.1 105.4,75.1 105.5,75.2 105.6,75.2 105.7,75.2 105.9,75.3 106,75.3 106.1,75.3 106.2,75.3 106.3,75.4 106.4,75.4 106.4,75.4 106.4,141.7 106.7,142.1 107,142.3 107.3,142.5 107.6,142.7 107.9,142.8 108.2,142.8 108.5,142.9 108.8,143 109.1,143 109.4,143 109.6,143 109.9,143.1 110.2,143.1 110.5,143.1 110.8,143.1 111.1,143.1 111.4,143.1 111.7,143.1 112,143.1 112.3,143.1 112.6,143.1 112.9,143.1 113.2,143.1 113.5,143.1 113.8,143.1 114.1,143.1 114.4,143.1 114.7,143.1 115,143.1 115,143.1 115,72.9 115.1,73.3 115.2,73.6 115.3,73.8 115.4,74 115.5,74.1 115.6,74.2 115.7,74.2 115.8,74.3 115.9,74.3 116.1,74.4 116.2,74.4 116.3,74.5 116.4,74.5 116.5,74.5 116.6,74.5 116.7,74.6 116.8,74.6 116.9,74.6 117,74.7 117.1,74.7 117.2,74.7 117.4,74.7 117.5,74.8 117.6,74.8 117.7,74.8 117.8,74.9 117.9,74.9 118,74.9 118.1,74.9 118.2,75 118.3,75 118.4,75 118.5,75 118.7,75.1 118.8,75.1 118.9,75.1 119,75.2 119.1,75.2 119.2,75.2 119.3,75.2 119.4,75.3 119.5,75.3 119.6,75.3 119.7,75.3 119.8,75.4 120,75.4 120.1,75.4 120.2,75.4 120.3,75.5 120.4,75.5 120.5,75.5 120.6,75.6 120.7,75.6 120.8,75.6 120.9,75.6 121,75.7 121.1,75.7 121.3,75.7 121.4,75.7 121.5,75.8 121.6,75.8 121.7,75.8 121.8,75.9 121.9,75.9 122,75.9 122.1,75.9 122.2,76 122.3,76 122.4,76 122.6,76 122.7,76.1 122.8,76.1 122.9,76.1 123,76.2 123.1,76.2 123.2,76.2 123.3,76.2 123.4,76.3 123.5,76.3 123.5,76.3 123.5,141.7 123.8,142.1 124.1,142.3 124.4,142.5 124.7,142.7 125,142.8 125.3,142.8 125.6,142.9 125.9,143 126.2,143 126.5,143 126.8,143 127.1,143.1 127.4,143.1 127.7,143.1 128,143.1 128.3,143.1 128.6,143.1 128.9,143.1 129.1,143.1 129.4,143.1 129.7,143.1 130,143.1 130.3,143.1 130.6,143.1 130.9,143.1 131.2,143.1 131.5,143.1 131.8,143.1 132.1,143.1 132.1,143.1 132.1,73.8 132.2,74.2 132.3,74.5 132.4,74.7 132.5,74.8 132.6,75 132.8,75 132.9,75.1 133,75.2 133.1,75.2 133.2,75.3 133.3,75.3 133.4,75.3 133.5,75.4 133.6,75.4 133.7,75.4 133.8,75.5 133.9,75.5 134.1,75.5 134.2,75.5 134.3,75.6 134.4,75.6 134.5,75.6 134.6,75.7 134.7,75.7 134.8,75.7 134.9,75.7 135,75.8 135.1,75.8 135.2,75.8 135.4,75.8 135.5,75.9 135.6,75.9 135.7,75.9 135.8,75.9 135.9,76 136,76 136.1,76 136.2,76.1 136.3,76.1 136.4,76.1 136.5,76.1 136.7,76.2 136.8,76.2 136.9,76.2 137,76.2 137.1,76.3 137.2,76.3 137.3,76.3 137.4,76.4 137.5,76.4 137.6,76.4 137.7,76.4 137.8,76.5 138,76.5 138.1,76.5 138.2,76.5 138.3,76.6 138.4,76.6 138.5,76.6 138.6,76.7 138.7,76.7 138.8,76.7 138.9,76.7 139,76.8 139.1,76.8 139.3,76.8 139.4,76.8 139.5,76.9 139.6,76.9 139.7,76.9 139.8,77 139.9,77 140,77 140.1,77 140.2,77.1 140.3,77.1 140.4,77.1 140.6,77.1 140.7,77.2 140.7,77.2 140.7,141.7 141,142.1 141.3,142.3 141.6,142.5 141.8,142.7 142.1,142.8 142.4,142.8 142.7,142.9 143,143 143.3,143 143.6,143 143.9,143 144.2,143.1 144.5,143.1 144.8,143.1 145.1,143.1 145.4,143.1 145.7,143.1 146,143.1 146.3,143.1 146.6,143.1 146.9,143.1 147.2,143.1 147.5,143.1 147.8,143.1 148.1,143.1 148.3,143.1 148.6,143.1 148.9,143.1 149.2,143.1 149.2,143.1 149.2,74.7 149.3,75 149.5,75.2 149.6,75.4 149.7,75.5 149.8,75.6 149.9,75.7 150,75.8 150.1,75.8 150.2,75.9 150.3,75.9 150.4,76 150.5,76 150.6,76 150.8,76.1 150.9,76.1 151,76.1 151.1,76.1 151.2,76.2 151.3,76.2 151.4,76.2 151.5,76.3 151.6,76.3 151.7,76.3 151.8,76.3 151.9,76.4 152.1,76.4 152.2,76.4 152.3,76.5 152.4,76.5 152.5,76.5 152.6,76.5 152.7,76.6 152.8,76.6 152.9,76.6 153,76.7 153.1,76.7 153.2,76.7 153.4,76.7 153.5,76.8 153.6,76.8 153.7,76.8 153.8,76.9 153.9,76.9 154,76.9 154.1,76.9 154.2,77 154.3,77 154.4,77 154.5,77.1 154.7,77.1 154.8,77.1 154.9,77.1 155,77.2 155.1,77.2 155.2,77.2 155.3,77.3 155.4,77.3 155.5,77.3 155.6,77.3 155.7,77.4 155.8,77.4 156,77.4 156.1,77.5 156.2,77.5 156.3,77.5 156.4,77.6 156.5,77.6 156.6,77.6 156.7,77.6 156.8,77.7 156.9,77.7 157,77.7 157.1,77.8 157.3,77.8 157.4,77.8 157.5,77.8 157.6,77.9 157.7,77.9 157.8,77.9 157.8,77.9 157.8,141.7 158.1,142.1 158.4,142.3 158.7,142.5 159,142.7 159.3,142.8 159.6,142.8 159.9,142.9 160.2,143 160.5,143 160.8,143 161,143 161.3,143.1 161.6,143.1 161.9,143.1 162.2,143.1 162.5,143.1 162.8,143.1 163.1,143.1 163.4,143.1 163.7,143.1 164,143.1 164.3,143.1 164.6,143.1 164.9,143.1 165.2,143.1 165.5,143.1 165.8,143.1 166.1,143.1 166.4,143.1 166.4,143.1 166.4,75.4 166.5,75.7 166.6,76 166.7,76.1 166.8,76.3 166.9,76.4 167,76.5 167.1,76.5 167.2,76.6 167.3,76.6 167.5,76.6 167.6,76.7 167.7,76.7 167.8,76.7 167.9,76.8 168,76.8 168.1,76.8 168.2,76.8 168.3,76.9 168.4,76.9 168.5,76.9 168.6,76.9 168.8,77 168.9,77 169,77 169.1,77.1 169.2,77.1 169.3,77.1 169.4,77.1 169.5,77.2 169.6,77.2 169.7,77.2 169.8,77.2 169.9,77.3 170.1,77.3 170.2,77.3 170.3,77.3 170.4,77.4 170.5,77.4 170.6,77.4 170.7,77.4 170.8,77.5 170.9,77.5 171,77.5 171.1,77.5 171.2,77.6 171.4,77.6 171.5,77.6 171.6,77.6 171.7,77.7 171.8,77.7 171.9,77.7 172,77.7 172.1,77.8 172.2,77.8 172.3,77.8 172.4,77.8 172.5,77.9 172.7,77.9 172.8,77.9 172.9,77.9 173,78 173.1,78 173.2,78 173.3,78 173.4,78.1 173.5,78.1 173.6,78.1 173.7,78.1 173.8,78.2 174,78.2 174.1,78.2 174.2,78.2 174.3,78.3 174.4,78.3 174.5,78.3 174.6,78.3 174.7,78.4 174.8,78.4 174.9,78.4 174.9,78.4 174.9,141.7 175.2,142.1 175.5,142.3 175.8,142.5 176.1,142.7 176.4,142.8 176.7,142.8 177,142.9 177.3,143 177.6,143 177.9,143 178.2,143 178.5,143.1 178.8,143.1 179.1,143.1 179.4,143.1 179.7,143.1 180,143.1 180.3,143.1 180.5,143.1 180.8,143.1 181.1,143.1 181.4,143.1 181.7,143.1 182,143.1 182.3,143.1 182.6,143.1 182.9,143.1 183.2,143.1 183.5,143.1" fill="none" stroke="#f9ad0d" stroke-width="1.2" stroke-linejoin="round"/>
<polyline points="29.3,73.1 29.4,74.7 29.5,76.2 29.6,77.4 29.7,78.6 29.8,79.6 30,80.5 30.1,81.3 30.2,82 30.3,82.6 30.4,83.2 30.5,83.8 30.6,84.2 30.7,84.7 30.8,85.1 30.9,85.4 31,85.7 31.1,86 31.3,86.3 31.4,86.6 31.5,86.8 31.6,87 31.7,87.3 31.8,87.5 31.9,87.6 32,87.8 32.1,88 32.2,88.1 32.3,88.3 32.4,88.5 32.6,88.6 32.7,88.7 32.8,88.9 32.9,89 33,89.1 33.1,89.3 33.2,89.4 33.3,89.5 33.4,89.6 33.5,89.7 33.6,89.8 33.7,90 33.9,90.1 34,90.2 34.1,90.3 34.2,90.4 34.3,90.5 34.4,90.6 34.5,90.7 34.6,90.8 34.7,91 34.8,91.1 34.9,91.2 35,91.3 35.2,91.4 35.3,91.5 35.4,91.6 35.5,91.7 35.6,91.8 35.7,91.9 35.8,92 35.9,92.1 36,92.2 36.1,92.3 36.2,92.4 36.3,92.6 36.5,92.7 36.6,92.8 36.7,92.9 36.8,93 36.9,93.1 37,93.2 37.1,93.3 37.2,93.4 37.3,93.5 37.4,93.6 37.5,93.7 37.6,93.8 37.8,93.9 37.9,94 37.9,94 37.9,139.2 38.2,139.9 38.5,140.5 38.8,140.9 39,141.2 39.3,141.4 39.6,141.6 39.9,141.7 40.2,141.8 40.5,141.9 40.8,141.9 41.1,142 41.4,142 41.7,142 42,142 42.3,142.1 42.6,142.1 42.9,142.1 43.2,142.1 43.5,142.1 43.8,142.1 44.1,142.1 44.4,142.1 44.7,142.1 45,142.1 45.3,142.1 45.5,142.1 45.8,142.1 46.1,142.1 46.4,142.1 46.4,142.1 46.4,89.9 46.5,91 46.7,91.8 46.8,92.4 46.9,92.9 47,93.2 47.1,93.4 47.2,93.6 47.3,93.7 47.4,93.8 47.5,93.9 47.6,94 47.7,94 47.8,94.1 48,94.1 48.1,94.2 48.2,94.3 48.3,94.3 48.4,94.4 48.5,94.4 48.6,94.4 48.7,94.5 48.8,94.5 48.9,94.6 49,94.6 49.1,94.7 49.3,94.7 49.4,94.8 49.5,94.8 49.6,94.9 49.7,94.9 49.8,95 49.9,95 50,95 50.1,95.1 50.2,95.1 50.3,95.2 50.4,95.2 50.6,95.3 50.7,95.3 50.8,95.4 50.9,95.4 51,95.5 51.1,95.5 51.2,95.6 51.3,95.6 51.4,95.6 51.5,95.7 51.6,95.7 51.7,95.8 51.9,95.8 52,95.9 52.1,95.9 52.2,96 52.3,96 52.4,96.1 52.5,96.1 52.6,96.2 52.7,96.2 52.8,96.2 52.9,96.3 53,96.3 53.2,96.4 53.3,96.4 53.4,96.5 53.5,96.5 53.6,96.6 53.7,96.6 53.8,96.7 53.9,96.7 54,96.8 54.1,96.8 54.2,96.8 54.3,96.9 54.5,96.9 54.6,97 54.7,97 54.8,97.1 54.9,97.1 55,97.2 55,97.2 55,139.2 55.3,139.9 55.6,140.5 55.9,140.9 56.2,141.2 56.5,141.4 56.8,141.6 57.1,141.7 57.4,141.8 57.7,141.9 58,141.9 58.2,142 58.5,142 58.8,142 59.1,142 59.4,142.1 59.7,142.1 60,142.1 60.3,142.1 60.6,142.1 60.9,142.1 61.2,142.1 61.5,142.1 61.8,142.1 62.1,142.1 62.4,142.1 62.7,142.1 63,142.1 63.3,142.1 63.6,142.1 63.6,142.1 63.6,93.3 63.7,94.3 63.8,95 63.9,95.5 64,95.9 64.1,96.2 64.2,96.4 64.3,96.5 64.4,96.7 64.5,96.7 64.7,96.8 64.8,96.9 64.9,96.9 65,97 65.1,97 65.2,97.1 65.3,97.1 65.4,97.2 65.5,97.2 65.6,97.2 65.7,97.3 65.8,97.3 66,97.3 66.1,97.4 66.2,97.4 66.3,97.5 66.4,97.5 66.5,97.5 66.6,97.6 66.7,97.6 66.8,97.6 66.9,97.7 67,97.7 67.1,97.8 67.3,97.8 67.4,97.8 67.5,97.9 67.6,97.9 67.7,97.9 67.8,98 67.9,98 68,98 68.1,98.1 68.2,98.1 68.3,98.2 68.4,98.2 68.6,98.2 68.7,98.3 68.8,98.3 68.9,98.3 69,98.4 69.1,98.4 69.2,98.4 69.3,98.5 69.4,98.5 69.5,98.6 69.6,98.6 69.7,98.6 69.9,98.7 70,98.7 70.1,98.7 70.2,98.8 70.3,98.8 70.4,98.9 70.5,98.9 70.6,98.9 70.7,99 70.8,99 70.9,99 71,99.1 71.2,99.1 71.3,99.1 71.4,99.2 71.5,99.2 71.6,99.3 71.7,99.3 71.8,99.3 71.9,99.4 72,99.4 72.1,99.4 72.1,99.4 72.1,139.2 72.4,139.9 72.7,140.5 73,140.9 73.3,141.2 73.6,141.4 73.9,141.6 74.2,141.7 74.5,141.8 74.8,141.9 75.1,141.9 75.4,142 75.7,142 76,142 76.3,142 76.6,142.1 76.9,142.1 77.2,142.1 77.5,142.1 77.7,142.1 78,142.1 78.3,142.1 78.6,142.1 78.9,142.1 79.2,142.1 79.5,142.1 79.8,142.1 80.1,142.1 80.4,142.1 80.7,142.1 80.7,142.1 80.7,95.2 80.8,96.1 80.9,96.8 81,97.3 81.1,97.7 81.2,97.9 81.4,98.1 81.5,98.3 81.6,98.4 81.7,98.5 81.8,98.5 81.9,98.6 82,98.6 82.1,98.7 82.2,98.7 82.3,98.8 82.4,98.8 82.5,98.8 82.7,98.9 82.8,98.9 82.9,98.9 83,99 83.1,99 83.2,99 83.3,99.1 83.4,99.1 83.5,99.1 83.6,99.2 83.7,99.2 83.8,99.2 84,99.3 84.1,99.3 84.2,99.3 84.3,99.4 84.4,99.4 84.5,99.4 84.6,99.5 84.7,99.5 84.8,99.5 84.9,99.5 85,99.6 85.1,99.6 85.3,99.6 85.4,99.7 85.5,99.7 85.6,99.7 85.7,99.8 85.8,99.8 85.9,99.8 86,99.9 86.1,99.9 86.2,99.9 86.3,100 86.4,100 86.6,100 86.7,100.1 86.8,100.1 86.9,100.1 87,100.2 87.1,100.2 87.2,100.2 87.3,100.2 87.4,100.3 87.5,100.3 87.6,100.3 87.7,100.4 87.9,100.4 88,100.4 88.1,100.5 88.2,100.5 88.3,100.5 88.4,100.6 88.5,100.6 88.6,100.6 88.7,100.7 88.8,100.7 88.9,100.7 89,100.8 89.2,100.8 89.3,100.8 89.3,100.8 89.3,139.2 89.6,139.9 89.9,140.5 90.2,140.9 90.4,141.2 90.7,141.4 91,141.6 91.3,141.7 91.6,141.8 91.9,141.9 92.2,141.9 92.5,142 92.8,142 93.1,142 93.4,142 93.7,142.1 94,142.1 94.3,142.1 94.6,142.1 94.9,142.1 95.2,142.1 95.5,142.1 95.8,142.1 96.1,142.1 96.4,142.1 96.7,142.1 96.9,142.1 97.2,142.1 97.5,142.1 97.8,142.1 97.8,142.1 97.8,96.4 97.9,97.4 98.1,98.1 98.2,98.6 98.3,98.9 98.4,99.2 98.5,99.4 98.6,99.5 98.7,99.6 98.8,99.7 98.9,99.8 99,99.8 99.1,99.9 99.2,99.9 99.4,99.9 99.5,100 99.6,100 99.7,100 99.8,100.1 99.9,100.1 100,100.1 100.1,100.2 100.2,100.2 100.3,100.2 100.4,100.3 100.5,100.3 100.7,100.3 100.8,100.3 100.9,100.4 101,100.4 101.1,100.4 101.2,100.5 101.3,100.5 101.4,100.5 101.5,100.5 101.6,100.6 101.7,100.6 101.8,100.6 102,100.7 102.1,100.7 102.2,100.7 102.3,100.7 102.4,100.8 102.5,100.8 102.6,100.8 102.7,100.9 102.8,100.9 102.9,100.9 103,100.9 103.1,101 103.3,101 103.4,101 103.5,101.1 103.6,101.1 103.7,101.1 103.8,101.1 103.9,101.2 104,101.2 104.1,101.2 104.2,101.3 104.3,101.3 104.4,101.3 104.6,101.3 104.7,101.4 104.8,101.4 104.9,101.4 105,101.5 105.1,101.5 105.2,101.5 105.3,101.5 105.4,101.6 105.5,101.6 105.6,101.6 105.7,101.7 105.9,101.7 106,101.7 106.1,101.7 106.2,101.8 106.3,101.8 106.4,101.8 106.4,101.8 106.4,139.2 106.7,139.9 107,140.5 107.3,140.9 107.6,141.2 107.9,141.4 108.2,141.6 108.5,141.7 108.8,141.8 109.1,141.9 109.4,141.9 109.6,142 109.9,142 110.2,142 110.5,142 110.8,142.1 111.1,142.1 111.4,142.1 111.7,142.1 112,142.1 112.3,142.1 112.6,142.1 112.9,142.1 113.2,142.1 113.5,142.1 113.8,142.1 114.1,142.1 114.4,142.1 114.7,142.1 115,142.1 115,142.1 115,97.7 115.1,98.6 115.2,99.2 115.3,99.7 115.4,100 115.5,100.2 115.6,100.4 115.7,100.5 115.8,100.6 115.9,100.7 116.1,100.7 116.2,100.8 116.3,100.8 116.4,100.9 116.5,100.9 116.6,100.9 116.7,101 116.8,101 116.9,101 117,101.1 117.1,101.1 117.2,101.1 117.4,101.1 117.5,101.2 117.6,101.2 117.7,101.2 117.8,101.2 117.9,101.3 118,101.3 118.1,101.3 118.2,101.3 118.3,101.4 118.4,101.4 118.5,101.4 118.7,101.4 118.8,101.5 118.9,101.5 119,101.5 119.1,101.5 119.2,101.6 119.3,101.6 119.4,101.6 119.5,101.6 119.6,101.7 119.7,101.7 119.8,101.7 120,101.7 120.1,101.8 120.2,101.8 120.3,101.8 120.4,101.8 120.5,101.9 120.6,101.9 120.7,101.9 120.8,101.9 120.9,102 121,102 121.1,102 121.3,102 121.4,102.1 121.5,102.1 121.6,102.1 121.7,102.2 121.8,102.2 121.9,102.2 122,102.2 122.1,102.3 122.2,102.3 122.3,102.3 122.4,102.3 122.6,102.4 122.7,102.4 122.8,102.4 122.9,102.4 123,102.5 123.1,102.5 123.2,102.5 123.3,102.5 123.4,102.6 123.5,102.6 123.5,102.6 123.5,139.2 123.8,139.9 124.1,140.5 124.4,140.9 124.7,141.2 125,141.4 125.3,141.6 125.6,141.7 125.9,141.8 126.2,141.9 126.5,141.9 126.8,142 127.1,142 127.4,142 127.7,142 128,142.1 128.3,142.1 128.6,142.1 128.9,142.1 129.1,142.1 129.4,142.1 129.7,142.1 130,142.1 130.3,142.1 130.6,142.1 130.9,142.1 131.2,142.1 131.5,142.1 131.8,142.1 132.1,142.1 132.1,142.1 132.1,98.6 132.2,99.4 132.3,100 132.4,100.4 132.5,100.7 132.6,100.9 132.8,101 132.9,101.2 133,101.2 133.1,101.3 133.2,101.4 133.3,101.4 133.4,101.5 133.5,101.5 133.6,101.5 133.7,101.5 133.8,101.6 133.9,101.6 134.1,101.6 134.2,101.7 134.3,101.7 134.4,101.7 134.5,101.7 134.6,101.7 134.7,101.8 134.8,101.8 134.9,101.8 135,101.8 135.1,101.9 135.2,101.9 135.4,101.9 135.5,101.9 135.6,102 135.7,102 135.8,102 135.9,102 136,102.1 136.1,102.1 136.2,102.1 136.3,102.1 136.4,102.2 136.5,102.2 136.7,102.2 136.8,102.2 136.9,102.3 137,102.3 137.1,102.3 137.2,102.3 137.3,102.3 137.4,102.4 137.5,102.4 137.6,102.4 137.7,102.4 137.8,102.5 138,102.5 138.1,102.5 138.2,102.5 138.3,102.6 138.4,102.6 138.5,102.6 138.6,102.6 138.7,102.7 138.8,102.7 138.9,102.7 139,102.7 139.1,102.8 139.3,102.8 139.4,102.8 139.5,102.8 139.6,102.8 139.7,102.9 139.8,102.9 139.9,102.9 140,102.9 140.1,103 140.2,103 140.3,103 140.4,103 140.6,103.1 140.7,103.1 140.7,103.1 140.7,139.2 141,139.9 141.3,140.5 141.6,140.9 141.8,141.2 142.1,141.4 142.4,141.6 142.7,141.7 143,141.8 143.3,141.9 143.6,141.9 143.9,142 144.2,142 144.5,142 144.8,142 145.1,142.1 145.4,142.1 145.7,142.1 146,142.1 146.3,142.1 146.6,142.1 146.9,142.1 147.2,142.1 147.5,142.1 147.8,142.1 148.1,142.1 148.3,142.1 148.6,142.1 148.9,142.1 149.2,142.1 149.2,142.1 149.2,99.3 149.3,100.1 149.5,100.7 149.6,101 149.7,101.3 149.8,101.5 149.9,101.7 150,101.8 150.1,101.9 150.2,101.9 150.3,102 150.4,102 150.5,102.1 150.6,102.1 150.8,102.1 150.9,102.2 151,102.2 151.1,102.2 151.2,102.2 151.3,102.2 151.4,102.3 151.5,102.3 151.6,102.3 151.7,102.3 151.8,102.4 151.9,102.4 152.1,102.4 152.2,102.4 152.3,102.5 152.4,102.5 152.5,102.5 152.6,102.5 152.7,102.5 152.8,102.6 152.9,102.6 153,102.6 153.1,102.6 153.2,102.7 153.4,102.7 153.5,102.7 153.6,102.7 153.7,102.7 153.8,102.8 153.9,102.8 154,102.8 154.1,102.8 154.2,102.9 154.3,102.9 154.4,102.9 154.5,102.9 154.7,102.9 154.8,103 154.9,103 155,103 155.1,103 155.2,103.1 155.3,103.1 155.4,103.1 155.5,103.1 155.6,103.1 155.7,103.2 155.8,103.2 156,103.2 156.1,103.2 156.2,103.3 156.3,103.3 156.4,103.3 156.5,103.3 156.6,103.3 156.7,103.4 156.8,103.4 156.9,103.4 157,103.4 157.1,103.5 157.3,103.5 157.4,103.5 157.5,103.5 157.6,103.5 157.7,103.6 157.8,103.6 157.8,103.6 157.8,139.2 158.1,139.9 158.4,140.5 158.7,140.9 159,141.2 159.3,141.4 159.6,141.6 159.9,141.7 160.2,141.8 160.5,141.9 160.8,141.9 161,142 161.3,142 161.6,142 161.9,142 162.2,142.1 162.5,142.1 162.8,142.1 163.1,142.1 163.4,142.1 163.7,142.1 164,142.1 164.3,142.1 164.6,142.1 164.9,142.1 165.2,142.1 165.5,142.1 165.8,142.1 166.1,142.1 166.4,142.1 166.4,142.1 166.4,99.8 166.5,100.6 166.6,101.2 166.7,101.5 166.8,101.8 166.9,102 167,102.2 167.1,102.3 167.2,102.4 167.3,102.4 167.5,102.5 167.6,102.5 167.7,102.5 167.8,102.6 167.9,102.6 168,102.6 168.1,102.7 168.2,102.7 168.3,102.7 168.4,102.7 168.5,102.7 168.6,102.8 168.8,102.8 168.9,102.8 169,102.8 169.1,102.8 169.2,102.9 169.3,102.9 169.4,102.9 169.5,102.9 169.6,103 169.7,103 169.8,103 169.9,103 170.1,103 170.2,103.1 170.3,103.1 170.4,103.1 170.5,103.1 170.6,103.1 170.7,103.2 170.8,103.2 170.9,103.2 171,103.2 171.1,103.2 171.2,103.3 171.4,103.3 171.5,103.3 171.6,103.3 171.7,103.3 171.8,103.4 171.9,103.4 172,103.4 172.1,103.4 172.2,103.4 172.3,103.5 172.4,103.5 172.5,103.5 172.7,103.5 172.8,103.6 172.9,103.6 173,103.6 173.1,103.6 173.2,103.6 173.3,103.7 173.4,103.7 173.5,103.7 173.6,103.7 173.7,103.7 173.8,103.8 174,103.8 174.1,103.8 174.2,103.8 174.3,103.8 174.4,103.9 174.5,103.9 174.6,103.9 174.7,103.9 174.8,103.9 174.9,104 174.9,104 174.9,139.2 175.2,139.9 175.5,140.5 175.8,140.9 176.1,141.2 176.4,141.4 176.7,141.6 177,141.7 177.3,141.8 177.6,141.9 177.9,141.9 178.2,142 178.5,142 178.8,142 179.1,142 179.4,142.1 179.7,142.1 180,142.1 180.3,142.1 180.5,142.1 180.8,142.1 181.1,142.1 181.4,142.1 181.7,142.1 182,142.1 182.3,142.1 182.6,142.1 182.9,142.1 183.2,142.1 183.5,142.1" fill="none" stroke="#1a86d8" stroke-width="1.2" stroke-linejoin="round"/>
<polyline points="29.3,29.4 29.4,30.9 29.5,32.2 29.6,33.4 29.7,34.5 29.8,35.5 30,36.3 30.1,37 30.2,37.7 30.3,38.3 30.4,38.8 30.5,39.3 30.6,39.8 30.7,40.1 30.8,40.5 30.9,40.8 31,41.1 31.1,41.3 31.3,41.6 31.4,41.8 31.5,42 31.6,42.2 31.7,42.3 31.8,42.5 31.9,42.6 32,42.8 32.1,42.9 32.2,43 32.3,43.1 32.4,43.2 32.6,43.3 32.7,43.4 32.8,43.5 32.9,43.6 33,43.7 33.1,43.8 33.2,43.9 33.3,43.9 33.4,44 33.5,44.1 33.6,44.2 33.7,44.2 33.9,44.3 34,44.4 34.1,44.4 34.2,44.5 34.3,44.6 34.4,44.6 34.5,44.7 34.6,44.8 34.7,44.9 34.8,44.9 34.9,45 35,45 35.2,45.1 35.3,45.2 35.4,45.2 35.5,45.3 35.6,45.4 35.7,45.4 35.8,45.5 35.9,45.6 36,45.6 36.1,45.7 36.2,45.8 36.3,45.8 36.5,45.9 36.6,46 36.7,46 36.8,46.1 36.9,46.1 37,46.2 37.1,46.3 37.2,46.3 37.3,46.4 37.4,46.5 37.5,46.5 37.6,46.6 37.8,46.7 37.9,46.7 37.9,46.7 37.9,137.8 38.2,138.2 38.5,138.5 38.8,138.7 39,138.8 39.3,139 39.6,139.1 39.9,139.1 40.2,139.2 40.5,139.2 40.8,139.2 41.1,139.3 41.4,139.3 41.7,139.3 42,139.3 42.3,139.3 42.6,139.3 42.9,139.3 43.2,139.3 43.5,139.3 43.8,139.3 44.1,139.3 44.4,139.3 44.7,139.3 45,139.3 45.3,139.3 45.5,139.3 45.8,139.3 46.1,139.3 46.4,139.3 46.4,139.3 46.4,41.3 46.5,42.8 46.7,43.9 46.8,44.6 46.9,45.2 47,45.5 47.1,45.8 47.2,46 47.3,46.2 47.4,46.3 47.5,46.4 47.6,46.5 47.7,46.6 47.8,46.6 48,46.7 48.1,46.8 48.2,46.8 48.3,46.9 48.4,46.9 48.5,47 48.6,47 48.7,47.1 48.8,47.1 48.9,47.2 49,47.2 49.1,47.2 49.3,47.3 49.4,47.3 49.5,47.4 49.6,47.4 49.7,47.5 49.8,47.5 49.9,47.6 50,47.6 50.1,47.7 50.2,47.7 50.3,47.8 50.4,47.8 50.6,47.8 50.7,47.9 50.8,47.9 50.9,48 51,48 51.1,48.1 51.2,48.1 51.3,48.2 51.4,48.2 51.5,48.3 51.6,48.3 51.7,48.4 51.9,48.4 52,48.4 52.1,48.5 52.2,48.5 52.3,48.6 52.4,48.6 52.5,48.7 52.6,48.7 52.7,48.8 52.8,48.8 52.9,48.9 53,48.9 53.2,49 53.3,49 53.4,49 53.5,49.1 53.6,49.1 53.7,49.2 53.8,49.2 53.9,49.3 54,49.3 54.1,49.4 54.2,49.4 54.3,49.5 54.5,49.5 54.6,49.6 54.7,49.6 54.8,49.6 54.9,49.7 55,49.7 55,49.7 55,137.8 55.3,138.2 55.6,138.5 55.9,138.7 56.2,138.8 56.5,139 56.8,139.1 57.1,139.1 57.4,139.2 57.7,139.2 58,139.2 58.2,139.3 58.5,139.3 58.8,139.3 59.1,139.3 59.4,139.3 59.7,139.3 60,139.3 60.3,139.3 60.6,139.3 60.9,139.3 61.2,139.3 61.5,139.3 61.8,139.3 62.1,139.3 62.4,139.3 62.7,139.3 63,139.3 63.3,139.3 63.6,139.3 63.6,139.3 63.6,43.8 63.7,45 63.8,45.8 63.9,46.4 64,46.8 64.1,47.1 64.2,47.3 64.3,47.5 64.4,47.6 64.5,47.7 64.7,47.8 64.8,47.9 64.9,48 65,48 65.1,48.1 65.2,48.2 65.3,48.2 65.4,48.3 65.5,48.3 65.6,48.3 65.7,48.4 65.8,48.4 66,48.5 66.1,48.5 66.2,48.6 66.3,48.6 66.4,48.7 66.5,48.7 66.6,48.8 66.7,48.8 66.8,48.9 66.9,48.9 67,49 67.1,49 67.3,49 67.4,49.1 67.5,49.1 67.6,49.2 67.7,49.2 67.8,49.3 67.9,49.3 68,49.4 68.1,49.4 68.2,49.5 68.3,49.5 68.4,49.6 68.6,49.6 68.7,49.6 68.8,49.7 68.9,49.7 69,49.8 69.1,49.8 69.2,49.9 69.3,49.9 69.4,50 69.5,50 69.6,50.1 69.7,50.1 69.9,50.2 70,50.2 70.1,50.2 70.2,50.3 70.3,50.3 70.4,50.4 70.5,50.4 70.6,50.5 70.7,50.5 70.8,50.6 70.9,50.6 71,50.7 71.2,50.7 71.3,50.8 71.4,50.8 71.5,50.8 71.6,50.9 71.7,50.9 71.8,51 71.9,51 72,51.1 72.1,51.1 72.1,51.1 72.1,137.8 72.4,138.2 72.7,138.5 73,138.7 73.3,138.8 73.6,139 73.9,139.1 74.2,139.1 74.5,139.2 74.8,139.2 75.1,139.2 75.4,139.3 75.7,139.3 76,139.3 76.3,139.3 76.6,139.3 76.9,139.3 77.2,139.3 77.5,139.3 77.7,139.3 78,139.3 78.3,139.3 78.6,139.3 78.9,139.3 79.2,139.3 79.5,139.3 79.8,139.3 80.1,139.3 80.4,139.3 80.7,139.3 80.7,139.3 80.7,46.5 80.8,47.7 80.9,48.6 81,49.2 81.1,49.7 81.2,50 81.4,50.3 81.5,50.4 81.6,50.6 81.7,50.7 81.8,50.8 81.9,50.8 82,50.9 82.1,50.9 82.2,51 82.3,51 82.4,51.1 82.5,51.1 82.7,51.1 82.8,51.2 82.9,51.2 83,51.3 83.1,51.3 83.2,51.3 83.3,51.4 83.4,51.4 83.5,51.4 83.6,51.5 83.7,51.5 83.8,51.6 84,51.6 84.1,51.6 84.2,51.7 84.3,51.7 84.4,51.7 84.5,51.8 84.6,51.8 84.7,51.8 84.8,51.9 84.9,51.9 85,52 85.1,52 85.3,52 85.4,52.1 85.5,52.1 85.6,52.1 85.7,52.2 85.8,52.2 85.9,52.3 86,52.3 86.1,52.3 86.2,52.4 86.3,52.4 86.4,52.4 86.6,52.5 86.7,52.5 86.8,52.5 86.9,52.6 87,52.6 87.1,52.7 87.2,52.7 87.3,52.7 87.4,52.8 87.5,52.8 87.6,52.8 87.7,52.9 87.9,52.9 88,52.9 88.1,53 88.2,53 88.3,53.1 88.4,53.1 88.5,53.1 88.6,53.2 88.7,53.2 88.8,53.2 88.9,53.3 89,53.3 89.2,53.4 89.3,53.4 89.3,53.4 89.3,137.8 89.6,138.2 89.9,138.5 90.2,138.7 90.4,138.8 90.7,139 91,139.1 91.3,139.1 91.6,139.2 91.9,139.2 92.2,139.2 92.5,139.3 92.8,139.3 93.1,139.3 93.4,139.3 93.7,139.3 94,139.3 94.3,139.3 94.6,139.3 94.9,139.3 95.2,139.3 95.5,139.3 95.8,139.3 96.1,139.3 96.4,139.3 96.7,139.3 96.9,139.3 97.2,139.3 97.5,139.3 97.8,139.3 97.8,139.3 97.8,47.5 97.9,48.6 98.1,49.4 98.2,50 98.3,50.4 98.4,50.8 98.5,51 98.6,51.2 98.7,51.3 98.8,51.4 98.9,51.5 99,51.6 99.1,51.6 99.2,51.7 99.4,51.7 99.5,51.8 99.6,51.9 99.7,51.9 99.8,51.9 99.9,52 100,52 100.1,52.1 100.2,52.1 100.3,52.2 100.4,52.2 100.5,52.3 100.7,52.3 100.8,52.4 100.9,52.4 101,52.5 101.1,52.5 101.2,52.6 101.3,52.6 101.4,52.6 101.5,52.7 101.6,52.7 101.7,52.8 101.8,52.8 102,52.9 102.1,52.9 102.2,53 102.3,53 102.4,53.1 102.5,53.1 102.6,53.2 102.7,53.2 102.8,53.2 102.9,53.3 103,53.3 103.1,53.4 103.3,53.4 103.4,53.5 103.5,53.5 103.6,53.6 103.7,53.6 103.8,53.7 103.9,53.7 104,53.8 104.1,53.8 104.2,53.8 104.3,53.9 104.4,53.9 104.6,54 104.7,54 104.8,54.1 104.9,54.1 105,54.2 105.1,54.2 105.2,54.3 105.3,54.3 105.4,54.4 105.5,54.4 105.6,54.4 105.7,54.5 105.9,54.5 106,54.6 106.1,54.6 106.2,54.7 106.3,54.7 106.4,54.8 106.4,54.8 106.4,137.8 106.7,138.2 107,138.5 107.3,138.7 107.6,138.8 107.9,139 108.2,139.1 108.5,139.1 108.8,139.2 109.1,139.2 109.4,139.2 109.6,139.3 109.9,139.3 110.2,139.3 110.5,139.3 110.8,139.3 111.1,139.3 111.4,139.3 111.7,139.3 112,139.3 112.3,139.3 112.6,139.3 112.9,139.3 113.2,139.3 113.5,139.3 113.8,139.3 114.1,139.3 114.4,139.3 114.7,139.3 115,139.3 115,139.3 115,49.2 115.1,50.9 115.2,52.1 115.3,52.9 115.4,53.5 115.5,53.9 115.6,54.2 115.7,54.4 115.8,54.5 115.9,54.6 116.1,54.7 116.2,54.8 116.3,54.8 116.4,54.9 116.5,54.9 116.6,54.9 116.7,55 116.8,55 116.9,55 117,55 117.1,55.1 117.2,55.1 117.4,55.1 117.5,55.1 117.6,55.1 117.7,55.2 117.8,55.2 117.9,55.2 118,55.2 118.1,55.2 118.2,55.3 118.3,55.3 118.4,55.3 118.5,55.3 118.7,55.4 118.8,55.4 118.9,55.4 119,55.4 119.1,55.4 119.2,55.5 119.3,55.5 119.4,55.5 119.5,55.5 119.6,55.5 119.7,55.6 119.8,55.6 120,55.6 120.1,55.6 120.2,55.6 120.3,55.7 120.4,55.7 120.5,55.7 120.6,55.7 120.7,55.7 120.8,55.8 120.9,55.8 121,55.8 121.1,55.8 121.3,55.8 121.4,55.9 121.5,55.9 121.6,55.9 121.7,55.9 121.8,56 121.9,56 122,56 122.1,56 122.2,56 122.3,56.1 122.4,56.1 122.6,56.1 122.7,56.1 122.8,56.1 122.9,56.2 123,56.2 123.1,56.2 123.2,56.2 123.3,56.2 123.4,56.3 123.5,56.3 123.5,56.3 123.5,137.8 123.8,138.2 124.1,138.5 124.4,138.7 124.7,138.8 125,139 125.3,139.1 125.6,139.1 125.9,139.2 126.2,139.2 126.5,139.2 126.8,139.3 127.1,139.3 127.4,139.3 127.7,139.3 128,139.3 128.3,139.3 128.6,139.3 128.9,139.3 129.1,139.3 129.4,139.3 129.7,139.3 130,139.3 130.3,139.3 130.6,139.3 130.9,139.3 131.2,139.3 131.5,139.3 131.8,139.3 132.1,139.3 132.1,139.3 132.1,50.9 132.2,52.3 132.3,53.3 132.4,54 132.5,54.5 132.6,54.9 132.8,55.2 132.9,55.4 133,55.5 133.1,55.6 133.2,55.7 133.3,55.8 133.4,55.8 133.5,55.9 133.6,55.9 133.7,55.9 133.8,56 133.9,56 134.1,56 134.2,56.1 134.3,56.1 134.4,56.1 134.5,56.2 134.6,56.2 134.7,56.2 134.8,56.2 134.9,56.3 135,56.3 135.1,56.3 135.2,56.4 135.4,56.4 135.5,56.4 135.6,56.4 135.7,56.5 135.8,56.5 135.9,56.5 136,56.6 136.1,56.6 136.2,56.6 136.3,56.6 136.4,56.7 136.5,56.7 136.7,56.7 136.8,56.8 136.9,56.8 137,56.8 137.1,56.8 137.2,56.9 137.3,56.9 137.4,56.9 137.5,57 137.6,57 137.7,57 137.8,57 138,57.1 138.1,57.1 138.2,57.1 138.3,57.2 138.4,57.2 138.5,57.2 138.6,57.2 138.7,57.3 138.8,57.3 138.9,57.3 139,57.4 139.1,57.4 139.3,57.4 139.4,57.4 139.5,57.5 139.6,57.5 139.7,57.5 139.8,57.6 139.9,57.6 140,57.6 140.1,57.6 140.2,57.7 140.3,57.7 140.4,57.7 140.6,57.8 140.7,57.8 140.7,57.8 140.7,137.8 141,138.2 141.3,138.5 141.6,138.7 141.8,138.8 142.1,139 142.4,139.1 142.7,139.1 143,139.2 143.3,139.2 143.6,139.2 143.9,139.3 144.2,139.3 144.5,139.3 144.8,139.3 145.1,139.3 145.4,139.3 145.7,139.3 146,139.3 146.3,139.3 146.6,139.3 146.9,139.3 147.2,139.3 147.5,139.3 147.8,139.3 148.1,139.3 148.3,139.3 148.6,139.3 148.9,139.3 149.2,139.3 149.2,139.3 149.2,51.6 149.3,53.1 149.5,54.1 149.6,54.8 149.7,55.3 149.8,55.7 149.9,55.9 150,56.1 150.1,56.3 150.2,56.4 150.3,56.4 150.4,56.5 150.5,56.6 150.6,56.6 150.8,56.7 150.9,56.7 151,56.7 151.1,56.8 151.2,56.8 151.3,56.8 151.4,56.9 151.5,56.9 151.6,56.9 151.7,56.9 151.8,57 151.9,57 152.1,57 152.2,57.1 152.3,57.1 152.4,57.1 152.5,57.1 152.6,57.2 152.7,57.2 152.8,57.2 152.9,57.3 153,57.3 153.1,57.3 153.2,57.3 153.4,57.4 153.5,57.4 153.6,57.4 153.7,57.5 153.8,57.5 153.9,57.5 154,57.5 154.1,57.6 154.2,57.6 154.3,57.6 154.4,57.7 154.5,57.7 154.7,57.7 154.8,57.7 154.9,57.8 155,57.8 155.1,57.8 155.2,57.9 155.3,57.9 155.4,57.9 155.5,57.9 155.6,58 155.7,58 155.8,58 156,58.1 156.1,58.1 156.2,58.1 156.3,58.1 156.4,58.2 156.5,58.2 156.6,58.2 156.7,58.3 156.8,58.3 156.9,58.3 157,58.3 157.1,58.4 157.3,58.4 157.4,58.4 157.5,58.5 157.6,58.5 157.7,58.5 157.8,58.5 157.8,58.5 157.8,137.8 158.1,138.2 158.4,138.5 158.7,138.7 159,138.8 159.3,139 159.6,139.1 159.9,139.1 160.2,139.2 160.5,139.2 160.8,139.2 161,139.3 161.3,139.3 161.6,139.3 161.9,139.3 162.2,139.3 162.5,139.3 162.8,139.3 163.1,139.3 163.4,139.3 163.7,139.3 164,139.3 164.3,139.3 164.6,139.3 164.9,139.3 165.2,139.3 165.5,139.3 165.8,139.3 166.1,139.3 166.4,139.3 166.4,139.3 166.4,51.6 166.5,53.5 166.6,54.8 166.7,55.7 166.8,56.4 166.9,56.8 167,57.2 167.1,57.4 167.2,57.6 167.3,57.7 167.5,57.8 167.6,57.8 167.7,57.9 167.8,57.9 167.9,57.9 168,58 168.1,58 168.2,58 168.3,58 168.4,58 168.5,58 168.6,58.1 168.8,58.1 168.9,58.1 169,58.1 169.1,58.1 169.2,58.1 169.3,58.1 169.4,58.1 169.5,58.2 169.6,58.2 169.7,58.2 169.8,58.2 169.9,58.2 170.1,58.2 170.2,58.2 170.3,58.3 170.4,58.3 170.5,58.3 170.6,58.3 170.7,58.3 170.8,58.3 170.9,58.3 171,58.3 171.1,58.4 171.2,58.4 171.4,58.4 171.5,58.4 171.6,58.4 171.7,58.4 171.8,58.4 171.9,58.4 172,58.5 172.1,58.5 172.2,58.5 172.3,58.5 172.4,58.5 172.5,58.5 172.7,58.5 172.8,58.5 172.9,58.6 173,58.6 173.1,58.6 173.2,58.6 173.3,58.6 173.4,58.6 173.5,58.6 173.6,58.6 173.7,58.7 173.8,58.7 174,58.7 174.1,58.7 174.2,58.7 174.3,58.7 174.4,58.7 174.5,58.7 174.6,58.8 174.7,58.8 174.8,58.8 174.9,58.8 174.9,58.8 174.9,137.8 175.2,138.2 175.5,138.5 175.8,138.7 176.1,138.8 176.4,139 176.7,139.1 177,139.1 177.3,139.2 177.6,139.2 177.9,139.2 178.2,139.3 178.5,139.3 178.8,139.3 179.1,139.3 179.4,139.3 179.7,139.3 180,139.3 180.3,139.3 180.5,139.3 180.8,139.3 181.1,139.3 181.4,139.3 181.7,139.3 182,139.3 182.3,139.3 182.6,139.3 182.9,139.3 183.2,139.3 183.5,139.3" fill="none" stroke="#ff1b1b" stroke-width="1.5" stroke-linejoin="round"/>
</g>
<rect x="29.3" y="5.2" width="154.2" height="138.4" fill="none" stroke="#111111" stroke-width="1.4"/>
<line x1="29.3" y1="143.6" x2="29.3" y2="141.4" stroke="#111111" stroke-width="0.9"/>
<text x="29.3" y="152.4" font-size="7.3" text-anchor="middle" font-weight="bold" fill="#111111">0</text>
<line x1="55" y1="143.6" x2="55" y2="141.4" stroke="#111111" stroke-width="0.9"/>
<text x="55" y="152.4" font-size="7.3" text-anchor="middle" font-weight="bold" fill="#111111">30</text>
<line x1="80.7" y1="143.6" x2="80.7" y2="141.4" stroke="#111111" stroke-width="0.9"/>
<text x="80.7" y="152.4" font-size="7.3" text-anchor="middle" font-weight="bold" fill="#111111">60</text>
<line x1="106.4" y1="143.6" x2="106.4" y2="141.4" stroke="#111111" stroke-width="0.9"/>
<text x="106.4" y="152.4" font-size="7.3" text-anchor="middle" font-weight="bold" fill="#111111">90</text>
<line x1="132.1" y1="143.6" x2="132.1" y2="141.4" stroke="#111111" stroke-width="0.9"/>
<text x="132.1" y="152.4" font-size="7.3" text-anchor="middle" font-weight="bold" fill="#111111">120</text>
<line x1="157.8" y1="143.6" x2="157.8" y2="141.4" stroke="#111111" stroke-width="0.9"/>
<text x="157.8" y="152.4" font-size="7.3" text-anchor="middle" font-weight="bold" fill="#111111">150</text>
<line x1="183.5" y1="143.6" x2="183.5" y2="141.4" stroke="#111111" stroke-width="0.9"/>
<text x="183.5" y="152.4" font-size="7.3" text-anchor="middle" font-weight="bold" fill="#111111">180</text>
<line x1="42.1" y1="143.6" x2="42.1" y2="142.3" stroke="#111111" stroke-width="0.8"/>
<line x1="67.8" y1="143.6" x2="67.8" y2="142.3" stroke="#111111" stroke-width="0.8"/>
<line x1="93.5" y1="143.6" x2="93.5" y2="142.3" stroke="#111111" stroke-width="0.8"/>
<line x1="119.2" y1="143.6" x2="119.2" y2="142.3" stroke="#111111" stroke-width="0.8"/>
<line x1="144.9" y1="143.6" x2="144.9" y2="142.3" stroke="#111111" stroke-width="0.8"/>
<line x1="170.7" y1="143.6" x2="170.7" y2="142.3" stroke="#111111" stroke-width="0.8"/>
<line x1="29.3" y1="143.6" x2="31.5" y2="143.6" stroke="#111111" stroke-width="0.9"/>
<text x="26.8" y="146.1" font-size="7.3" text-anchor="end" font-weight="bold" fill="#111111">0.00</text>
<line x1="29.3" y1="118.4" x2="31.5" y2="118.4" stroke="#111111" stroke-width="0.9"/>
<text x="26.8" y="120.9" font-size="7.3" text-anchor="end" font-weight="bold" fill="#111111">0.20</text>
<line x1="29.3" y1="93.3" x2="31.5" y2="93.3" stroke="#111111" stroke-width="0.9"/>
<text x="26.8" y="95.8" font-size="7.3" text-anchor="end" font-weight="bold" fill="#111111">0.40</text>
<line x1="29.3" y1="68.1" x2="31.5" y2="68.1" stroke="#111111" stroke-width="0.9"/>
<text x="26.8" y="70.6" font-size="7.3" text-anchor="end" font-weight="bold" fill="#111111">0.60</text>
<line x1="29.3" y1="42.9" x2="31.5" y2="42.9" stroke="#111111" stroke-width="0.9"/>
<text x="26.8" y="45.4" font-size="7.3" text-anchor="end" font-weight="bold" fill="#111111">0.80</text>
<line x1="29.3" y1="17.8" x2="31.5" y2="17.8" stroke="#111111" stroke-width="0.9"/>
<text x="26.8" y="20.3" font-size="7.3" text-anchor="end" font-weight="bold" fill="#111111">1.00</text>
<line x1="29.3" y1="131" x2="30.6" y2="131" stroke="#111111" stroke-width="0.8"/>
<line x1="29.3" y1="105.9" x2="30.6" y2="105.9" stroke="#111111" stroke-width="0.8"/>
<line x1="29.3" y1="80.7" x2="30.6" y2="80.7" stroke="#111111" stroke-width="0.8"/>
<line x1="29.3" y1="55.5" x2="30.6" y2="55.5" stroke="#111111" stroke-width="0.8"/>
<line x1="29.3" y1="30.4" x2="30.6" y2="30.4" stroke="#111111" stroke-width="0.8"/>
<text x="104.5" y="159.3" font-size="8" text-anchor="middle" font-weight="bold" fill="#111111">Time (min)</text>
<text x="10.8" y="73.9" font-size="8.1" text-anchor="middle" font-weight="bold" fill="#111111" transform="rotate(-90 10.8 73.9)">Photocurrent density (mA cm<tspan dy="-2.5" font-size="5.5">-2</tspan><tspan dy="2.5">)</tspan></text>
<text x="40.7" y="16.8" font-size="12.1" text-anchor="middle" font-weight="bold" fill="#111111">(a)</text>
<line x1="83" y1="9.2" x2="96" y2="9.2" stroke="#555555" stroke-width="0.8" stroke-dasharray="1.3,0.7"/>
<text x="98.6" y="11.2" font-size="5.7" text-anchor="start" font-weight="bold" fill="#111111">CN</text>
<line x1="83" y1="17" x2="96" y2="17" stroke="#9b6be0" stroke-width="0.8" stroke-dasharray="1.3,0.7"/>
<text x="98.6" y="19" font-size="5.7" text-anchor="start" font-weight="bold" fill="#111111">CN:PDI</text>
<line x1="83" y1="24.6" x2="96" y2="24.6" stroke="#4a6ae8" stroke-width="0.8" stroke-dasharray="1.3,0.7"/>
<text x="98.6" y="26.6" font-size="5.7" text-anchor="start" font-weight="bold" fill="#111111">Exf. CN:PDI</text>
<line x1="83" y1="31.8" x2="96" y2="31.8" stroke="#f7b93a" stroke-width="0.8" stroke-dasharray="1.3,0.7"/>
<text x="98.6" y="33.8" font-size="5.7" text-anchor="start" font-weight="bold" fill="#111111">CdS</text>
<line x1="83" y1="39.4" x2="96" y2="39.4" stroke="#ff6a6a" stroke-width="0.8" stroke-dasharray="1.3,0.7"/>
<text x="98.6" y="41.4" font-size="5.7" text-anchor="start" font-weight="bold" fill="#111111">CdS/CN:PDI</text>
<line x1="136" y1="12.6" x2="148" y2="12.6" stroke="#111111" stroke-width="1.2"/>
<text x="150.4" y="14.6" font-size="5.6" text-anchor="start" font-weight="bold" fill="#111111">CN</text>
<line x1="136" y1="19.6" x2="148" y2="19.6" stroke="#7a22c8" stroke-width="1.2"/>
<text x="150.4" y="21.6" font-size="5.6" text-anchor="start" font-weight="bold" fill="#111111">CN:PDI</text>
<line x1="136" y1="26.8" x2="148" y2="26.8" stroke="#1a86d8" stroke-width="1.2"/>
<text x="150.4" y="28.8" font-size="5.6" text-anchor="start" font-weight="bold" fill="#111111">Exf. CN:PDI</text>
<line x1="136" y1="33.8" x2="148" y2="33.8" stroke="#f9ad0d" stroke-width="1.2"/>
<text x="150.4" y="35.8" font-size="5.6" text-anchor="start" font-weight="bold" fill="#111111">CdS</text>
<line x1="136" y1="41" x2="148" y2="41" stroke="#ff1b1b" stroke-width="1.2"/>
<text x="150.4" y="43" font-size="5.6" text-anchor="start" font-weight="bold" fill="#111111">CdS/CN:PDI</text>
<clipPath id="cb"><rect x="210.5" y="6.4" width="153.8" height="137.4"/></clipPath>
<g clip-path="url(#cb)">
<polyline points="210.5,83.7 211.8,82.8 213.1,82 214.4,81.2 215.7,80.3 217,79.5 218.3,78.7 219.5,78 220.8,77.2 222.1,76.4 223.4,75.7 224.7,75 226,74.3 227.3,73.6 228.6,72.9 229.9,72.2 231.2,71.6 232.5,70.9 233.8,70.3 235.1,69.7 236.3,69.1 237.6,68.5 238.9,68 240.2,67.4 241.5,66.9 242.8,66.4 244.1,65.9 245.4,65.4 246.7,64.9 248,64.4 249.3,64 250.6,63.7 251.9,63.4 253.2,63.2 254.4,63 255.7,62.9 257,62.7 258.3,62.6 259.6,62.4 260.9,62.3 262.2,62.2 263.5,62.1 264.8,61.9 266.1,61.8 267.4,61.7 268.7,61.6 270,61.6 271.2,61.5 272.5,61.4 273.8,61.3 275.1,61.2 276.4,61.1 277.7,61 279,60.9 280.3,60.8 281.6,60.7 282.9,60.6 284.2,60.5 285.5,60.4 286.8,60.3 288,60.2 289.3,60.1 290.6,60 291.9,59.9 293.2,59.8 294.5,59.7 295.8,59.6 297.1,59.6 298.4,59.5 299.7,59.5 301,59.5 302.3,59.4 303.6,59.4 304.8,59.3 306.1,59.3 307.4,59.3 308.7,59.2 310,59.2 311.3,59.2 312.6,59.1 313.9,59.1 315.2,59.1 316.5,59 317.8,59 319.1,59 320.4,59 321.6,58.9 322.9,58.9 324.2,58.9 325.5,58.9 326.8,58.8 328.1,58.8 329.4,58.8 330.7,58.8 332,58.8 333.3,58.7 334.6,58.7 335.9,58.7 337.2,58.7 338.5,58.6 339.7,58.6 341,58.6 342.3,58.6 343.6,58.6 344.9,58.6 346.2,58.5 347.5,58.5 348.8,58.5 350.1,58.5 351.4,58.5 352.7,58.5 354,58.4 355.3,58.4 356.5,58.4 357.8,58.4 359.1,58.4 360.4,58.4 361.7,58.4 363,58.4 364.3,58.4" fill="none" stroke="#8d6a26" stroke-width="1.2" stroke-linejoin="round"/>
<polyline points="210.5,66.1 211.8,65.7 213.1,65.3 214.4,64.9 215.7,64.5 217,64.1 218.3,63.8 219.5,63.4 220.8,63.1 222.1,62.7 223.4,62.3 224.7,62 226,61.7 227.3,61.3 228.6,61.1 229.9,60.8 231.2,60.6 232.5,60.4 233.8,60.2 235.1,60.1 236.3,59.9 237.6,59.7 238.9,59.6 240.2,59.4 241.5,59.3 242.8,59.2 244.1,59 245.4,58.9 246.7,58.8 248,58.6 249.3,58.5 250.6,58.4 251.9,58.3 253.2,58.3 254.4,58.2 255.7,58.1 257,58 258.3,58 259.6,57.9 260.9,57.9 262.2,57.8 263.5,57.7 264.8,57.7 266.1,57.6 267.4,57.6 268.7,57.6 270,57.5 271.2,57.5 272.5,57.4 273.8,57.4 275.1,57.3 276.4,57.3 277.7,57.3 279,57.2 280.3,57.2 281.6,57.2 282.9,57.1 284.2,57.1 285.5,57.1 286.8,57.1 288,57 289.3,57 290.6,57 291.9,56.9 293.2,56.9 294.5,56.9 295.8,56.9 297.1,56.8 298.4,56.8 299.7,56.8 301,56.7 302.3,56.7 303.6,56.7 304.8,56.7 306.1,56.6 307.4,56.6 308.7,56.6 310,56.6 311.3,56.5 312.6,56.5 313.9,56.5 315.2,56.5 316.5,56.4 317.8,56.4 319.1,56.4 320.4,56.4 321.6,56.3 322.9,56.3 324.2,56.3 325.5,56.3 326.8,56.3 328.1,56.2 329.4,56.2 330.7,56.2 332,56.2 333.3,56.2 334.6,56.1 335.9,56.1 337.2,56.1 338.5,56.1 339.7,56.1 341,56.1 342.3,56 343.6,56 344.9,56 346.2,56 347.5,56 348.8,55.9 350.1,55.9 351.4,55.9 352.7,55.9 354,55.9 355.3,55.9 356.5,55.9 357.8,55.8 359.1,55.8 360.4,55.8 361.7,55.8 363,55.8 364.3,55.8" fill="none" stroke="#111111" stroke-width="1.2" stroke-linejoin="round"/>
<polyline points="210.5,105.2 211.8,103.4 213.1,101.6 214.4,99.9 215.7,98.3 217,96.7 218.3,95.1 219.5,93.6 220.8,92.2 222.1,90.8 223.4,89.5 224.7,88.2 226,87 227.3,85.7 228.6,84.4 229.9,83 231.2,81.6 232.5,80 233.8,78.4 235.1,76.8 236.3,75.2 237.6,73.8 238.9,72.5 240.2,71.4 241.5,70.5 242.8,69.6 244.1,68.8 245.4,68.1 246.7,67.5 248,66.8 249.3,66.2 250.6,65.6 251.9,65.1 253.2,64.5 254.4,64 255.7,63.5 257,63 258.3,62.6 259.6,62.1 260.9,61.7 262.2,61.2 263.5,60.8 264.8,60.4 266.1,60 267.4,59.6 268.7,59.3 270,58.9 271.2,58.5 272.5,58 273.8,57.6 275.1,57.1 276.4,56.6 277.7,56 279,55.5 280.3,54.9 281.6,54.4 282.9,53.9 284.2,53.3 285.5,52.9 286.8,52.4 288,51.9 289.3,51.4 290.6,51 291.9,50.5 293.2,50.1 294.5,49.7 295.8,49.4 297.1,49 298.4,48.7 299.7,48.4 301,48.2 302.3,47.9 303.6,47.6 304.8,47.4 306.1,47.1 307.4,46.9 308.7,46.7 310,46.4 311.3,46.2 312.6,46 313.9,45.8 315.2,45.5 316.5,45.3 317.8,45.1 319.1,44.9 320.4,44.7 321.6,44.5 322.9,44.3 324.2,44.2 325.5,44 326.8,43.8 328.1,43.6 329.4,43.4 330.7,43.2 332,43.1 333.3,42.9 334.6,42.7 335.9,42.6 337.2,42.4 338.5,42.3 339.7,42.1 341,42 342.3,41.8 343.6,41.6 344.9,41.5 346.2,41.3 347.5,41.1 348.8,41 350.1,40.8 351.4,40.6 352.7,40.4 354,40.2 355.3,40 356.5,39.8 357.8,39.6 359.1,39.4 360.4,39.2 361.7,39 363,38.8 364.3,38.6" fill="none" stroke="#7a22c8" stroke-width="1.2" stroke-linejoin="round"/>
<polyline points="210.5,100 211.8,98.4 213.1,96.8 214.4,95.3 215.7,93.9 217,92.5 218.3,91.2 219.5,89.9 220.8,88.8 222.1,87.7 223.4,86.7 224.7,85.8 226,84.9 227.3,84 228.6,83 229.9,81.9 231.2,80.5 232.5,79 233.8,77.4 235.1,75.8 236.3,74.2 237.6,72.8 238.9,71.5 240.2,70.5 241.5,69.7 242.8,69 244.1,68.3 245.4,67.7 246.7,67.2 248,66.6 249.3,66.1 250.6,65.6 251.9,65.1 253.2,64.6 254.4,64.1 255.7,63.6 257,63.1 258.3,62.6 259.6,62.1 260.9,61.7 262.2,61.2 263.5,60.8 264.8,60.3 266.1,59.9 267.4,59.4 268.7,59 270,58.6 271.2,58.1 272.5,57.6 273.8,57.1 275.1,56.6 276.4,56 277.7,55.4 279,54.8 280.3,54.2 281.6,53.6 282.9,53.1 284.2,52.5 285.5,52 286.8,51.5 288,51.1 289.3,50.6 290.6,50.2 291.9,49.8 293.2,49.3 294.5,48.9 295.8,48.5 297.1,48.1 298.4,47.7 299.7,47.3 301,46.9 302.3,46.5 303.6,46.1 304.8,45.7 306.1,45.3 307.4,45 308.7,44.6 310,44.2 311.3,43.8 312.6,43.5 313.9,43.1 315.2,42.7 316.5,42.4 317.8,42 319.1,41.6 320.4,41.3 321.6,40.9 322.9,40.6 324.2,40.2 325.5,39.9 326.8,39.5 328.1,39.2 329.4,38.8 330.7,38.4 332,38.1 333.3,37.7 334.6,37.3 335.9,36.9 337.2,36.5 338.5,36.1 339.7,35.7 341,35.3 342.3,34.9 343.6,34.5 344.9,34.1 346.2,33.8 347.5,33.4 348.8,33 350.1,32.6 351.4,32.2 352.7,31.8 354,31.4 355.3,31 356.5,30.6 357.8,30.2 359.1,29.9 360.4,29.5 361.7,29.1 363,28.7 364.3,28.3" fill="none" stroke="#1a86d8" stroke-width="1.2" stroke-linejoin="round"/>
<polyline points="210.5,104.3 211.8,100.1 213.1,96.2 214.4,92.7 215.7,89.6 217,87.1 218.3,84.8 219.5,82.8 220.8,80.9 222.1,79.3 223.4,78 224.7,76.9 226,75.9 227.3,75.1 228.6,74.3 229.9,73.4 231.2,72.6 232.5,71.8 233.8,71 235.1,70.3 236.3,69.5 237.6,68.8 238.9,68.1 240.2,67.5 241.5,66.8 242.8,66.2 244.1,65.6 245.4,65 246.7,64.4 248,63.8 249.3,63.3 250.6,62.7 251.9,62.2 253.2,61.6 254.4,61 255.7,60.5 257,59.9 258.3,59.2 259.6,58.6 260.9,58 262.2,57.3 263.5,56.7 264.8,56 266.1,55.3 267.4,54.7 268.7,54 270,53.4 271.2,52.7 272.5,52.1 273.8,51.4 275.1,50.8 276.4,50.2 277.7,49.5 279,48.9 280.3,48.2 281.6,47.6 282.9,47 284.2,46.5 285.5,46 286.8,45.5 288,45.1 289.3,44.7 290.6,44.2 291.9,43.9 293.2,43.5 294.5,43.1 295.8,42.8 297.1,42.4 298.4,42.1 299.7,41.7 301,41.4 302.3,41.1 303.6,40.7 304.8,40.4 306.1,40.1 307.4,39.8 308.7,39.5 310,39.2 311.3,39 312.6,38.7 313.9,38.4 315.2,38.2 316.5,37.9 317.8,37.7 319.1,37.5 320.4,37.3 321.6,37 322.9,36.8 324.2,36.6 325.5,36.4 326.8,36.2 328.1,35.9 329.4,35.7 330.7,35.5 332,35.3 333.3,35 334.6,34.8 335.9,34.6 337.2,34.4 338.5,34.1 339.7,33.9 341,33.7 342.3,33.5 343.6,33.2 344.9,33 346.2,32.8 347.5,32.5 348.8,32.3 350.1,32.1 351.4,31.9 352.7,31.6 354,31.4 355.3,31.2 356.5,31 357.8,30.7 359.1,30.5 360.4,30.3 361.7,30 363,29.8 364.3,29.6" fill="none" stroke="#f9ad0d" stroke-width="1.2" stroke-linejoin="round"/>
<polyline points="210.5,134.4 211.8,124.7 213.1,118.3 214.4,113.9 215.7,110.8 217,108.2 218.3,105.9 219.5,103.9 220.8,102 222.1,100.3 223.4,98.7 224.7,97.2 226,95.8 227.3,94.4 228.6,93.1 229.9,91.6 231.2,90.2 232.5,88.8 233.8,87.4 235.1,86 236.3,84.6 237.6,83.2 238.9,81.8 240.2,80.4 241.5,79 242.8,77.6 244.1,76.1 245.4,74.7 246.7,73.2 248,71.8 249.3,70.5 250.6,69.1 251.9,67.9 253.2,66.7 254.4,65.6 255.7,64.6 257,63.5 258.3,62.5 259.6,61.4 260.9,60.4 262.2,59.3 263.5,58.1 264.8,57 266.1,55.8 267.4,54.6 268.7,53.4 270,52.3 271.2,51.1 272.5,50 273.8,49 275.1,47.9 276.4,46.8 277.7,45.8 279,44.7 280.3,43.7 281.6,42.7 282.9,41.8 284.2,40.9 285.5,40 286.8,39.2 288,38.4 289.3,37.7 290.6,36.9 291.9,36.2 293.2,35.5 294.5,34.9 295.8,34.4 297.1,33.9 298.4,33.4 299.7,33 301,32.6 302.3,32.2 303.6,31.9 304.8,31.5 306.1,31.2 307.4,30.8 308.7,30.5 310,30.1 311.3,29.7 312.6,29.4 313.9,29 315.2,28.7 316.5,28.4 317.8,28 319.1,27.7 320.4,27.3 321.6,27 322.9,26.7 324.2,26.3 325.5,26 326.8,25.7 328.1,25.4 329.4,25 330.7,24.7 332,24.4 333.3,24.1 334.6,23.8 335.9,23.4 337.2,23.1 338.5,22.8 339.7,22.4 341,22.1 342.3,21.8 343.6,21.4 344.9,21.1 346.2,20.7 347.5,20.4 348.8,20.1 350.1,19.7 351.4,19.4 352.7,19 354,18.7 355.3,18.3 356.5,18 357.8,17.6 359.1,17.3 360.4,16.9 361.7,16.6 363,16.2 364.3,15.8" fill="none" stroke="#ff1b1b" stroke-width="1.2" stroke-linejoin="round"/>
</g>
<rect x="210.5" y="6.4" width="153.8" height="137.4" fill="none" stroke="#111111" stroke-width="1.4"/>
<line x1="227.6" y1="143.8" x2="227.6" y2="141.6" stroke="#111111" stroke-width="0.9"/>
<text x="227.6" y="152.6" font-size="7.3" text-anchor="middle" font-weight="bold" fill="#111111">−0.8</text>
<line x1="261.8" y1="143.8" x2="261.8" y2="141.6" stroke="#111111" stroke-width="0.9"/>
<text x="261.8" y="152.6" font-size="7.3" text-anchor="middle" font-weight="bold" fill="#111111">−0.4</text>
<line x1="295.9" y1="143.8" x2="295.9" y2="141.6" stroke="#111111" stroke-width="0.9"/>
<text x="295.9" y="152.6" font-size="7.3" text-anchor="middle" font-weight="bold" fill="#111111">0.0</text>
<line x1="330.1" y1="143.8" x2="330.1" y2="141.6" stroke="#111111" stroke-width="0.9"/>
<text x="330.1" y="152.6" font-size="7.3" text-anchor="middle" font-weight="bold" fill="#111111">0.4</text>
<line x1="364.3" y1="143.8" x2="364.3" y2="141.6" stroke="#111111" stroke-width="0.9"/>
<text x="364.3" y="152.6" font-size="7.3" text-anchor="middle" font-weight="bold" fill="#111111">0.8</text>
<line x1="244.7" y1="143.8" x2="244.7" y2="142.5" stroke="#111111" stroke-width="0.8"/>
<line x1="278.9" y1="143.8" x2="278.9" y2="142.5" stroke="#111111" stroke-width="0.8"/>
<line x1="313" y1="143.8" x2="313" y2="142.5" stroke="#111111" stroke-width="0.8"/>
<line x1="347.2" y1="143.8" x2="347.2" y2="142.5" stroke="#111111" stroke-width="0.8"/>
<line x1="210.5" y1="6.4" x2="212.7" y2="6.4" stroke="#111111" stroke-width="0.9"/>
<text x="208" y="8.9" font-size="7.3" text-anchor="end" font-weight="bold" fill="#111111">1.2</text>
<line x1="210.5" y1="23.6" x2="212.7" y2="23.6" stroke="#111111" stroke-width="0.9"/>
<text x="208" y="26.1" font-size="7.3" text-anchor="end" font-weight="bold" fill="#111111">0.8</text>
<line x1="210.5" y1="40.8" x2="212.7" y2="40.8" stroke="#111111" stroke-width="0.9"/>
<text x="208" y="43.3" font-size="7.3" text-anchor="end" font-weight="bold" fill="#111111">0.4</text>
<line x1="210.5" y1="57.9" x2="212.7" y2="57.9" stroke="#111111" stroke-width="0.9"/>
<text x="208" y="60.4" font-size="7.3" text-anchor="end" font-weight="bold" fill="#111111">0.0</text>
<line x1="210.5" y1="75.1" x2="212.7" y2="75.1" stroke="#111111" stroke-width="0.9"/>
<text x="208" y="77.6" font-size="7.3" text-anchor="end" font-weight="bold" fill="#111111">−0.4</text>
<line x1="210.5" y1="92.3" x2="212.7" y2="92.3" stroke="#111111" stroke-width="0.9"/>
<text x="208" y="94.8" font-size="7.3" text-anchor="end" font-weight="bold" fill="#111111">−0.8</text>
<line x1="210.5" y1="109.5" x2="212.7" y2="109.5" stroke="#111111" stroke-width="0.9"/>
<text x="208" y="112" font-size="7.3" text-anchor="end" font-weight="bold" fill="#111111">−1.2</text>
<line x1="210.5" y1="126.6" x2="212.7" y2="126.6" stroke="#111111" stroke-width="0.9"/>
<text x="208" y="129.1" font-size="7.3" text-anchor="end" font-weight="bold" fill="#111111">−1.6</text>
<line x1="210.5" y1="143.8" x2="212.7" y2="143.8" stroke="#111111" stroke-width="0.9"/>
<text x="208" y="146.3" font-size="7.3" text-anchor="end" font-weight="bold" fill="#111111">−2.0</text>
<line x1="210.5" y1="15" x2="211.8" y2="15" stroke="#111111" stroke-width="0.8"/>
<line x1="210.5" y1="32.2" x2="211.8" y2="32.2" stroke="#111111" stroke-width="0.8"/>
<line x1="210.5" y1="49.3" x2="211.8" y2="49.3" stroke="#111111" stroke-width="0.8"/>
<line x1="210.5" y1="66.5" x2="211.8" y2="66.5" stroke="#111111" stroke-width="0.8"/>
<line x1="210.5" y1="83.7" x2="211.8" y2="83.7" stroke="#111111" stroke-width="0.8"/>
<line x1="210.5" y1="100.9" x2="211.8" y2="100.9" stroke="#111111" stroke-width="0.8"/>
<line x1="210.5" y1="118" x2="211.8" y2="118" stroke="#111111" stroke-width="0.8"/>
<line x1="210.5" y1="135.2" x2="211.8" y2="135.2" stroke="#111111" stroke-width="0.8"/>
<text x="286.5" y="160" font-size="7.7" text-anchor="middle" font-weight="bold" fill="#111111">Potential V <tspan font-style="italic">vs</tspan> Ag/AgCl</text>
<text x="192.8" y="68.7" font-size="8.1" text-anchor="middle" font-weight="bold" fill="#111111" transform="rotate(-90 192.8 68.7)">Photocurrent density (mA cm<tspan dy="-2.5" font-size="5.5">-2</tspan><tspan dy="2.5">)</tspan></text>
<text x="223" y="18.7" font-size="12.1" text-anchor="middle" font-weight="bold" fill="#111111">(b)</text>
<line x1="308.4" y1="95.7" x2="321.5" y2="95.7" stroke="#8d6a26" stroke-width="1.2"/>
<text x="323.8" y="97.9" font-size="6.3" text-anchor="start" font-weight="bold" fill="#111111">Dark</text>
<line x1="308.4" y1="103.5" x2="321.5" y2="103.5" stroke="#111111" stroke-width="1.2"/>
<text x="323.8" y="105.7" font-size="6.3" text-anchor="start" font-weight="bold" fill="#111111">CN</text>
<line x1="308.4" y1="111.3" x2="321.5" y2="111.3" stroke="#7a22c8" stroke-width="1.2"/>
<text x="323.8" y="113.5" font-size="6.3" text-anchor="start" font-weight="bold" fill="#111111">CN:PDI</text>
<line x1="308.4" y1="119.1" x2="321.5" y2="119.1" stroke="#1a86d8" stroke-width="1.2"/>
<text x="323.8" y="121.3" font-size="6.3" text-anchor="start" font-weight="bold" fill="#111111">Exf. CN:PDI</text>
<line x1="308.4" y1="127" x2="321.5" y2="127" stroke="#f9ad0d" stroke-width="1.2"/>
<text x="323.8" y="129.2" font-size="6.3" text-anchor="start" font-weight="bold" fill="#111111">CdS</text>
<line x1="308.4" y1="134.8" x2="321.5" y2="134.8" stroke="#ff1b1b" stroke-width="1.2"/>
<text x="323.8" y="137" font-size="6.3" text-anchor="start" font-weight="bold" fill="#111111">CdS/CN:PDI</text>
<polyline points="394.8,82.6 423.1,109.1 443.6,117.7 474.4,126.7 505.2,130.2 536.1,130.7" fill="none" stroke="#333333" stroke-width="1.15" stroke-linejoin="round"/>
<polyline points="394.8,58.6 423.1,124.7 443.6,128.2 474.4,129.2 505.2,130.2 536.1,130.7" fill="none" stroke="#7a22c8" stroke-width="1.15" stroke-linejoin="round"/>
<polyline points="394.8,102.1 423.1,114.2 443.6,128.2 474.4,129.2 505.2,129.7 536.1,130.2" fill="none" stroke="#1a86d8" stroke-width="1.15" stroke-linejoin="round"/>
<polyline points="394.8,62.6 423.1,103.6 443.6,119.7 474.4,125.7 505.2,129.2 536.1,129.2" fill="none" stroke="#f9ad0d" stroke-width="1.15" stroke-linejoin="round"/>
<polyline points="394.8,24.5 423.1,75.1 443.6,105.6 474.4,124.2 505.2,126.2 536.1,126.7" fill="none" stroke="#ff1b1b" stroke-width="1.15" stroke-linejoin="round"/>
<rect x="393" y="80.8" width="3.6" height="3.6" fill="#999999" stroke="#333" stroke-width="0.7"/>
<rect x="421.3" y="107.4" width="3.6" height="3.6" fill="#999999" stroke="#333" stroke-width="0.7"/>
<rect x="441.8" y="115.9" width="3.6" height="3.6" fill="#999999" stroke="#333" stroke-width="0.7"/>
<rect x="472.6" y="124.9" width="3.6" height="3.6" fill="#999999" stroke="#333" stroke-width="0.7"/>
<rect x="503.5" y="128.4" width="3.6" height="3.6" fill="#999999" stroke="#333" stroke-width="0.7"/>
<rect x="534.3" y="128.9" width="3.6" height="3.6" fill="#999999" stroke="#333" stroke-width="0.7"/>
<circle cx="394.8" cy="58.6" r="2.1" fill="#7a22c8" stroke="#7a22c8" stroke-width="0.7"/>
<circle cx="423.1" cy="124.7" r="2.1" fill="#7a22c8" stroke="#7a22c8" stroke-width="0.7"/>
<circle cx="443.6" cy="128.2" r="2.1" fill="#7a22c8" stroke="#7a22c8" stroke-width="0.7"/>
<circle cx="474.4" cy="129.2" r="2.1" fill="#7a22c8" stroke="#7a22c8" stroke-width="0.7"/>
<circle cx="505.2" cy="130.2" r="2.1" fill="#7a22c8" stroke="#7a22c8" stroke-width="0.7"/>
<circle cx="536.1" cy="130.7" r="2.1" fill="#7a22c8" stroke="#7a22c8" stroke-width="0.7"/>
<polygon points="394.8,99.7 397,103.6 392.6,103.6" fill="#1a86d8" stroke="#1a86d8" stroke-width="0.7"/>
<polygon points="423.1,111.7 425.3,115.6 420.9,115.6" fill="#1a86d8" stroke="#1a86d8" stroke-width="0.7"/>
<polygon points="443.6,125.8 445.8,129.6 441.4,129.6" fill="#1a86d8" stroke="#1a86d8" stroke-width="0.7"/>
<polygon points="474.4,126.8 476.6,130.6 472.2,130.6" fill="#1a86d8" stroke="#1a86d8" stroke-width="0.7"/>
<polygon points="505.2,127.3 507.4,131.1 503,131.1" fill="#1a86d8" stroke="#1a86d8" stroke-width="0.7"/>
<polygon points="536.1,127.8 538.3,131.6 533.9,131.6" fill="#1a86d8" stroke="#1a86d8" stroke-width="0.7"/>
<polygon points="394.8,65 397,61.1 392.6,61.1" fill="#f6c860" stroke="#f9ad0d" stroke-width="0.7"/>
<polygon points="423.1,106.1 425.3,102.2 420.9,102.2" fill="#f6c860" stroke="#f9ad0d" stroke-width="0.7"/>
<polygon points="443.6,122.1 445.8,118.2 441.4,118.2" fill="#f6c860" stroke="#f9ad0d" stroke-width="0.7"/>
<polygon points="474.4,128.1 476.6,124.2 472.2,124.2" fill="#f6c860" stroke="#f9ad0d" stroke-width="0.7"/>
<polygon points="505.2,131.6 507.4,127.7 503,127.7" fill="#f6c860" stroke="#f9ad0d" stroke-width="0.7"/>
<polygon points="536.1,131.6 538.3,127.7 533.9,127.7" fill="#f6c860" stroke="#f9ad0d" stroke-width="0.7"/>
<polygon points="394.8,22 397.3,24.5 394.8,27 392.3,24.5" fill="#ff1b1b" stroke="#ff1b1b" stroke-width="0.7"/>
<polygon points="423.1,72.6 425.6,75.1 423.1,77.6 420.5,75.1" fill="#ff1b1b" stroke="#ff1b1b" stroke-width="0.7"/>
<polygon points="443.6,103.1 446.1,105.6 443.6,108.2 441.1,105.6" fill="#ff1b1b" stroke="#ff1b1b" stroke-width="0.7"/>
<polygon points="474.4,121.7 476.9,124.2 474.4,126.7 471.9,124.2" fill="#ff1b1b" stroke="#ff1b1b" stroke-width="0.7"/>
<polygon points="505.2,123.7 507.8,126.2 505.2,128.7 502.7,126.2" fill="#ff1b1b" stroke="#ff1b1b" stroke-width="0.7"/>
<polygon points="536.1,124.2 538.6,126.7 536.1,129.2 533.5,126.7" fill="#ff1b1b" stroke="#ff1b1b" stroke-width="0.7"/>
<rect x="387.1" y="6.5" width="154.1" height="137.7" fill="none" stroke="#111111" stroke-width="1.4"/>
<line x1="387.1" y1="144.2" x2="387.1" y2="142" stroke="#111111" stroke-width="0.9"/>
<text x="387.1" y="153" font-size="7.3" text-anchor="middle" font-weight="bold" fill="#111111">350</text>
<line x1="412.8" y1="144.2" x2="412.8" y2="142" stroke="#111111" stroke-width="0.9"/>
<text x="412.8" y="153" font-size="7.3" text-anchor="middle" font-weight="bold" fill="#111111">400</text>
<line x1="438.5" y1="144.2" x2="438.5" y2="142" stroke="#111111" stroke-width="0.9"/>
<text x="438.5" y="153" font-size="7.3" text-anchor="middle" font-weight="bold" fill="#111111">450</text>
<line x1="464.2" y1="144.2" x2="464.2" y2="142" stroke="#111111" stroke-width="0.9"/>
<text x="464.2" y="153" font-size="7.3" text-anchor="middle" font-weight="bold" fill="#111111">500</text>
<line x1="489.8" y1="144.2" x2="489.8" y2="142" stroke="#111111" stroke-width="0.9"/>
<text x="489.8" y="153" font-size="7.3" text-anchor="middle" font-weight="bold" fill="#111111">550</text>
<line x1="515.5" y1="144.2" x2="515.5" y2="142" stroke="#111111" stroke-width="0.9"/>
<text x="515.5" y="153" font-size="7.3" text-anchor="middle" font-weight="bold" fill="#111111">600</text>
<line x1="541.2" y1="144.2" x2="541.2" y2="142" stroke="#111111" stroke-width="0.9"/>
<text x="541.2" y="153" font-size="7.3" text-anchor="middle" font-weight="bold" fill="#111111">650</text>
<line x1="399.9" y1="144.2" x2="399.9" y2="142.9" stroke="#111111" stroke-width="0.8"/>
<line x1="425.6" y1="144.2" x2="425.6" y2="142.9" stroke="#111111" stroke-width="0.8"/>
<line x1="451.3" y1="144.2" x2="451.3" y2="142.9" stroke="#111111" stroke-width="0.8"/>
<line x1="477" y1="144.2" x2="477" y2="142.9" stroke="#111111" stroke-width="0.8"/>
<line x1="502.7" y1="144.2" x2="502.7" y2="142.9" stroke="#111111" stroke-width="0.8"/>
<line x1="528.4" y1="144.2" x2="528.4" y2="142.9" stroke="#111111" stroke-width="0.8"/>
<line x1="387.1" y1="131.7" x2="389.3" y2="131.7" stroke="#111111" stroke-width="0.9"/>
<text x="384.6" y="134.2" font-size="7.3" text-anchor="end" font-weight="bold" fill="#111111">0.0</text>
<line x1="387.1" y1="106.6" x2="389.3" y2="106.6" stroke="#111111" stroke-width="0.9"/>
<text x="384.6" y="109.1" font-size="7.3" text-anchor="end" font-weight="bold" fill="#111111">0.5</text>
<line x1="387.1" y1="81.6" x2="389.3" y2="81.6" stroke="#111111" stroke-width="0.9"/>
<text x="384.6" y="84.1" font-size="7.3" text-anchor="end" font-weight="bold" fill="#111111">1.0</text>
<line x1="387.1" y1="56.6" x2="389.3" y2="56.6" stroke="#111111" stroke-width="0.9"/>
<text x="384.6" y="59.1" font-size="7.3" text-anchor="end" font-weight="bold" fill="#111111">1.5</text>
<line x1="387.1" y1="31.5" x2="389.3" y2="31.5" stroke="#111111" stroke-width="0.9"/>
<text x="384.6" y="34" font-size="7.3" text-anchor="end" font-weight="bold" fill="#111111">2.0</text>
<line x1="387.1" y1="6.5" x2="389.3" y2="6.5" stroke="#111111" stroke-width="0.9"/>
<text x="384.6" y="9" font-size="7.3" text-anchor="end" font-weight="bold" fill="#111111">2.5</text>
<line x1="387.1" y1="119.2" x2="388.4" y2="119.2" stroke="#111111" stroke-width="0.8"/>
<line x1="387.1" y1="94.1" x2="388.4" y2="94.1" stroke="#111111" stroke-width="0.8"/>
<line x1="387.1" y1="69.1" x2="388.4" y2="69.1" stroke="#111111" stroke-width="0.8"/>
<line x1="387.1" y1="44.1" x2="388.4" y2="44.1" stroke="#111111" stroke-width="0.8"/>
<line x1="387.1" y1="19" x2="388.4" y2="19" stroke="#111111" stroke-width="0.8"/>
<text x="464" y="160.5" font-size="8" text-anchor="middle" font-weight="bold" fill="#111111">Wavelength (nm)</text>
<text x="373.5" y="70.6" font-size="7.8" text-anchor="middle" font-weight="bold" fill="#111111" transform="rotate(-90 373.5 70.6)">IPCE%</text>
<text x="399.5" y="18.2" font-size="12.1" text-anchor="middle" font-weight="bold" fill="#111111">(c)</text>
<line x1="483.6" y1="14.8" x2="498.6" y2="14.8" stroke="#333333" stroke-width="1.2"/>
<rect x="489.6" y="13.4" width="2.9" height="2.9" fill="#999999" stroke="#333" stroke-width="0.6"/>
<text x="500" y="17" font-size="6.3" text-anchor="start" font-weight="bold" fill="#111111">CN</text>
<line x1="483.6" y1="22.7" x2="498.6" y2="22.7" stroke="#7a22c8" stroke-width="1.2"/>
<circle cx="491" cy="22.7" r="1.7" fill="#7a22c8" stroke="#7a22c8" stroke-width="0.6"/>
<text x="500" y="24.9" font-size="6.3" text-anchor="start" font-weight="bold" fill="#111111">CN:PDI</text>
<line x1="483.6" y1="30.9" x2="498.6" y2="30.9" stroke="#1a86d8" stroke-width="1.2"/>
<polygon points="491,28.9 492.8,32.1 489.2,32.1" fill="#1a86d8" stroke="#1a86d8" stroke-width="0.6"/>
<text x="500" y="33.1" font-size="6.3" text-anchor="start" font-weight="bold" fill="#111111">Exf. CN:PDI</text>
<line x1="483.6" y1="38.6" x2="498.6" y2="38.6" stroke="#f9ad0d" stroke-width="1.2"/>
<polygon points="491,40.6 492.8,37.4 489.2,37.4" fill="#f6c860" stroke="#f9ad0d" stroke-width="0.6"/>
<text x="500" y="40.8" font-size="6.3" text-anchor="start" font-weight="bold" fill="#111111">CdS</text>
<line x1="483.6" y1="46.6" x2="498.6" y2="46.6" stroke="#ff1b1b" stroke-width="1.2"/>
<polygon points="491,44.6 493,46.6 491,48.6 489,46.6" fill="#ff1b1b" stroke="#ff1b1b" stroke-width="0.6"/>
<text x="500" y="48.8" font-size="6.3" text-anchor="start" font-weight="bold" fill="#111111">CdS/CN:PDI</text>
</svg></body></html>
